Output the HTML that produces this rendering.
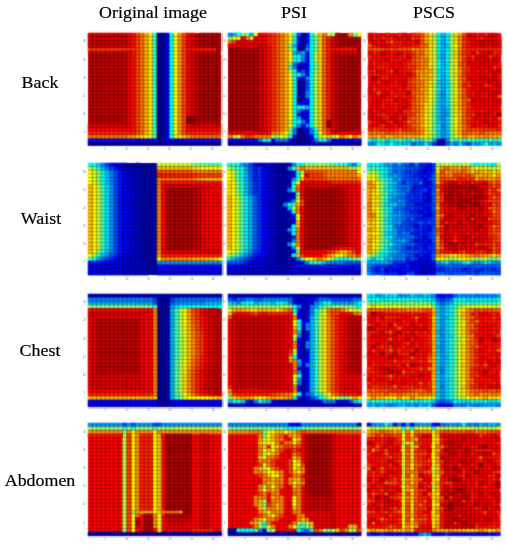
<!DOCTYPE html>
<html><head><meta charset="utf-8"><title>Figure</title>
<style>
html,body{margin:0;padding:0;background:#fff}
body{width:507px;height:550px;position:relative;overflow:hidden;font-family:"Liberation Serif",serif;color:#111}
.hm{position:absolute;display:block}
.k{stroke-width:.6px;vector-effect:non-scaling-stroke}
.gl{fill:none;stroke:#000;stroke-opacity:0.5;stroke-width:0.6px;vector-effect:non-scaling-stroke}
.t{position:absolute;white-space:nowrap;font-size:17.3px;line-height:20px;color:#000;-webkit-text-stroke:.2px #000}
.c{transform:translateX(-50%) scaleX(1.035)}
.tk{position:absolute;font-family:"Liberation Sans",sans-serif;font-size:2.8px;line-height:3px;color:#8a8a8a;width:4px;text-align:center}
</style></head><body>
<svg width="0" height="0" style="position:absolute"><defs><filter id="bl" x="0" y="0" width="100%" height="100%" color-interpolation-filters="sRGB"><feConvolveMatrix order="3" kernelMatrix="1 4 1 4 16 4 1 4 1" edgeMode="duplicate"/></filter></defs></svg>
<div class="t c" style="left:152.9px;top:2.7px">Original image</div>
<div class="t c" style="left:294.2px;top:2.7px">PSI</div>
<div class="t c" style="left:434.3px;top:2.7px">PSCS</div>
<div class="t c" style="left:40.3px;top:72.7px">Back</div>
<div class="t c" style="left:40.6px;top:209.3px">Waist</div>
<div class="t c" style="left:40px;top:340.6px">Chest</div>
<div class="t c" style="left:40.1px;top:470.5px">Abdomen</div>

<svg class="hm" style="left:86px;top:31px" width="136.9" height="116.5">
<g filter="url(#bl)"><rect width="100%" height="100%" fill="#fff"/>
<g transform="translate(2 2) scale(4.2871 3.6290)">
<rect width="31" height="31" fill="#bf0000"/>
<path class="k" fill="#00008f" stroke="#00008f" d="M16 30h2v1h-2z"/>
<path class="k" fill="#00009f" stroke="#00009f" d="M16 0h2v1h-2zM16 1h2v1h-2zM16 2h2v1h-2zM16 3h2v1h-2zM16 4h2v1h-2zM16 5h2v1h-2zM16 6h2v1h-2zM16 7h2v1h-2zM16 8h2v1h-2zM16 9h2v1h-2zM16 10h2v1h-2zM16 11h2v1h-2zM16 12h2v1h-2zM16 13h2v1h-2zM16 14h2v1h-2zM16 15h2v1h-2zM16 16h2v1h-2zM16 17h2v1h-2zM16 18h2v1h-2zM16 19h2v1h-2zM16 20h2v1h-2zM16 21h2v1h-2zM16 22h2v1h-2zM16 23h2v1h-2zM16 24h2v1h-2zM16 25h2v1h-2zM16 26h2v1h-2zM16 27h2v1h-2zM16 28h2v1h-2zM0 30h16v1h-16zM18 30h13v1h-13z"/>
<path class="k" fill="#0000af" stroke="#0000af" d="M16 29h2v1h-2z"/>
<path class="k" fill="#0000df" stroke="#0000df" d="M18 0h1v1h-1zM18 1h1v1h-1zM18 2h1v1h-1zM18 3h1v1h-1zM18 4h1v1h-1zM18 5h1v1h-1zM18 6h1v1h-1zM18 7h1v1h-1zM18 8h1v1h-1zM18 9h1v1h-1zM18 10h1v1h-1zM18 11h1v1h-1zM18 12h1v1h-1zM18 13h1v1h-1zM18 14h1v1h-1zM18 15h1v1h-1zM18 16h1v1h-1zM18 17h1v1h-1zM18 18h1v1h-1zM18 19h1v1h-1zM18 20h1v1h-1zM18 21h1v1h-1zM18 22h1v1h-1zM18 23h1v1h-1zM18 24h1v1h-1zM18 25h1v1h-1zM18 26h1v1h-1zM18 27h1v1h-1z"/>
<path class="k" fill="#0000ef" stroke="#0000ef" d="M18 28h1v1h-1z"/>
<path class="k" fill="#0000ff" stroke="#0000ff" d="M0 29h16v1h-16zM18 29h13v1h-13z"/>
<path class="k" fill="#00ffff" stroke="#00ffff" d="M19 0h1v1h-1zM19 1h1v1h-1zM19 2h1v1h-1zM19 3h1v1h-1zM19 4h1v1h-1zM19 5h1v1h-1zM19 6h1v1h-1zM19 7h1v1h-1zM19 8h1v1h-1zM19 9h1v1h-1zM19 10h1v1h-1zM19 11h1v1h-1zM19 12h1v1h-1zM19 13h1v1h-1zM19 14h1v1h-1zM19 15h1v1h-1zM19 16h1v1h-1zM19 17h1v1h-1zM19 18h1v1h-1zM19 19h1v1h-1zM19 20h1v1h-1zM19 21h1v1h-1zM19 22h1v1h-1zM19 23h1v1h-1zM19 24h1v1h-1zM19 25h1v1h-1zM19 26h1v1h-1zM19 27h1v1h-1z"/>
<path class="k" fill="#20ffdf" stroke="#20ffdf" d="M19 28h1v1h-1z"/>
<path class="k" fill="#30ffcf" stroke="#30ffcf" d="M15 0h1v1h-1zM15 1h1v1h-1zM15 2h1v1h-1zM15 3h1v1h-1zM15 4h1v1h-1zM15 5h1v1h-1zM15 6h1v1h-1zM15 7h1v1h-1zM15 8h1v1h-1zM15 9h1v1h-1zM15 10h1v1h-1zM15 11h1v1h-1zM15 12h1v1h-1zM15 13h1v1h-1zM15 14h1v1h-1zM15 15h1v1h-1zM15 16h1v1h-1zM15 17h1v1h-1zM15 18h1v1h-1zM15 19h1v1h-1zM15 20h1v1h-1zM15 21h1v1h-1zM15 22h1v1h-1zM15 23h1v1h-1zM15 24h1v1h-1zM15 25h1v1h-1zM15 26h1v1h-1zM15 27h1v1h-1z"/>
<path class="k" fill="#50ffaf" stroke="#50ffaf" d="M15 28h1v1h-1z"/>
<path class="k" fill="#dfff20" stroke="#dfff20" d="M14 28h1v1h-1zM20 28h1v1h-1z"/>
<path class="k" fill="#ffff00" stroke="#ffff00" d="M20 0h1v1h-1zM20 1h1v1h-1zM20 2h1v1h-1zM20 3h1v1h-1zM20 4h1v1h-1zM20 5h1v1h-1zM20 6h1v1h-1zM20 7h1v1h-1zM20 8h1v1h-1zM20 9h1v1h-1zM20 10h1v1h-1zM20 11h1v1h-1zM20 12h1v1h-1zM20 13h1v1h-1zM20 14h1v1h-1zM20 15h1v1h-1zM20 16h1v1h-1zM20 17h1v1h-1zM20 18h1v1h-1zM20 19h1v1h-1zM20 20h1v1h-1zM20 21h1v1h-1zM20 22h1v1h-1zM20 23h1v1h-1zM20 24h1v1h-1zM20 25h1v1h-1zM20 26h1v1h-1zM20 27h1v1h-1zM13 28h1v1h-1z"/>
<path class="k" fill="#ffef00" stroke="#ffef00" d="M14 0h1v1h-1zM14 1h1v1h-1zM14 2h1v1h-1zM14 3h1v1h-1zM14 4h1v1h-1zM14 5h1v1h-1zM14 6h1v1h-1zM14 7h1v1h-1zM14 8h1v1h-1zM14 9h1v1h-1zM14 10h1v1h-1zM14 11h1v1h-1zM14 12h1v1h-1zM14 13h1v1h-1zM14 14h1v1h-1zM14 15h1v1h-1zM14 16h1v1h-1zM14 17h1v1h-1zM14 18h1v1h-1zM14 19h1v1h-1zM14 20h1v1h-1zM14 21h1v1h-1zM14 22h1v1h-1zM14 23h1v1h-1zM14 24h1v1h-1zM14 25h1v1h-1zM14 26h1v1h-1zM14 27h1v1h-1zM21 28h1v1h-1z"/>
<path class="k" fill="#ffdf00" stroke="#ffdf00" d="M12 28h1v1h-1z"/>
<path class="k" fill="#ffbf00" stroke="#ffbf00" d="M11 28h1v1h-1zM22 28h1v1h-1z"/>
<path class="k" fill="#ffaf00" stroke="#ffaf00" d="M13 0h1v1h-1zM13 1h1v1h-1zM13 2h1v1h-1zM13 3h1v1h-1zM13 4h1v1h-1zM13 5h1v1h-1zM13 6h1v1h-1zM13 7h1v1h-1zM13 8h1v1h-1zM13 9h1v1h-1zM13 10h1v1h-1zM13 11h1v1h-1zM13 12h1v1h-1zM13 13h1v1h-1zM13 14h1v1h-1zM13 15h1v1h-1zM13 16h1v1h-1zM13 17h1v1h-1zM13 18h1v1h-1zM13 19h1v1h-1zM13 20h1v1h-1zM13 21h1v1h-1zM13 22h1v1h-1zM13 23h1v1h-1zM13 24h1v1h-1zM13 25h1v1h-1zM13 26h1v1h-1zM13 27h1v1h-1z"/>
<path class="k" fill="#ff9f00" stroke="#ff9f00" d="M10 28h1v1h-1zM23 28h1v1h-1z"/>
<path class="k" fill="#ff8f00" stroke="#ff8f00" d="M21 0h1v1h-1zM21 1h1v1h-1zM21 2h1v1h-1zM21 3h1v1h-1zM21 4h1v1h-1zM21 5h1v1h-1zM21 6h1v1h-1zM21 7h1v1h-1zM21 8h1v1h-1zM21 9h1v1h-1zM21 10h1v1h-1zM21 11h1v1h-1zM21 12h1v1h-1zM21 13h1v1h-1zM21 14h1v1h-1zM21 15h1v1h-1zM21 16h1v1h-1zM21 17h1v1h-1zM21 18h1v1h-1zM21 19h1v1h-1zM21 20h1v1h-1zM21 21h1v1h-1zM21 22h1v1h-1zM21 23h1v1h-1zM21 24h1v1h-1zM21 25h1v1h-1zM21 26h1v1h-1zM21 27h1v1h-1zM9 28h1v1h-1z"/>
<path class="k" fill="#ff7000" stroke="#ff7000" d="M12 0h1v1h-1zM12 1h1v1h-1zM12 2h1v1h-1zM12 3h1v1h-1zM12 4h1v1h-1zM12 5h1v1h-1zM12 6h1v1h-1zM12 7h1v1h-1zM12 8h1v1h-1zM12 9h1v1h-1zM12 10h1v1h-1zM12 11h1v1h-1zM12 12h1v1h-1zM12 13h1v1h-1zM12 14h1v1h-1zM12 15h1v1h-1zM12 16h1v1h-1zM12 17h1v1h-1zM12 18h1v1h-1zM12 19h1v1h-1zM12 20h1v1h-1zM12 21h1v1h-1zM12 22h1v1h-1zM12 23h1v1h-1zM12 24h1v1h-1zM12 25h1v1h-1zM12 26h1v1h-1zM12 27h1v1h-1zM0 28h9v1h-9zM24 28h7v1h-7z"/>
<path class="k" fill="#ff4000" stroke="#ff4000" d="M11 0h1v1h-1zM22 0h1v1h-1zM11 1h1v1h-1zM22 1h1v1h-1zM11 2h1v1h-1zM22 2h1v1h-1zM11 3h1v1h-1zM22 3h1v1h-1zM11 4h1v1h-1zM22 4h1v1h-1zM11 5h1v1h-1zM22 5h1v1h-1zM11 6h1v1h-1zM22 6h1v1h-1zM11 7h1v1h-1zM22 7h1v1h-1zM11 8h1v1h-1zM22 8h1v1h-1zM11 9h1v1h-1zM22 9h1v1h-1zM11 10h1v1h-1zM22 10h1v1h-1zM11 11h1v1h-1zM22 11h1v1h-1zM11 12h1v1h-1zM22 12h1v1h-1zM11 13h1v1h-1zM22 13h1v1h-1zM11 14h1v1h-1zM22 14h1v1h-1zM11 15h1v1h-1zM22 15h1v1h-1zM11 16h1v1h-1zM22 16h1v1h-1zM11 17h1v1h-1zM22 17h1v1h-1zM11 18h1v1h-1zM22 18h1v1h-1zM11 19h1v1h-1zM22 19h1v1h-1zM11 20h1v1h-1zM22 20h1v1h-1zM11 21h1v1h-1zM22 21h1v1h-1zM11 22h1v1h-1zM22 22h1v1h-1zM11 23h1v1h-1zM22 23h1v1h-1zM11 24h1v1h-1zM22 24h1v1h-1zM11 25h1v1h-1zM22 25h1v1h-1zM11 26h1v1h-1zM22 26h1v1h-1zM11 27h1v1h-1zM22 27h1v1h-1z"/>
<path class="k" fill="#ff3000" stroke="#ff3000" d="M0 4h11v1h-11z"/>
<path class="k" fill="#ff2000" stroke="#ff2000" d="M0 27h11v1h-11zM23 27h8v1h-8z"/>
<path class="k" fill="#ff1000" stroke="#ff1000" d="M10 0h1v1h-1zM10 1h1v1h-1zM10 2h1v1h-1zM10 3h1v1h-1zM23 4h7v1h-7zM10 5h1v1h-1zM10 6h1v1h-1zM10 7h1v1h-1zM10 8h1v1h-1zM10 9h1v1h-1zM10 10h1v1h-1zM10 11h1v1h-1zM10 12h1v1h-1zM10 13h1v1h-1zM10 14h1v1h-1zM10 15h1v1h-1zM10 16h1v1h-1zM10 17h1v1h-1zM10 18h1v1h-1zM10 19h1v1h-1zM10 20h1v1h-1zM10 21h1v1h-1zM10 22h1v1h-1zM10 23h1v1h-1zM10 24h1v1h-1zM10 25h1v1h-1zM10 26h1v1h-1z"/>
<path class="k" fill="#ff0000" stroke="#ff0000" d="M23 0h1v1h-1zM23 1h1v1h-1zM23 2h1v1h-1zM23 3h1v1h-1zM23 5h1v1h-1zM23 6h1v1h-1zM23 7h1v1h-1zM23 8h1v1h-1zM23 9h1v1h-1zM23 10h1v1h-1zM23 11h1v1h-1zM23 12h1v1h-1zM23 13h1v1h-1zM23 14h1v1h-1zM23 15h1v1h-1zM23 16h1v1h-1zM23 17h1v1h-1zM23 18h1v1h-1zM23 19h1v1h-1zM23 20h1v1h-1zM23 21h1v1h-1zM23 22h1v1h-1zM23 25h1v1h-1zM0 26h10v1h-10zM23 26h8v1h-8z"/>
<path class="k" fill="#ef0000" stroke="#ef0000" d="M9 0h1v1h-1zM9 1h1v1h-1zM9 2h1v1h-1zM9 3h1v1h-1zM9 5h1v1h-1zM9 6h1v1h-1zM9 7h1v1h-1zM9 8h1v1h-1zM9 9h1v1h-1zM9 10h1v1h-1zM9 11h1v1h-1zM9 12h1v1h-1zM9 13h1v1h-1zM9 14h1v1h-1zM9 15h1v1h-1zM9 16h1v1h-1zM9 17h1v1h-1zM9 18h1v1h-1zM9 19h1v1h-1zM9 20h1v1h-1zM9 21h1v1h-1zM9 22h1v1h-1zM9 23h1v1h-1zM9 24h1v1h-1zM9 25h1v1h-1z"/>
<path class="k" fill="#df0000" stroke="#df0000" d="M24 0h1v1h-1zM24 1h1v1h-1zM24 2h1v1h-1zM24 3h1v1h-1zM24 5h1v1h-1zM24 6h1v1h-1zM24 7h1v1h-1zM24 8h1v1h-1zM24 9h1v1h-1zM24 10h1v1h-1zM24 11h1v1h-1zM24 12h1v1h-1zM24 13h1v1h-1zM24 14h1v1h-1zM24 15h1v1h-1zM24 16h1v1h-1zM24 17h1v1h-1zM24 18h1v1h-1zM24 19h1v1h-1zM24 20h1v1h-1zM24 21h1v1h-1zM24 22h1v1h-1zM0 25h9v1h-9zM24 25h7v1h-7z"/>
<path class="k" fill="#cf0000" stroke="#cf0000" d="M0 0h9v1h-9zM0 1h9v1h-9zM0 2h9v1h-9zM0 3h9v1h-9zM8 5h1v1h-1zM8 6h1v1h-1zM8 7h1v1h-1zM8 8h1v1h-1zM8 9h1v1h-1zM8 10h1v1h-1zM8 11h1v1h-1zM8 12h1v1h-1zM8 13h1v1h-1zM8 14h1v1h-1zM8 15h1v1h-1zM8 16h1v1h-1zM8 17h1v1h-1zM8 18h1v1h-1zM8 19h1v1h-1zM8 20h1v1h-1zM8 21h1v1h-1zM8 22h1v1h-1zM8 23h1v1h-1zM8 24h1v1h-1z"/>
<path class="k" fill="#af0000" stroke="#af0000" d="M26 0h5v1h-5zM26 1h5v1h-5zM26 2h5v1h-5zM26 3h5v1h-5zM30 4h1v1h-1zM26 6h5v1h-5zM26 7h5v1h-5zM26 8h5v1h-5zM26 9h5v1h-5zM26 10h5v1h-5zM26 11h5v1h-5zM26 12h5v1h-5zM26 13h5v1h-5zM26 14h5v1h-5zM26 15h5v1h-5zM26 16h5v1h-5zM26 17h5v1h-5zM26 18h5v1h-5zM26 19h5v1h-5zM26 20h5v1h-5zM26 21h5v1h-5zM26 22h5v1h-5zM26 23h5v1h-5z"/>
<path class="k" fill="#8f0000" stroke="#8f0000" d="M23 23h2v1h-2zM23 24h2v1h-2z"/>
<path class="gl" d="M1 0V31M0 1H31M2 0V31M0 2H31M3 0V31M0 3H31M4 0V31M0 4H31M5 0V31M0 5H31M6 0V31M0 6H31M7 0V31M0 7H31M8 0V31M0 8H31M9 0V31M0 9H31M10 0V31M0 10H31M11 0V31M0 11H31M12 0V31M0 12H31M13 0V31M0 13H31M14 0V31M0 14H31M15 0V31M0 15H31M16 0V31M0 16H31M17 0V31M0 17H31M18 0V31M0 18H31M19 0V31M0 19H31M20 0V31M0 20H31M21 0V31M0 21H31M22 0V31M0 22H31M23 0V31M0 23H31M24 0V31M0 24H31M25 0V31M0 25H31M26 0V31M0 26H31M27 0V31M0 27H31M28 0V31M0 28H31M29 0V31M0 29H31M30 0V31M0 30H31"/>
</g></g></svg>
<span class="tk" style="left:103.15px;top:147.8px">5</span>
<span class="tk" style="left:82.6px;top:131.08px">5</span>
<span class="tk" style="left:124.58px;top:147.8px">10</span>
<span class="tk" style="left:82.6px;top:112.94px">10</span>
<span class="tk" style="left:146.02px;top:147.8px">15</span>
<span class="tk" style="left:82.6px;top:94.79px">15</span>
<span class="tk" style="left:167.45px;top:147.8px">20</span>
<span class="tk" style="left:82.6px;top:76.65px">20</span>
<span class="tk" style="left:188.89px;top:147.8px">25</span>
<span class="tk" style="left:82.6px;top:58.5px">25</span>
<span class="tk" style="left:210.33px;top:147.8px">30</span>
<span class="tk" style="left:82.6px;top:40.36px">30</span>
<svg class="hm" style="left:226px;top:31px" width="137.2" height="116.5">
<g filter="url(#bl)"><rect width="100%" height="100%" fill="#fff"/>
<g transform="translate(2 2) scale(4.2968 3.6290)">
<rect width="31" height="31" fill="#af0000"/>
<path class="k" fill="#00009f" stroke="#00009f" d="M17 0h1v1h-1zM17 1h1v1h-1zM17 2h1v1h-1zM17 3h1v1h-1zM16 4h2v1h-2zM16 9h2v1h-2zM16 13h2v1h-2zM16 14h2v1h-2zM16 15h2v1h-2zM16 16h1v1h-1zM16 17h1v1h-1zM16 18h2v1h-2zM16 22h1v1h-1zM16 26h2v1h-2zM16 27h2v1h-2zM16 28h3v1h-3zM15 29h4v1h-4z"/>
<path class="k" fill="#0000af" stroke="#0000af" d="M0 30h31v1h-31z"/>
<path class="k" fill="#0000cf" stroke="#0000cf" d="M16 3h1v1h-1zM17 16h1v1h-1zM17 17h1v1h-1z"/>
<path class="k" fill="#0000ff" stroke="#0000ff" d="M18 0h1v1h-1zM16 1h1v1h-1zM18 1h1v1h-1zM16 2h1v1h-1zM18 2h1v1h-1zM18 5h1v1h-1zM18 6h1v1h-1zM18 7h1v1h-1zM16 8h3v1h-3zM18 9h1v1h-1zM16 10h1v1h-1zM18 10h1v1h-1zM18 11h1v1h-1zM16 12h2v1h-2zM18 18h1v1h-1zM16 19h3v1h-3zM17 21h2v1h-2zM17 22h2v1h-2zM17 23h2v1h-2zM18 24h1v1h-1zM17 25h1v1h-1zM18 26h1v1h-1zM18 27h1v1h-1zM15 28h1v1h-1zM19 28h1v1h-1zM0 29h7v1h-7zM10 29h1v1h-1zM14 29h1v1h-1zM19 29h1v1h-1zM24 29h7v1h-7z"/>
<path class="k" fill="#0040ff" stroke="#0040ff" d="M18 3h1v1h-1zM17 10h1v1h-1zM18 13h1v1h-1zM18 14h1v1h-1zM18 15h1v1h-1z"/>
<path class="k" fill="#0050ff" stroke="#0050ff" d="M16 0h1v1h-1z"/>
<path class="k" fill="#0080ff" stroke="#0080ff" d="M0 0h1v1h-1zM18 4h1v1h-1zM16 5h1v1h-1zM17 6h1v1h-1zM17 7h1v1h-1zM15 8h1v1h-1zM15 9h1v1h-1zM17 11h1v1h-1zM18 12h1v1h-1zM18 16h1v1h-1zM18 17h1v1h-1zM16 21h1v1h-1zM17 24h1v1h-1zM16 25h1v1h-1zM18 25h1v1h-1zM15 26h1v1h-1zM19 26h1v1h-1zM15 27h1v1h-1zM19 27h1v1h-1zM7 29h1v1h-1zM11 29h3v1h-3zM20 29h1v1h-1zM23 29h1v1h-1z"/>
<path class="k" fill="#00afff" stroke="#00afff" d="M1 0h1v1h-1zM5 0h1v1h-1zM15 3h1v1h-1zM15 5h1v1h-1zM17 5h1v1h-1zM18 20h1v1h-1zM16 23h1v1h-1z"/>
<path class="k" fill="#00ffff" stroke="#00ffff" d="M2 0h1v1h-1zM19 0h1v1h-1zM15 1h1v1h-1zM19 1h1v1h-1zM15 2h1v1h-1zM19 2h1v1h-1zM19 3h1v1h-1zM15 4h1v1h-1zM19 4h1v1h-1zM19 5h1v1h-1zM15 6h2v1h-2zM19 6h1v1h-1zM15 7h2v1h-2zM19 7h1v1h-1zM19 8h1v1h-1zM19 9h1v1h-1zM15 10h1v1h-1zM19 10h1v1h-1zM15 11h2v1h-2zM19 11h1v1h-1zM15 12h1v1h-1zM19 12h1v1h-1zM15 13h1v1h-1zM19 13h1v1h-1zM15 14h1v1h-1zM19 14h1v1h-1zM15 15h1v1h-1zM19 15h1v1h-1zM15 16h1v1h-1zM19 16h1v1h-1zM15 17h1v1h-1zM19 17h1v1h-1zM15 18h1v1h-1zM19 18h1v1h-1zM15 19h1v1h-1zM19 19h1v1h-1zM15 20h3v1h-3zM19 20h1v1h-1zM15 21h1v1h-1zM19 21h1v1h-1zM15 22h1v1h-1zM19 22h1v1h-1zM15 23h1v1h-1zM19 23h1v1h-1zM15 24h2v1h-2zM19 24h1v1h-1zM15 25h1v1h-1zM19 25h1v1h-1zM20 27h1v1h-1zM14 28h1v1h-1zM20 28h1v1h-1zM8 29h2v1h-2zM21 29h2v1h-2z"/>
<path class="k" fill="#30ffcf" stroke="#30ffcf" d="M15 0h1v1h-1zM20 26h1v1h-1z"/>
<path class="k" fill="#40ffbf" stroke="#40ffbf" d="M14 9h1v1h-1z"/>
<path class="k" fill="#70ff8f" stroke="#70ff8f" d="M3 0h2v1h-2zM29 0h1v1h-1zM0 1h1v1h-1zM20 1h1v1h-1zM20 2h1v1h-1zM14 3h1v1h-1zM20 3h1v1h-1zM20 4h1v1h-1zM14 8h1v1h-1zM20 8h1v1h-1zM20 9h1v1h-1zM20 10h1v1h-1zM14 26h1v1h-1zM14 27h1v1h-1zM11 28h1v1h-1z"/>
<path class="k" fill="#afff50" stroke="#afff50" d="M20 0h1v1h-1zM23 0h2v1h-2zM14 4h1v1h-1zM20 5h1v1h-1zM20 6h1v1h-1zM20 7h1v1h-1zM14 10h1v1h-1zM20 11h1v1h-1zM20 12h1v1h-1zM20 13h1v1h-1zM20 14h1v1h-1zM20 15h1v1h-1zM20 16h1v1h-1zM20 17h1v1h-1zM20 18h1v1h-1zM20 19h1v1h-1zM20 20h1v1h-1zM20 21h1v1h-1zM20 22h1v1h-1zM20 23h1v1h-1zM14 24h1v1h-1zM20 24h1v1h-1zM20 25h1v1h-1zM1 28h1v1h-1zM10 28h1v1h-1zM13 28h1v1h-1zM21 28h1v1h-1zM24 28h1v1h-1z"/>
<path class="k" fill="#ffff00" stroke="#ffff00" d="M6 0h1v1h-1zM14 0h1v1h-1zM30 0h1v1h-1zM1 1h2v1h-2zM5 1h1v1h-1zM14 1h1v1h-1zM14 2h1v1h-1zM14 5h1v1h-1zM14 6h1v1h-1zM14 7h1v1h-1zM14 11h1v1h-1zM14 12h1v1h-1zM14 13h1v1h-1zM14 14h1v1h-1zM14 15h1v1h-1zM14 16h1v1h-1zM14 17h1v1h-1zM14 18h1v1h-1zM14 19h1v1h-1zM14 20h1v1h-1zM14 21h1v1h-1zM14 22h1v1h-1zM14 23h1v1h-1zM14 25h1v1h-1zM13 27h1v1h-1zM21 27h1v1h-1zM2 28h1v1h-1zM12 28h1v1h-1zM22 28h1v1h-1zM25 28h1v1h-1zM28 28h1v1h-1z"/>
<path class="k" fill="#ffcf00" stroke="#ffcf00" d="M21 1h1v1h-1zM21 2h1v1h-1zM21 3h1v1h-1zM21 4h1v1h-1zM21 5h1v1h-1zM21 6h1v1h-1zM21 7h1v1h-1zM21 8h1v1h-1zM21 9h1v1h-1zM21 10h1v1h-1zM21 11h1v1h-1zM21 12h1v1h-1zM21 13h1v1h-1zM21 14h1v1h-1zM21 15h1v1h-1zM21 16h1v1h-1zM21 17h1v1h-1zM21 18h1v1h-1zM21 19h1v1h-1zM21 20h1v1h-1zM21 21h1v1h-1zM21 22h1v1h-1zM21 23h1v1h-1zM21 24h1v1h-1zM21 25h1v1h-1zM21 26h1v1h-1z"/>
<path class="k" fill="#ffbf00" stroke="#ffbf00" d="M21 0h1v1h-1zM12 27h1v1h-1zM23 28h1v1h-1zM27 28h1v1h-1zM30 28h1v1h-1z"/>
<path class="k" fill="#ffaf00" stroke="#ffaf00" d="M13 0h1v1h-1zM13 1h1v1h-1zM13 2h1v1h-1zM13 3h1v1h-1zM13 4h1v1h-1zM13 5h1v1h-1zM13 6h1v1h-1zM13 7h1v1h-1zM13 8h1v1h-1zM13 9h1v1h-1zM13 10h1v1h-1zM13 11h1v1h-1zM13 12h1v1h-1zM13 13h1v1h-1zM13 14h1v1h-1zM13 15h1v1h-1zM13 16h1v1h-1zM13 17h1v1h-1zM13 18h1v1h-1zM13 19h1v1h-1zM13 20h1v1h-1zM13 21h1v1h-1zM13 22h1v1h-1zM13 23h1v1h-1zM13 24h1v1h-1zM13 25h1v1h-1zM13 26h1v1h-1z"/>
<path class="k" fill="#ff8000" stroke="#ff8000" d="M12 0h1v1h-1zM22 0h1v1h-1zM28 0h1v1h-1zM4 1h1v1h-1zM12 1h1v1h-1zM0 2h1v1h-1zM12 2h1v1h-1zM12 3h1v1h-1zM12 4h1v1h-1zM12 5h1v1h-1zM12 6h1v1h-1zM12 7h1v1h-1zM12 8h1v1h-1zM12 9h1v1h-1zM12 10h1v1h-1zM12 11h1v1h-1zM12 12h1v1h-1zM12 13h1v1h-1zM12 14h1v1h-1zM12 15h1v1h-1zM12 16h1v1h-1zM12 17h1v1h-1zM12 18h1v1h-1zM12 19h1v1h-1zM12 20h1v1h-1zM12 21h1v1h-1zM12 22h1v1h-1zM12 23h1v1h-1zM12 24h1v1h-1zM12 25h1v1h-1zM12 26h1v1h-1zM10 27h2v1h-2zM22 27h1v1h-1zM0 28h1v1h-1zM3 28h1v1h-1zM6 28h4v1h-4zM26 28h1v1h-1zM29 28h1v1h-1z"/>
<path class="k" fill="#ff6000" stroke="#ff6000" d="M22 1h1v1h-1zM22 2h1v1h-1zM22 3h1v1h-1zM22 4h1v1h-1zM22 5h1v1h-1zM22 6h1v1h-1zM22 7h1v1h-1zM22 8h1v1h-1zM22 9h1v1h-1zM22 10h1v1h-1zM22 11h1v1h-1zM22 12h1v1h-1zM22 13h1v1h-1zM22 14h1v1h-1zM22 15h1v1h-1zM22 16h1v1h-1zM22 17h1v1h-1zM22 18h1v1h-1zM22 19h1v1h-1zM22 20h1v1h-1zM22 21h1v1h-1zM22 22h1v1h-1zM22 23h1v1h-1zM22 24h1v1h-1zM22 25h1v1h-1zM22 26h1v1h-1z"/>
<path class="k" fill="#ff5000" stroke="#ff5000" d="M11 0h1v1h-1zM11 1h1v1h-1zM11 2h1v1h-1zM11 3h1v1h-1zM11 4h1v1h-1zM11 5h1v1h-1zM11 6h1v1h-1zM11 7h1v1h-1zM11 8h1v1h-1zM11 9h1v1h-1zM11 10h1v1h-1zM11 11h1v1h-1zM11 12h1v1h-1zM11 13h1v1h-1zM11 14h1v1h-1zM11 15h1v1h-1zM11 16h1v1h-1zM11 17h1v1h-1zM11 18h1v1h-1zM11 19h1v1h-1zM11 20h1v1h-1zM11 21h1v1h-1zM11 22h1v1h-1zM11 23h1v1h-1zM11 24h1v1h-1zM11 25h1v1h-1zM11 26h1v1h-1z"/>
<path class="k" fill="#ff4000" stroke="#ff4000" d="M1 2h1v1h-1zM23 27h1v1h-1zM4 28h2v1h-2z"/>
<path class="k" fill="#ff3000" stroke="#ff3000" d="M10 0h1v1h-1zM10 1h1v1h-1zM10 2h1v1h-1zM10 3h1v1h-1zM10 4h1v1h-1zM10 5h1v1h-1zM10 6h1v1h-1zM10 7h1v1h-1zM10 8h1v1h-1zM10 9h1v1h-1zM10 10h1v1h-1zM10 11h1v1h-1zM10 12h1v1h-1zM10 13h1v1h-1zM10 14h1v1h-1zM10 15h1v1h-1zM10 16h1v1h-1zM10 17h1v1h-1zM10 18h1v1h-1zM10 19h1v1h-1zM10 20h1v1h-1zM10 21h1v1h-1zM10 22h1v1h-1zM10 23h1v1h-1zM10 24h1v1h-1zM10 25h1v1h-1zM10 26h1v1h-1z"/>
<path class="k" fill="#ff2000" stroke="#ff2000" d="M9 0h1v1h-1zM9 1h1v1h-1zM23 1h1v1h-1zM9 2h1v1h-1zM23 2h1v1h-1zM23 3h1v1h-1zM23 4h1v1h-1zM23 5h1v1h-1zM23 6h1v1h-1zM23 7h1v1h-1zM23 8h1v1h-1zM23 9h1v1h-1zM23 10h1v1h-1zM23 11h1v1h-1zM23 12h1v1h-1zM23 13h1v1h-1zM23 14h1v1h-1zM23 15h1v1h-1zM23 16h1v1h-1zM23 17h1v1h-1zM23 18h1v1h-1zM23 19h1v1h-1zM23 20h1v1h-1zM23 21h1v1h-1zM23 22h1v1h-1zM23 23h1v1h-1zM23 26h1v1h-1z"/>
<path class="k" fill="#ff1000" stroke="#ff1000" d="M9 3h1v1h-1zM9 4h1v1h-1zM24 4h6v1h-6zM9 5h1v1h-1zM9 6h1v1h-1zM9 7h1v1h-1zM9 8h1v1h-1zM9 9h1v1h-1zM9 10h1v1h-1zM9 11h1v1h-1zM9 12h1v1h-1zM9 13h1v1h-1zM9 14h1v1h-1zM9 15h1v1h-1zM9 16h1v1h-1zM9 17h1v1h-1zM9 18h1v1h-1zM9 19h1v1h-1zM9 20h1v1h-1zM9 21h1v1h-1zM9 22h1v1h-1zM9 23h1v1h-1zM9 24h1v1h-1zM9 25h1v1h-1zM9 26h1v1h-1zM9 27h1v1h-1z"/>
<path class="k" fill="#ff0000" stroke="#ff0000" d="M7 0h2v1h-2zM3 1h1v1h-1zM7 1h2v1h-2zM7 2h2v1h-2zM0 27h9v1h-9zM24 27h7v1h-7z"/>
<path class="k" fill="#ef0000" stroke="#ef0000" d="M6 1h1v1h-1zM2 2h5v1h-5zM0 3h7v1h-7zM8 3h1v1h-1zM8 4h1v1h-1zM8 5h1v1h-1zM8 6h1v1h-1zM8 7h1v1h-1zM8 8h1v1h-1zM8 9h1v1h-1zM8 10h1v1h-1zM8 11h1v1h-1zM8 12h1v1h-1zM8 13h1v1h-1zM8 14h1v1h-1zM8 15h1v1h-1zM8 16h1v1h-1zM8 17h1v1h-1zM8 18h1v1h-1zM8 19h1v1h-1zM8 20h1v1h-1zM8 21h1v1h-1zM8 22h1v1h-1zM8 23h1v1h-1zM8 24h1v1h-1zM8 25h1v1h-1zM8 26h1v1h-1z"/>
<path class="k" fill="#df0000" stroke="#df0000" d="M24 1h1v1h-1zM24 2h1v1h-1zM24 3h1v1h-1zM24 5h6v1h-6zM24 6h1v1h-1zM24 7h1v1h-1zM24 8h1v1h-1zM24 9h1v1h-1zM24 10h1v1h-1zM24 11h1v1h-1zM24 12h1v1h-1zM24 13h1v1h-1zM24 14h1v1h-1zM24 15h1v1h-1zM24 16h1v1h-1zM24 17h1v1h-1zM24 18h1v1h-1zM24 19h1v1h-1zM24 20h1v1h-1zM24 21h1v1h-1zM24 22h1v1h-1zM24 23h1v1h-1zM24 24h1v1h-1zM24 25h1v1h-1zM24 26h1v1h-1z"/>
<path class="k" fill="#cf0000" stroke="#cf0000" d="M7 3h1v1h-1zM7 4h1v1h-1zM7 5h1v1h-1zM7 6h1v1h-1zM7 7h1v1h-1zM7 8h1v1h-1zM7 9h1v1h-1zM7 10h1v1h-1zM7 11h1v1h-1zM7 12h1v1h-1zM7 13h1v1h-1zM7 14h1v1h-1zM7 15h1v1h-1zM7 16h1v1h-1zM7 17h1v1h-1zM7 18h1v1h-1zM7 19h1v1h-1zM7 20h1v1h-1zM7 21h1v1h-1zM7 22h1v1h-1zM7 23h1v1h-1zM7 24h1v1h-1zM7 25h1v1h-1zM7 26h1v1h-1z"/>
<path class="k" fill="#bf0000" stroke="#bf0000" d="M25 0h1v1h-1zM25 1h1v1h-1zM25 2h1v1h-1zM25 3h1v1h-1zM25 6h1v1h-1zM25 7h1v1h-1zM25 8h1v1h-1zM25 9h1v1h-1zM25 10h1v1h-1zM25 11h1v1h-1zM25 12h1v1h-1zM25 13h1v1h-1zM25 14h1v1h-1zM25 15h1v1h-1zM25 16h1v1h-1zM25 17h1v1h-1zM25 18h1v1h-1zM25 19h1v1h-1zM25 20h1v1h-1zM25 21h1v1h-1zM25 22h1v1h-1zM25 23h1v1h-1zM25 24h1v1h-1zM25 25h1v1h-1zM25 26h1v1h-1z"/>
<path class="k" fill="#9f0000" stroke="#9f0000" d="M23 24h1v1h-1zM23 25h1v1h-1z"/>
<path class="gl" d="M1 0V31M0 1H31M2 0V31M0 2H31M3 0V31M0 3H31M4 0V31M0 4H31M5 0V31M0 5H31M6 0V31M0 6H31M7 0V31M0 7H31M8 0V31M0 8H31M9 0V31M0 9H31M10 0V31M0 10H31M11 0V31M0 11H31M12 0V31M0 12H31M13 0V31M0 13H31M14 0V31M0 14H31M15 0V31M0 15H31M16 0V31M0 16H31M17 0V31M0 17H31M18 0V31M0 18H31M19 0V31M0 19H31M20 0V31M0 20H31M21 0V31M0 21H31M22 0V31M0 22H31M23 0V31M0 23H31M24 0V31M0 24H31M25 0V31M0 25H31M26 0V31M0 26H31M27 0V31M0 27H31M28 0V31M0 28H31M29 0V31M0 29H31M30 0V31M0 30H31"/>
</g></g></svg>
<span class="tk" style="left:243.19px;top:147.8px">5</span>
<span class="tk" style="left:222.6px;top:131.08px">5</span>
<span class="tk" style="left:264.67px;top:147.8px">10</span>
<span class="tk" style="left:222.6px;top:112.94px">10</span>
<span class="tk" style="left:286.15px;top:147.8px">15</span>
<span class="tk" style="left:222.6px;top:94.79px">15</span>
<span class="tk" style="left:307.64px;top:147.8px">20</span>
<span class="tk" style="left:222.6px;top:76.65px">20</span>
<span class="tk" style="left:329.12px;top:147.8px">25</span>
<span class="tk" style="left:222.6px;top:58.5px">25</span>
<span class="tk" style="left:350.61px;top:147.8px">30</span>
<span class="tk" style="left:222.6px;top:40.36px">30</span>
<svg class="hm" style="left:365.6px;top:31px" width="137.3" height="116.5">
<g filter="url(#bl)"><rect width="100%" height="100%" fill="#fff"/>
<g transform="translate(2 2) scale(4.3000 3.6290)">
<rect width="31" height="31" fill="#ff0000"/>
<path class="k" fill="#00009f" stroke="#00009f" d="M16 30h2v1h-2z"/>
<path class="k" fill="#0000bf" stroke="#0000bf" d="M17 29h1v1h-1z"/>
<path class="k" fill="#0000df" stroke="#0000df" d="M16 29h1v1h-1z"/>
<path class="k" fill="#0020ff" stroke="#0020ff" d="M15 30h1v1h-1z"/>
<path class="k" fill="#0040ff" stroke="#0040ff" d="M23 30h1v1h-1z"/>
<path class="k" fill="#0050ff" stroke="#0050ff" d="M10 30h1v1h-1zM18 30h1v1h-1z"/>
<path class="k" fill="#0070ff" stroke="#0070ff" d="M17 25h1v1h-1zM20 30h1v1h-1zM22 30h1v1h-1z"/>
<path class="k" fill="#0080ff" stroke="#0080ff" d="M17 23h1v1h-1zM17 26h1v1h-1zM18 29h1v1h-1zM0 30h1v1h-1zM12 30h1v1h-1z"/>
<path class="k" fill="#008fff" stroke="#008fff" d="M17 16h1v1h-1zM17 17h1v1h-1zM17 20h1v1h-1zM17 21h1v1h-1zM17 22h1v1h-1zM1 30h1v1h-1zM11 30h1v1h-1zM14 30h1v1h-1zM25 30h1v1h-1zM30 30h1v1h-1z"/>
<path class="k" fill="#009fff" stroke="#009fff" d="M17 2h1v1h-1zM17 6h1v1h-1zM17 14h1v1h-1zM17 15h1v1h-1zM17 18h1v1h-1zM18 22h1v1h-1zM17 24h1v1h-1zM17 27h1v1h-1zM17 28h1v1h-1zM28 30h1v1h-1z"/>
<path class="k" fill="#00afff" stroke="#00afff" d="M17 0h1v1h-1zM17 1h1v1h-1zM17 3h1v1h-1zM17 5h1v1h-1zM17 7h1v1h-1zM17 8h1v1h-1zM17 11h1v1h-1zM17 12h1v1h-1zM17 13h1v1h-1zM17 19h1v1h-1zM15 29h1v1h-1zM4 30h1v1h-1zM19 30h1v1h-1zM24 30h1v1h-1z"/>
<path class="k" fill="#00bfff" stroke="#00bfff" d="M17 4h1v1h-1zM17 9h1v1h-1zM17 10h1v1h-1zM18 21h1v1h-1zM16 23h1v1h-1zM18 25h1v1h-1zM18 26h1v1h-1zM18 27h1v1h-1zM18 28h1v1h-1zM6 30h1v1h-1zM8 30h1v1h-1zM26 30h1v1h-1zM29 30h1v1h-1z"/>
<path class="k" fill="#00cfff" stroke="#00cfff" d="M18 3h1v1h-1zM16 13h1v1h-1zM16 16h1v1h-1zM16 17h1v1h-1zM16 18h1v1h-1zM16 19h1v1h-1zM16 20h1v1h-1zM18 20h1v1h-1zM16 21h1v1h-1zM16 22h1v1h-1zM18 23h1v1h-1zM16 24h1v1h-1zM18 24h1v1h-1zM16 27h1v1h-1zM1 29h1v1h-1zM4 29h1v1h-1zM7 30h1v1h-1zM9 30h1v1h-1zM21 30h1v1h-1z"/>
<path class="k" fill="#00dfff" stroke="#00dfff" d="M16 6h1v1h-1zM16 10h1v1h-1zM18 13h1v1h-1zM16 14h1v1h-1zM18 14h1v1h-1zM18 17h1v1h-1zM18 18h1v1h-1zM18 19h1v1h-1zM16 25h1v1h-1zM16 26h1v1h-1zM16 28h1v1h-1zM9 29h1v1h-1zM3 30h1v1h-1z"/>
<path class="k" fill="#00efff" stroke="#00efff" d="M16 0h1v1h-1zM18 0h1v1h-1zM18 1h1v1h-1zM16 2h1v1h-1zM18 2h1v1h-1zM16 3h1v1h-1zM16 4h1v1h-1zM18 4h1v1h-1zM16 5h1v1h-1zM18 6h1v1h-1zM16 7h1v1h-1zM18 8h1v1h-1zM18 9h1v1h-1zM16 11h1v1h-1zM18 11h1v1h-1zM16 12h1v1h-1zM18 12h1v1h-1zM16 15h1v1h-1zM18 15h1v1h-1zM18 16h1v1h-1zM11 29h2v1h-2zM13 30h1v1h-1z"/>
<path class="k" fill="#00ffff" stroke="#00ffff" d="M16 1h1v1h-1zM18 5h1v1h-1zM18 7h1v1h-1zM16 8h1v1h-1zM16 9h1v1h-1zM18 10h1v1h-1zM0 29h1v1h-1zM8 29h1v1h-1zM20 29h1v1h-1zM2 30h1v1h-1z"/>
<path class="k" fill="#10ffef" stroke="#10ffef" d="M5 29h2v1h-2zM22 29h1v1h-1zM26 29h2v1h-2zM29 29h1v1h-1zM5 30h1v1h-1z"/>
<path class="k" fill="#20ffdf" stroke="#20ffdf" d="M25 29h1v1h-1zM30 29h1v1h-1zM27 30h1v1h-1z"/>
<path class="k" fill="#30ffcf" stroke="#30ffcf" d="M2 29h1v1h-1z"/>
<path class="k" fill="#40ffbf" stroke="#40ffbf" d="M15 22h1v1h-1zM15 26h1v1h-1zM21 29h1v1h-1zM23 29h2v1h-2zM28 29h1v1h-1z"/>
<path class="k" fill="#50ffaf" stroke="#50ffaf" d="M15 20h1v1h-1zM15 23h1v1h-1zM15 25h1v1h-1zM15 28h1v1h-1zM3 29h1v1h-1zM10 29h1v1h-1z"/>
<path class="k" fill="#60ff9f" stroke="#60ff9f" d="M15 21h1v1h-1zM15 24h1v1h-1zM15 27h1v1h-1zM7 29h1v1h-1zM14 29h1v1h-1z"/>
<path class="k" fill="#70ff8f" stroke="#70ff8f" d="M19 0h1v1h-1zM15 19h1v1h-1zM19 27h1v1h-1zM19 28h1v1h-1zM13 29h1v1h-1zM19 29h1v1h-1z"/>
<path class="k" fill="#80ff80" stroke="#80ff80" d="M15 14h1v1h-1zM15 16h1v1h-1zM15 18h1v1h-1zM19 19h1v1h-1zM19 21h1v1h-1zM19 22h1v1h-1zM19 23h1v1h-1zM19 24h1v1h-1zM19 25h1v1h-1zM19 26h1v1h-1z"/>
<path class="k" fill="#8fff70" stroke="#8fff70" d="M15 1h1v1h-1zM19 4h1v1h-1zM19 5h1v1h-1zM19 14h1v1h-1zM19 15h1v1h-1zM19 16h1v1h-1zM15 17h1v1h-1zM19 17h1v1h-1zM19 20h1v1h-1z"/>
<path class="k" fill="#9fff60" stroke="#9fff60" d="M15 0h1v1h-1zM19 2h1v1h-1zM19 6h1v1h-1zM19 8h1v1h-1zM15 11h1v1h-1zM19 12h1v1h-1zM19 13h1v1h-1zM15 15h1v1h-1zM19 18h1v1h-1z"/>
<path class="k" fill="#afff50" stroke="#afff50" d="M19 1h1v1h-1zM19 3h1v1h-1zM15 4h1v1h-1zM15 5h1v1h-1zM19 7h1v1h-1zM15 8h1v1h-1zM15 9h1v1h-1zM19 9h1v1h-1zM15 10h1v1h-1zM15 12h1v1h-1zM15 13h1v1h-1zM14 28h1v1h-1z"/>
<path class="k" fill="#bfff40" stroke="#bfff40" d="M15 2h1v1h-1zM15 3h1v1h-1zM15 6h1v1h-1zM15 7h1v1h-1zM19 10h1v1h-1zM19 11h1v1h-1z"/>
<path class="k" fill="#cfff30" stroke="#cfff30" d="M14 21h1v1h-1zM14 22h1v1h-1zM14 24h1v1h-1zM14 25h1v1h-1zM14 26h1v1h-1zM14 27h1v1h-1z"/>
<path class="k" fill="#dfff20" stroke="#dfff20" d="M20 14h1v1h-1zM14 19h1v1h-1zM14 23h1v1h-1zM20 28h1v1h-1z"/>
<path class="k" fill="#efff10" stroke="#efff10" d="M14 18h1v1h-1zM14 20h1v1h-1z"/>
<path class="k" fill="#ffff00" stroke="#ffff00" d="M20 3h1v1h-1zM14 15h1v1h-1zM14 16h1v1h-1zM20 16h1v1h-1zM14 17h1v1h-1zM20 23h1v1h-1zM20 24h1v1h-1zM20 25h1v1h-1zM13 28h1v1h-1z"/>
<path class="k" fill="#ffef00" stroke="#ffef00" d="M14 1h1v1h-1zM14 4h1v1h-1zM20 4h1v1h-1zM14 6h1v1h-1zM20 7h1v1h-1zM14 8h1v1h-1zM20 8h1v1h-1zM20 9h1v1h-1zM20 10h1v1h-1zM20 12h1v1h-1zM14 13h1v1h-1zM20 13h1v1h-1zM20 15h1v1h-1zM20 17h1v1h-1zM20 18h1v1h-1zM20 20h1v1h-1zM20 21h1v1h-1zM13 22h1v1h-1zM20 22h1v1h-1zM13 23h1v1h-1zM13 24h1v1h-1zM13 25h1v1h-1zM20 26h1v1h-1zM13 27h1v1h-1zM20 27h1v1h-1z"/>
<path class="k" fill="#ffdf00" stroke="#ffdf00" d="M14 0h1v1h-1zM20 1h1v1h-1zM14 2h1v1h-1zM20 2h1v1h-1zM14 3h1v1h-1zM14 5h1v1h-1zM20 5h1v1h-1zM20 6h1v1h-1zM14 7h1v1h-1zM14 9h1v1h-1zM14 11h1v1h-1zM20 11h1v1h-1zM14 14h1v1h-1zM13 19h1v1h-1zM20 19h1v1h-1zM13 20h1v1h-1zM13 21h1v1h-1zM13 26h1v1h-1zM2 28h1v1h-1zM12 28h1v1h-1zM21 28h1v1h-1z"/>
<path class="k" fill="#ffcf00" stroke="#ffcf00" d="M20 0h1v1h-1zM4 28h1v1h-1zM24 28h1v1h-1z"/>
<path class="k" fill="#ffbf00" stroke="#ffbf00" d="M14 12h1v1h-1zM13 16h1v1h-1zM13 17h1v1h-1zM13 18h1v1h-1zM21 22h1v1h-1zM5 28h1v1h-1zM9 28h1v1h-1zM23 28h1v1h-1z"/>
<path class="k" fill="#ffaf00" stroke="#ffaf00" d="M13 1h1v1h-1zM13 4h1v1h-1zM13 5h1v1h-1zM13 10h2v1h-2zM13 12h1v1h-1zM13 13h1v1h-1zM13 14h1v1h-1zM13 15h1v1h-1zM21 21h1v1h-1zM12 23h1v1h-1zM21 23h1v1h-1zM21 24h1v1h-1zM12 25h1v1h-1zM21 25h1v1h-1zM21 26h1v1h-1zM21 27h1v1h-1zM8 28h1v1h-1zM10 28h2v1h-2zM28 28h3v1h-3z"/>
<path class="k" fill="#ff9f00" stroke="#ff9f00" d="M13 0h1v1h-1zM21 0h1v1h-1zM13 2h1v1h-1zM13 6h1v1h-1zM21 10h1v1h-1zM12 11h2v1h-2zM12 12h1v1h-1zM12 15h1v1h-1zM21 16h1v1h-1zM21 18h1v1h-1zM12 19h1v1h-1zM21 19h1v1h-1zM21 20h1v1h-1zM12 21h1v1h-1zM12 22h1v1h-1zM12 24h1v1h-1zM0 28h2v1h-2zM6 28h2v1h-2zM25 28h2v1h-2z"/>
<path class="k" fill="#ff8f00" stroke="#ff8f00" d="M21 2h1v1h-1zM21 3h1v1h-1zM10 4h1v1h-1zM13 8h1v1h-1zM13 9h1v1h-1zM11 10h2v1h-2zM21 13h1v1h-1zM21 15h1v1h-1zM12 17h1v1h-1zM21 17h1v1h-1zM12 18h1v1h-1zM12 20h1v1h-1zM12 26h1v1h-1zM12 27h1v1h-1zM3 28h1v1h-1zM22 28h1v1h-1zM27 28h1v1h-1z"/>
<path class="k" fill="#ff8000" stroke="#ff8000" d="M21 1h1v1h-1zM11 4h2v1h-2zM21 4h1v1h-1zM12 6h1v1h-1zM21 6h1v1h-1zM12 7h2v1h-2zM21 7h1v1h-1zM12 8h1v1h-1zM12 9h1v1h-1zM21 9h1v1h-1zM21 11h1v1h-1zM21 12h1v1h-1zM12 13h1v1h-1zM12 14h1v1h-1zM21 14h1v1h-1zM12 16h1v1h-1zM11 17h1v1h-1zM11 22h1v1h-1zM11 24h1v1h-1zM1 27h1v1h-1zM7 27h1v1h-1zM28 27h2v1h-2z"/>
<path class="k" fill="#ff7000" stroke="#ff7000" d="M13 3h1v1h-1zM11 5h1v1h-1zM21 5h1v1h-1zM11 7h1v1h-1zM11 11h1v1h-1zM11 12h1v1h-1zM11 13h1v1h-1zM11 14h1v1h-1zM11 16h1v1h-1zM11 18h1v1h-1zM11 19h1v1h-1zM11 20h1v1h-1zM22 20h1v1h-1zM10 23h2v1h-2zM9 24h1v1h-1zM11 25h1v1h-1zM22 25h1v1h-1zM11 26h1v1h-1zM22 26h1v1h-1zM0 27h1v1h-1zM2 27h2v1h-2zM9 27h1v1h-1zM11 27h1v1h-1zM24 27h2v1h-2zM27 27h1v1h-1zM30 27h1v1h-1z"/>
<path class="k" fill="#ff6000" stroke="#ff6000" d="M12 1h1v1h-1zM5 2h1v1h-1zM12 3h1v1h-1zM1 4h1v1h-1zM12 5h1v1h-1zM11 6h1v1h-1zM11 8h1v1h-1zM21 8h1v1h-1zM11 9h1v1h-1zM10 13h1v1h-1zM11 15h1v1h-1zM10 16h1v1h-1zM30 17h1v1h-1zM22 18h1v1h-1zM10 21h2v1h-2zM22 21h1v1h-1zM22 22h1v1h-1zM22 23h1v1h-1zM22 24h1v1h-1zM10 25h1v1h-1zM6 27h1v1h-1zM8 27h1v1h-1zM10 27h1v1h-1zM22 27h2v1h-2z"/>
<path class="k" fill="#ff5000" stroke="#ff5000" d="M12 0h1v1h-1zM12 2h1v1h-1zM0 3h1v1h-1zM2 4h2v1h-2zM5 4h1v1h-1zM7 4h3v1h-3zM10 7h1v1h-1zM22 12h1v1h-1zM22 15h1v1h-1zM2 16h1v1h-1zM22 16h1v1h-1zM22 17h1v1h-1zM23 18h1v1h-1zM10 19h1v1h-1zM22 19h1v1h-1zM10 20h1v1h-1zM30 23h1v1h-1zM10 24h1v1h-1zM5 27h1v1h-1zM26 27h1v1h-1z"/>
<path class="k" fill="#ff4000" stroke="#ff4000" d="M22 0h1v1h-1zM10 1h1v1h-1zM22 2h1v1h-1zM0 4h1v1h-1zM22 4h1v1h-1zM25 5h1v1h-1zM22 6h1v1h-1zM10 8h1v1h-1zM22 8h1v1h-1zM22 9h1v1h-1zM29 9h1v1h-1zM5 10h1v1h-1zM10 10h1v1h-1zM22 10h1v1h-1zM10 12h1v1h-1zM22 13h1v1h-1zM10 14h1v1h-1zM23 14h1v1h-1zM10 15h1v1h-1zM10 17h1v1h-1zM10 18h1v1h-1zM10 22h1v1h-1zM9 23h1v1h-1zM1 26h1v1h-1zM7 26h1v1h-1zM10 26h1v1h-1zM23 26h3v1h-3zM4 27h1v1h-1z"/>
<path class="k" fill="#ff3000" stroke="#ff3000" d="M11 0h1v1h-1zM22 1h1v1h-1zM22 3h1v1h-1zM4 4h1v1h-1zM6 4h1v1h-1zM10 5h1v1h-1zM22 5h1v1h-1zM29 5h1v1h-1zM10 6h1v1h-1zM24 6h1v1h-1zM28 6h1v1h-1zM22 7h1v1h-1zM9 8h1v1h-1zM9 9h2v1h-2zM22 11h1v1h-1zM9 13h1v1h-1zM9 14h1v1h-1zM27 14h1v1h-1zM1 15h1v1h-1zM9 15h1v1h-1zM23 20h1v1h-1zM8 21h2v1h-2zM3 22h1v1h-1zM9 22h1v1h-1zM24 22h1v1h-1zM23 23h1v1h-1zM0 24h1v1h-1zM3 25h1v1h-1zM9 25h1v1h-1zM23 25h1v1h-1zM30 25h1v1h-1zM2 26h1v1h-1zM9 26h1v1h-1zM26 26h4v1h-4z"/>
<path class="k" fill="#ff2000" stroke="#ff2000" d="M7 0h1v1h-1zM10 0h1v1h-1zM1 1h1v1h-1zM3 1h1v1h-1zM5 1h1v1h-1zM11 1h1v1h-1zM26 1h1v1h-1zM4 2h1v1h-1zM7 2h1v1h-1zM10 3h2v1h-2zM23 4h8v1h-8zM1 5h1v1h-1zM8 5h1v1h-1zM23 5h1v1h-1zM0 6h1v1h-1zM8 6h1v1h-1zM1 8h1v1h-1zM2 9h2v1h-2zM23 9h1v1h-1zM1 10h1v1h-1zM23 10h1v1h-1zM1 11h1v1h-1zM10 11h1v1h-1zM3 12h2v1h-2zM9 12h1v1h-1zM2 13h1v1h-1zM23 13h1v1h-1zM22 14h1v1h-1zM5 16h1v1h-1zM6 17h1v1h-1zM8 17h1v1h-1zM5 18h1v1h-1zM23 19h1v1h-1zM3 20h1v1h-1zM23 21h1v1h-1zM23 22h1v1h-1zM4 23h1v1h-1zM7 23h1v1h-1zM5 24h1v1h-1zM23 24h1v1h-1zM0 26h1v1h-1zM3 26h2v1h-2zM6 26h1v1h-1zM8 26h1v1h-1zM30 26h1v1h-1z"/>
<path class="k" fill="#ff1000" stroke="#ff1000" d="M1 0h1v1h-1zM4 0h1v1h-1zM25 0h1v1h-1zM27 0h1v1h-1zM4 1h1v1h-1zM8 1h1v1h-1zM25 1h1v1h-1zM30 1h1v1h-1zM2 2h1v1h-1zM6 2h1v1h-1zM9 2h2v1h-2zM23 2h1v1h-1zM1 3h1v1h-1zM5 3h3v1h-3zM5 5h1v1h-1zM9 5h1v1h-1zM30 5h1v1h-1zM2 6h1v1h-1zM5 6h1v1h-1zM7 6h1v1h-1zM1 7h1v1h-1zM5 7h3v1h-3zM9 7h1v1h-1zM24 7h1v1h-1zM3 8h2v1h-2zM8 8h1v1h-1zM30 8h1v1h-1zM1 9h1v1h-1zM4 9h1v1h-1zM8 9h1v1h-1zM30 9h1v1h-1zM0 10h1v1h-1zM4 10h1v1h-1zM7 10h3v1h-3zM25 10h1v1h-1zM27 10h1v1h-1zM0 11h1v1h-1zM2 11h3v1h-3zM8 11h1v1h-1zM23 11h1v1h-1zM28 11h1v1h-1zM30 11h1v1h-1zM30 12h1v1h-1zM6 13h1v1h-1zM1 14h1v1h-1zM5 14h2v1h-2zM28 14h1v1h-1zM2 15h1v1h-1zM4 15h1v1h-1zM7 15h1v1h-1zM23 15h1v1h-1zM29 15h1v1h-1zM7 16h2v1h-2zM23 16h2v1h-2zM0 17h1v1h-1zM5 17h1v1h-1zM9 17h1v1h-1zM27 17h1v1h-1zM0 18h1v1h-1zM3 18h2v1h-2zM9 18h1v1h-1zM3 19h1v1h-1zM5 19h2v1h-2zM6 20h1v1h-1zM9 20h1v1h-1zM1 21h1v1h-1zM6 21h1v1h-1zM24 21h1v1h-1zM26 21h1v1h-1zM30 21h1v1h-1zM2 22h1v1h-1zM7 22h2v1h-2zM29 22h1v1h-1zM3 23h1v1h-1zM28 23h1v1h-1zM1 24h1v1h-1zM4 24h1v1h-1zM8 24h1v1h-1zM24 24h2v1h-2zM30 24h1v1h-1zM6 25h1v1h-1zM8 25h1v1h-1zM27 25h1v1h-1zM5 26h1v1h-1z"/>
<path class="k" fill="#ef0000" stroke="#ef0000" d="M0 0h1v1h-1zM8 0h1v1h-1zM24 0h1v1h-1zM26 0h1v1h-1zM29 0h1v1h-1zM0 1h1v1h-1zM6 1h2v1h-2zM9 1h1v1h-1zM24 1h1v1h-1zM27 1h1v1h-1zM29 1h1v1h-1zM1 2h1v1h-1zM8 2h1v1h-1zM24 2h1v1h-1zM30 2h1v1h-1zM4 3h1v1h-1zM24 3h1v1h-1zM27 3h1v1h-1zM30 3h1v1h-1zM0 5h1v1h-1zM4 5h1v1h-1zM26 5h2v1h-2zM3 6h1v1h-1zM6 6h1v1h-1zM9 6h1v1h-1zM25 6h1v1h-1zM27 6h1v1h-1zM4 7h1v1h-1zM26 7h1v1h-1zM7 8h1v1h-1zM23 8h2v1h-2zM29 8h1v1h-1zM0 9h1v1h-1zM24 9h1v1h-1zM26 9h2v1h-2zM2 10h1v1h-1zM24 10h1v1h-1zM26 10h1v1h-1zM28 10h2v1h-2zM7 11h1v1h-1zM9 11h1v1h-1zM25 11h2v1h-2zM5 12h1v1h-1zM8 12h1v1h-1zM23 12h3v1h-3zM28 12h1v1h-1zM3 13h1v1h-1zM7 13h2v1h-2zM24 13h1v1h-1zM26 13h1v1h-1zM29 13h2v1h-2zM24 14h3v1h-3zM0 15h1v1h-1zM24 15h1v1h-1zM0 16h1v1h-1zM4 16h1v1h-1zM28 16h1v1h-1zM25 17h1v1h-1zM28 17h2v1h-2zM2 18h1v1h-1zM8 18h1v1h-1zM25 18h1v1h-1zM27 18h1v1h-1zM2 19h1v1h-1zM24 19h1v1h-1zM26 19h1v1h-1zM29 19h2v1h-2zM2 20h1v1h-1zM25 20h2v1h-2zM28 20h1v1h-1zM0 21h1v1h-1zM3 21h1v1h-1zM28 21h1v1h-1zM0 22h1v1h-1zM6 22h1v1h-1zM26 22h1v1h-1zM2 23h1v1h-1zM6 23h1v1h-1zM25 23h1v1h-1zM27 23h1v1h-1zM29 23h1v1h-1zM26 24h1v1h-1zM4 25h1v1h-1zM7 25h1v1h-1zM24 25h1v1h-1zM28 25h2v1h-2z"/>
<path class="k" fill="#df0000" stroke="#df0000" d="M23 0h1v1h-1zM28 0h1v1h-1zM28 1h1v1h-1zM3 2h1v1h-1zM11 2h1v1h-1zM25 2h1v1h-1zM27 2h3v1h-3zM3 3h1v1h-1zM29 3h1v1h-1zM7 5h1v1h-1zM24 5h1v1h-1zM28 5h1v1h-1zM26 6h1v1h-1zM25 7h1v1h-1zM27 7h1v1h-1zM29 7h1v1h-1zM26 8h2v1h-2zM25 9h1v1h-1zM28 9h1v1h-1zM29 11h1v1h-1zM27 12h1v1h-1zM29 12h1v1h-1zM4 13h1v1h-1zM28 13h1v1h-1zM8 14h1v1h-1zM30 14h1v1h-1zM26 15h2v1h-2zM30 15h1v1h-1zM9 16h1v1h-1zM25 16h1v1h-1zM29 16h2v1h-2zM6 18h1v1h-1zM26 18h1v1h-1zM29 18h2v1h-2zM8 20h1v1h-1zM7 21h1v1h-1zM25 22h1v1h-1zM27 22h1v1h-1zM0 23h1v1h-1zM8 23h1v1h-1zM3 24h1v1h-1zM6 24h1v1h-1z"/>
<path class="k" fill="#cf0000" stroke="#cf0000" d="M26 2h1v1h-1zM26 3h1v1h-1zM6 10h1v1h-1zM30 10h1v1h-1zM26 12h1v1h-1zM3 17h1v1h-1zM24 18h1v1h-1zM5 23h1v1h-1zM27 24h1v1h-1z"/>
<path class="k" fill="#bf0000" stroke="#bf0000" d="M3 5h1v1h-1z"/>
<path class="k" fill="#af0000" stroke="#af0000" d="M1 12h1v1h-1zM30 22h1v1h-1z"/>
<path class="gl" d="M1 0V31M0 1H31M2 0V31M0 2H31M3 0V31M0 3H31M4 0V31M0 4H31M5 0V31M0 5H31M6 0V31M0 6H31M7 0V31M0 7H31M8 0V31M0 8H31M9 0V31M0 9H31M10 0V31M0 10H31M11 0V31M0 11H31M12 0V31M0 12H31M13 0V31M0 13H31M14 0V31M0 14H31M15 0V31M0 15H31M16 0V31M0 16H31M17 0V31M0 17H31M18 0V31M0 18H31M19 0V31M0 19H31M20 0V31M0 20H31M21 0V31M0 21H31M22 0V31M0 22H31M23 0V31M0 23H31M24 0V31M0 24H31M25 0V31M0 25H31M26 0V31M0 26H31M27 0V31M0 27H31M28 0V31M0 28H31M29 0V31M0 29H31M30 0V31M0 30H31"/>
</g></g></svg>
<span class="tk" style="left:382.8px;top:147.8px">5</span>
<span class="tk" style="left:362.2px;top:131.08px">5</span>
<span class="tk" style="left:404.3px;top:147.8px">10</span>
<span class="tk" style="left:362.2px;top:112.94px">10</span>
<span class="tk" style="left:425.8px;top:147.8px">15</span>
<span class="tk" style="left:362.2px;top:94.79px">15</span>
<span class="tk" style="left:447.3px;top:147.8px">20</span>
<span class="tk" style="left:362.2px;top:76.65px">20</span>
<span class="tk" style="left:468.8px;top:147.8px">25</span>
<span class="tk" style="left:362.2px;top:58.5px">25</span>
<span class="tk" style="left:490.3px;top:147.8px">30</span>
<span class="tk" style="left:362.2px;top:40.36px">30</span>
<svg class="hm" style="left:86px;top:161.4px" width="137.9" height="116.1">
<g filter="url(#bl)"><rect width="100%" height="100%" fill="#fff"/>
<g transform="translate(2 2) scale(4.3194 3.6161)">
<rect width="31" height="31" fill="#0000af"/>
<path class="k" fill="#0000bf" stroke="#0000bf" d="M8 0h1v1h-1zM11 0h1v1h-1zM9 1h1v1h-1zM11 1h1v1h-1zM10 2h2v1h-2zM10 3h2v1h-2zM10 4h2v1h-2zM10 5h2v1h-2zM11 6h1v1h-1zM11 7h1v1h-1zM11 8h1v1h-1zM11 9h1v1h-1zM11 10h1v1h-1zM11 11h1v1h-1zM11 12h1v1h-1zM11 13h1v1h-1zM11 14h1v1h-1zM11 15h1v1h-1zM11 16h1v1h-1zM11 17h1v1h-1zM11 18h1v1h-1zM11 19h1v1h-1zM11 20h1v1h-1zM11 21h1v1h-1zM11 22h1v1h-1zM11 23h1v1h-1zM11 24h1v1h-1zM11 25h1v1h-1zM9 26h1v1h-1zM11 26h1v1h-1zM12 27h3v1h-3zM11 28h3v1h-3zM10 29h4v1h-4zM9 30h5v1h-5z"/>
<path class="k" fill="#0000cf" stroke="#0000cf" d="M7 0h1v1h-1zM8 1h1v1h-1zM10 6h1v1h-1zM10 7h1v1h-1zM10 8h1v1h-1zM10 9h1v1h-1zM10 10h1v1h-1zM10 11h1v1h-1zM10 12h1v1h-1zM10 13h1v1h-1zM10 14h1v1h-1zM10 15h1v1h-1zM10 16h1v1h-1zM10 17h1v1h-1zM10 18h1v1h-1zM10 19h1v1h-1zM10 20h1v1h-1zM10 21h1v1h-1zM10 22h1v1h-1zM10 23h1v1h-1zM10 24h1v1h-1zM9 25h2v1h-2zM10 26h1v1h-1zM10 27h2v1h-2zM8 28h3v1h-3zM7 29h3v1h-3zM5 30h4v1h-4z"/>
<path class="k" fill="#0000df" stroke="#0000df" d="M6 0h1v1h-1zM7 1h1v1h-1zM9 2h1v1h-1zM9 3h1v1h-1zM9 4h1v1h-1zM9 5h1v1h-1zM9 6h1v1h-1zM9 7h1v1h-1zM9 8h1v1h-1zM9 9h1v1h-1zM9 10h1v1h-1zM9 11h1v1h-1zM9 12h1v1h-1zM9 13h1v1h-1zM9 14h1v1h-1zM9 15h1v1h-1zM9 16h1v1h-1zM9 17h1v1h-1zM9 18h1v1h-1zM9 19h1v1h-1zM9 20h1v1h-1zM9 21h1v1h-1zM9 22h1v1h-1zM9 23h1v1h-1zM9 24h1v1h-1zM8 25h1v1h-1zM7 26h2v1h-2zM8 27h2v1h-2zM4 28h4v1h-4zM3 29h4v1h-4zM0 30h5v1h-5zM16 30h15v1h-15z"/>
<path class="k" fill="#0000ef" stroke="#0000ef" d="M8 2h1v1h-1zM8 3h1v1h-1zM8 4h1v1h-1zM8 5h1v1h-1zM8 24h1v1h-1zM5 27h3v1h-3zM1 28h3v1h-3zM0 29h3v1h-3zM16 29h15v1h-15z"/>
<path class="k" fill="#0000ff" stroke="#0000ff" d="M5 0h1v1h-1zM6 1h1v1h-1zM8 6h1v1h-1zM8 7h1v1h-1zM8 8h1v1h-1zM8 9h1v1h-1zM8 10h1v1h-1zM8 11h1v1h-1zM8 12h1v1h-1zM8 13h1v1h-1zM8 14h1v1h-1zM8 15h1v1h-1zM8 16h1v1h-1zM8 17h1v1h-1zM8 18h1v1h-1zM8 19h1v1h-1zM8 20h1v1h-1zM8 21h1v1h-1zM8 22h1v1h-1zM8 23h1v1h-1zM7 25h1v1h-1zM6 26h1v1h-1zM3 27h2v1h-2zM0 28h1v1h-1zM16 28h15v1h-15z"/>
<path class="k" fill="#0010ff" stroke="#0010ff" d="M7 2h1v1h-1zM7 3h1v1h-1zM7 4h1v1h-1zM7 5h1v1h-1zM7 6h1v1h-1zM7 7h1v1h-1zM7 8h1v1h-1zM7 9h1v1h-1zM7 10h1v1h-1zM7 11h1v1h-1zM7 12h1v1h-1zM7 13h1v1h-1zM7 14h1v1h-1zM7 15h1v1h-1zM7 16h1v1h-1zM7 17h1v1h-1zM7 18h1v1h-1zM7 19h1v1h-1zM7 20h1v1h-1zM7 21h1v1h-1zM7 22h1v1h-1zM7 23h1v1h-1zM7 24h1v1h-1zM1 27h2v1h-2z"/>
<path class="k" fill="#0020ff" stroke="#0020ff" d="M6 25h1v1h-1zM5 26h1v1h-1zM0 27h1v1h-1z"/>
<path class="k" fill="#0040ff" stroke="#0040ff" d="M4 0h1v1h-1zM5 1h1v1h-1zM6 2h1v1h-1zM6 3h1v1h-1zM6 4h1v1h-1zM6 5h1v1h-1zM6 6h1v1h-1zM6 7h1v1h-1zM6 8h1v1h-1zM6 9h1v1h-1zM6 10h1v1h-1zM6 11h1v1h-1zM6 12h1v1h-1zM6 13h1v1h-1zM6 14h1v1h-1zM6 15h1v1h-1zM6 16h1v1h-1zM6 17h1v1h-1zM6 18h1v1h-1zM6 19h1v1h-1zM6 20h1v1h-1zM6 21h1v1h-1zM6 22h1v1h-1zM6 23h1v1h-1zM6 24h1v1h-1zM4 26h1v1h-1z"/>
<path class="k" fill="#0050ff" stroke="#0050ff" d="M5 25h1v1h-1z"/>
<path class="k" fill="#0060ff" stroke="#0060ff" d="M3 26h1v1h-1z"/>
<path class="k" fill="#0070ff" stroke="#0070ff" d="M4 1h1v1h-1z"/>
<path class="k" fill="#0080ff" stroke="#0080ff" d="M3 0h1v1h-1zM5 2h1v1h-1zM5 3h1v1h-1zM5 4h1v1h-1zM5 5h1v1h-1zM5 24h1v1h-1z"/>
<path class="k" fill="#008fff" stroke="#008fff" d="M5 6h1v1h-1zM5 7h1v1h-1zM5 8h1v1h-1zM5 9h1v1h-1zM5 10h1v1h-1zM5 11h1v1h-1zM5 12h1v1h-1zM5 13h1v1h-1zM5 14h1v1h-1zM5 15h1v1h-1zM5 16h1v1h-1zM5 17h1v1h-1zM5 18h1v1h-1zM5 19h1v1h-1zM5 20h1v1h-1zM5 21h1v1h-1zM5 22h1v1h-1zM5 23h1v1h-1zM4 25h1v1h-1zM16 27h15v1h-15z"/>
<path class="k" fill="#009fff" stroke="#009fff" d="M2 26h1v1h-1z"/>
<path class="k" fill="#00afff" stroke="#00afff" d="M3 1h1v1h-1z"/>
<path class="k" fill="#00bfff" stroke="#00bfff" d="M4 2h1v1h-1zM4 3h1v1h-1zM4 4h1v1h-1zM4 5h1v1h-1zM4 24h1v1h-1zM3 25h1v1h-1z"/>
<path class="k" fill="#00cfff" stroke="#00cfff" d="M2 0h1v1h-1z"/>
<path class="k" fill="#00dfff" stroke="#00dfff" d="M4 6h1v1h-1zM4 7h1v1h-1zM4 8h1v1h-1zM4 9h1v1h-1zM4 10h1v1h-1zM4 11h1v1h-1zM4 12h1v1h-1zM4 13h1v1h-1zM4 14h1v1h-1zM4 15h1v1h-1zM4 16h1v1h-1zM4 17h1v1h-1zM4 18h1v1h-1zM4 19h1v1h-1zM4 20h1v1h-1zM4 21h1v1h-1zM4 22h1v1h-1zM4 23h1v1h-1z"/>
<path class="k" fill="#00ffff" stroke="#00ffff" d="M0 0h2v1h-2zM2 1h1v1h-1zM3 2h1v1h-1zM3 3h1v1h-1zM3 4h1v1h-1zM3 5h1v1h-1zM3 24h1v1h-1zM1 26h1v1h-1z"/>
<path class="k" fill="#20ffdf" stroke="#20ffdf" d="M2 25h1v1h-1z"/>
<path class="k" fill="#30ffcf" stroke="#30ffcf" d="M3 6h1v1h-1zM3 7h1v1h-1zM3 8h1v1h-1zM3 9h1v1h-1zM3 10h1v1h-1zM3 11h1v1h-1zM3 12h1v1h-1zM3 13h1v1h-1zM3 14h1v1h-1zM3 15h1v1h-1zM3 16h1v1h-1zM3 17h1v1h-1zM3 18h1v1h-1zM3 19h1v1h-1zM3 20h1v1h-1zM3 21h1v1h-1zM3 22h1v1h-1zM3 23h1v1h-1z"/>
<path class="k" fill="#40ffbf" stroke="#40ffbf" d="M0 26h1v1h-1z"/>
<path class="k" fill="#50ffaf" stroke="#50ffaf" d="M28 0h3v1h-3z"/>
<path class="k" fill="#60ff9f" stroke="#60ff9f" d="M27 0h1v1h-1z"/>
<path class="k" fill="#70ff8f" stroke="#70ff8f" d="M26 0h1v1h-1zM1 1h1v1h-1z"/>
<path class="k" fill="#80ff80" stroke="#80ff80" d="M25 0h1v1h-1zM2 2h1v1h-1zM2 3h1v1h-1zM2 4h1v1h-1zM2 5h1v1h-1zM2 24h1v1h-1z"/>
<path class="k" fill="#8fff70" stroke="#8fff70" d="M24 0h1v1h-1z"/>
<path class="k" fill="#afff50" stroke="#afff50" d="M0 1h1v1h-1zM1 25h1v1h-1z"/>
<path class="k" fill="#bfff40" stroke="#bfff40" d="M2 6h1v1h-1zM2 7h1v1h-1zM2 8h1v1h-1zM2 9h1v1h-1zM2 10h1v1h-1zM2 11h1v1h-1zM2 12h1v1h-1zM2 13h1v1h-1zM2 14h1v1h-1zM2 15h1v1h-1zM2 16h1v1h-1zM2 17h1v1h-1zM2 18h1v1h-1zM2 19h1v1h-1zM2 20h1v1h-1zM2 21h1v1h-1zM2 22h1v1h-1zM2 23h1v1h-1z"/>
<path class="k" fill="#cfff30" stroke="#cfff30" d="M16 0h8v1h-8zM1 2h1v1h-1zM1 3h1v1h-1zM1 4h1v1h-1zM1 5h1v1h-1z"/>
<path class="k" fill="#ffff00" stroke="#ffff00" d="M26 1h5v1h-5zM0 2h1v1h-1zM0 3h1v1h-1zM0 4h1v1h-1zM0 5h1v1h-1zM1 6h1v1h-1zM1 7h1v1h-1zM1 8h1v1h-1zM1 9h1v1h-1zM1 10h1v1h-1zM1 11h1v1h-1zM1 12h1v1h-1zM1 13h1v1h-1zM1 14h1v1h-1zM1 15h1v1h-1zM1 16h1v1h-1zM1 17h1v1h-1zM1 18h1v1h-1zM1 19h1v1h-1zM1 20h1v1h-1zM1 21h1v1h-1zM1 22h1v1h-1zM1 23h1v1h-1zM1 24h1v1h-1zM0 25h1v1h-1zM16 26h1v1h-1zM30 26h1v1h-1z"/>
<path class="k" fill="#ffef00" stroke="#ffef00" d="M25 1h1v1h-1z"/>
<path class="k" fill="#ffdf00" stroke="#ffdf00" d="M24 1h1v1h-1zM29 26h1v1h-1z"/>
<path class="k" fill="#ffbf00" stroke="#ffbf00" d="M16 1h8v1h-8zM27 4h4v1h-4zM0 6h1v1h-1zM0 7h1v1h-1zM0 8h1v1h-1zM0 9h1v1h-1zM0 10h1v1h-1zM0 11h1v1h-1zM0 12h1v1h-1zM0 13h1v1h-1zM0 14h1v1h-1zM0 15h1v1h-1zM0 16h1v1h-1zM0 17h1v1h-1zM0 18h1v1h-1zM0 19h1v1h-1zM0 20h1v1h-1zM0 21h1v1h-1zM0 22h1v1h-1zM0 23h1v1h-1zM0 24h1v1h-1zM27 26h2v1h-2z"/>
<path class="k" fill="#ffaf00" stroke="#ffaf00" d="M26 4h1v1h-1zM24 26h3v1h-3z"/>
<path class="k" fill="#ff9f00" stroke="#ff9f00" d="M25 4h1v1h-1zM16 25h1v1h-1zM23 26h1v1h-1z"/>
<path class="k" fill="#ff8f00" stroke="#ff8f00" d="M16 4h1v1h-1zM16 24h1v1h-1zM17 26h6v1h-6z"/>
<path class="k" fill="#ff8000" stroke="#ff8000" d="M25 2h6v1h-6zM24 4h1v1h-1zM16 6h1v1h-1zM16 7h1v1h-1zM16 8h1v1h-1zM16 9h1v1h-1zM16 10h1v1h-1zM16 11h1v1h-1zM16 12h1v1h-1zM16 13h1v1h-1zM16 14h1v1h-1zM16 15h1v1h-1zM16 16h1v1h-1zM16 17h1v1h-1zM16 18h1v1h-1zM16 19h1v1h-1zM16 20h1v1h-1zM16 21h1v1h-1zM16 22h1v1h-1zM16 23h1v1h-1z"/>
<path class="k" fill="#ff7000" stroke="#ff7000" d="M24 2h1v1h-1zM17 4h7v1h-7zM16 5h1v1h-1z"/>
<path class="k" fill="#ff5000" stroke="#ff5000" d="M16 2h8v1h-8z"/>
<path class="k" fill="#ff4000" stroke="#ff4000" d="M25 3h6v1h-6z"/>
<path class="k" fill="#ff3000" stroke="#ff3000" d="M24 3h1v1h-1z"/>
<path class="k" fill="#ff2000" stroke="#ff2000" d="M16 3h8v1h-8zM17 25h14v1h-14z"/>
<path class="k" fill="#ff1000" stroke="#ff1000" d="M17 5h14v1h-14z"/>
<path class="k" fill="#ff0000" stroke="#ff0000" d="M17 6h1v1h-1zM27 6h4v1h-4zM17 7h1v1h-1zM27 7h4v1h-4zM17 8h1v1h-1zM27 8h4v1h-4zM17 9h1v1h-1zM27 9h4v1h-4zM17 10h1v1h-1zM27 10h4v1h-4zM17 11h1v1h-1zM27 11h4v1h-4zM17 12h1v1h-1zM27 12h4v1h-4zM17 13h1v1h-1zM27 13h4v1h-4zM17 14h1v1h-1zM27 14h4v1h-4zM17 15h1v1h-1zM27 15h4v1h-4zM17 16h1v1h-1zM27 16h4v1h-4zM17 17h1v1h-1zM27 17h4v1h-4zM17 18h1v1h-1zM27 18h4v1h-4zM17 19h1v1h-1zM27 19h4v1h-4zM17 20h1v1h-1zM27 20h4v1h-4zM17 21h1v1h-1zM27 21h4v1h-4zM17 22h1v1h-1zM27 22h4v1h-4zM17 23h1v1h-1zM27 23h4v1h-4z"/>
<path class="k" fill="#ef0000" stroke="#ef0000" d="M26 6h1v1h-1zM26 7h1v1h-1zM26 8h1v1h-1zM26 9h1v1h-1zM26 10h1v1h-1zM26 11h1v1h-1zM26 12h1v1h-1zM26 13h1v1h-1zM26 14h1v1h-1zM26 15h1v1h-1zM26 16h1v1h-1zM26 17h1v1h-1zM26 18h1v1h-1zM26 19h1v1h-1zM26 20h1v1h-1zM26 21h1v1h-1zM26 22h1v1h-1zM26 23h1v1h-1zM17 24h14v1h-14z"/>
<path class="k" fill="#df0000" stroke="#df0000" d="M18 6h8v1h-8z"/>
<path class="k" fill="#cf0000" stroke="#cf0000" d="M25 7h1v1h-1zM25 8h1v1h-1zM25 9h1v1h-1zM25 10h1v1h-1zM25 11h1v1h-1zM25 12h1v1h-1zM25 13h1v1h-1zM25 14h1v1h-1zM25 15h1v1h-1zM25 16h1v1h-1zM25 17h1v1h-1zM25 18h1v1h-1zM25 19h1v1h-1zM25 20h1v1h-1zM25 21h1v1h-1zM25 22h1v1h-1zM25 23h1v1h-1z"/>
<path class="k" fill="#bf0000" stroke="#bf0000" d="M18 7h1v1h-1zM24 7h1v1h-1zM18 8h1v1h-1zM24 8h1v1h-1zM18 9h1v1h-1zM24 9h1v1h-1zM18 10h1v1h-1zM24 10h1v1h-1zM18 11h1v1h-1zM24 11h1v1h-1zM18 12h1v1h-1zM24 12h1v1h-1zM18 13h1v1h-1zM24 13h1v1h-1zM18 14h1v1h-1zM24 14h1v1h-1zM18 15h1v1h-1zM24 15h1v1h-1zM18 16h1v1h-1zM24 16h1v1h-1zM18 17h1v1h-1zM24 17h1v1h-1zM18 18h1v1h-1zM24 18h1v1h-1zM18 19h1v1h-1zM24 19h1v1h-1zM18 20h1v1h-1zM24 20h1v1h-1zM18 21h1v1h-1zM24 21h1v1h-1zM18 22h1v1h-1zM24 22h1v1h-1zM18 23h1v1h-1zM24 23h1v1h-1z"/>
<path class="k" fill="#af0000" stroke="#af0000" d="M19 7h5v1h-5zM19 8h5v1h-5zM19 9h5v1h-5zM19 10h5v1h-5zM19 11h5v1h-5zM19 12h5v1h-5zM19 13h5v1h-5zM19 14h5v1h-5zM19 15h5v1h-5zM19 16h5v1h-5zM19 17h5v1h-5zM19 18h5v1h-5zM19 19h5v1h-5zM19 20h5v1h-5zM19 21h5v1h-5zM19 22h5v1h-5zM19 23h5v1h-5z"/>
<path class="gl" d="M1 0V31M0 1H31M2 0V31M0 2H31M3 0V31M0 3H31M4 0V31M0 4H31M5 0V31M0 5H31M6 0V31M0 6H31M7 0V31M0 7H31M8 0V31M0 8H31M9 0V31M0 9H31M10 0V31M0 10H31M11 0V31M0 11H31M12 0V31M0 12H31M13 0V31M0 13H31M14 0V31M0 14H31M15 0V31M0 15H31M16 0V31M0 16H31M17 0V31M0 17H31M18 0V31M0 18H31M19 0V31M0 19H31M20 0V31M0 20H31M21 0V31M0 21H31M22 0V31M0 22H31M23 0V31M0 23H31M24 0V31M0 24H31M25 0V31M0 25H31M26 0V31M0 26H31M27 0V31M0 27H31M28 0V31M0 28H31M29 0V31M0 29H31M30 0V31M0 30H31"/>
</g></g></svg>
<span class="tk" style="left:103.28px;top:277.8px">5</span>
<span class="tk" style="left:82.6px;top:261.14px">5</span>
<span class="tk" style="left:124.87px;top:277.8px">10</span>
<span class="tk" style="left:82.6px;top:243.05px">10</span>
<span class="tk" style="left:146.47px;top:277.8px">15</span>
<span class="tk" style="left:82.6px;top:224.97px">15</span>
<span class="tk" style="left:168.07px;top:277.8px">20</span>
<span class="tk" style="left:82.6px;top:206.89px">20</span>
<span class="tk" style="left:189.66px;top:277.8px">25</span>
<span class="tk" style="left:82.6px;top:188.81px">25</span>
<span class="tk" style="left:211.26px;top:277.8px">30</span>
<span class="tk" style="left:82.6px;top:170.73px">30</span>
<svg class="hm" style="left:225.3px;top:161.4px" width="137.8" height="116.1">
<g filter="url(#bl)"><rect width="100%" height="100%" fill="#fff"/>
<g transform="translate(2 2) scale(4.3161 3.6161)">
<rect width="31" height="31" fill="#af0000"/>
<path class="k" fill="#0000af" stroke="#0000af" d="M12 0h3v1h-3zM12 1h2v1h-2zM12 2h3v1h-3zM12 3h3v1h-3zM12 4h3v1h-3zM12 5h3v1h-3zM12 6h2v1h-2zM12 7h2v1h-2zM12 8h3v1h-3zM12 9h3v1h-3zM12 10h2v1h-2zM12 11h1v1h-1zM12 12h2v1h-2zM12 13h2v1h-2zM12 14h3v1h-3zM12 15h3v1h-3zM12 16h3v1h-3zM12 17h3v1h-3zM12 18h2v1h-2zM12 19h3v1h-3zM12 20h3v1h-3zM12 21h3v1h-3zM12 22h2v1h-2zM12 23h3v1h-3zM12 24h3v1h-3zM12 25h3v1h-3zM12 26h3v1h-3zM12 27h3v1h-3z"/>
<path class="k" fill="#0000bf" stroke="#0000bf" d="M8 0h1v1h-1zM11 0h1v1h-1zM11 1h1v1h-1zM11 2h1v1h-1zM11 3h1v1h-1zM11 4h1v1h-1zM11 5h1v1h-1zM11 6h1v1h-1zM11 7h1v1h-1zM11 8h1v1h-1zM11 9h1v1h-1zM11 10h1v1h-1zM11 11h1v1h-1zM11 12h1v1h-1zM11 13h1v1h-1zM11 14h1v1h-1zM11 15h1v1h-1zM11 16h1v1h-1zM11 17h1v1h-1zM11 18h1v1h-1zM11 19h1v1h-1zM11 20h1v1h-1zM11 21h1v1h-1zM11 22h1v1h-1zM11 23h1v1h-1zM11 24h1v1h-1zM11 25h1v1h-1zM11 26h1v1h-1zM10 27h2v1h-2zM15 27h1v1h-1zM12 28h3v1h-3zM12 29h3v1h-3zM0 30h15v1h-15z"/>
<path class="k" fill="#0000cf" stroke="#0000cf" d="M7 0h1v1h-1zM10 0h1v1h-1zM10 1h1v1h-1zM10 2h1v1h-1zM10 3h1v1h-1zM15 3h1v1h-1zM10 4h1v1h-1zM10 5h1v1h-1zM10 6h1v1h-1zM10 7h1v1h-1zM10 8h1v1h-1zM10 9h1v1h-1zM15 9h1v1h-1zM10 10h1v1h-1zM10 11h1v1h-1zM10 12h1v1h-1zM10 13h1v1h-1zM10 14h1v1h-1zM10 15h1v1h-1zM15 15h1v1h-1zM10 16h1v1h-1zM10 17h1v1h-1zM10 18h1v1h-1zM10 19h1v1h-1zM10 20h1v1h-1zM10 21h1v1h-1zM10 22h1v1h-1zM10 23h1v1h-1zM10 24h1v1h-1zM10 25h1v1h-1zM9 26h2v1h-2zM15 26h1v1h-1zM9 27h1v1h-1zM16 27h1v1h-1zM9 28h3v1h-3zM7 29h5v1h-5zM15 30h16v1h-16z"/>
<path class="k" fill="#0000df" stroke="#0000df" d="M9 24h1v1h-1zM9 25h1v1h-1zM8 26h1v1h-1zM7 27h2v1h-2zM6 28h3v1h-3zM3 29h4v1h-4zM15 29h16v1h-16z"/>
<path class="k" fill="#0000ef" stroke="#0000ef" d="M9 0h1v1h-1zM9 1h1v1h-1zM9 2h1v1h-1zM9 3h1v1h-1zM9 4h1v1h-1zM9 5h1v1h-1zM9 6h1v1h-1zM9 7h1v1h-1zM9 8h1v1h-1zM9 9h1v1h-1zM9 10h1v1h-1zM9 11h1v1h-1zM9 12h1v1h-1zM9 13h1v1h-1zM9 14h1v1h-1zM9 15h1v1h-1zM9 16h1v1h-1zM9 17h1v1h-1zM9 18h1v1h-1zM9 19h1v1h-1zM9 20h1v1h-1zM9 21h1v1h-1zM9 22h1v1h-1zM9 23h1v1h-1zM8 25h1v1h-1zM7 26h1v1h-1zM6 27h1v1h-1zM3 28h3v1h-3zM15 28h1v1h-1zM0 29h3v1h-3z"/>
<path class="k" fill="#0000ff" stroke="#0000ff" d="M6 0h1v1h-1zM8 1h1v1h-1zM8 2h1v1h-1zM15 2h1v1h-1zM8 3h1v1h-1zM8 4h1v1h-1zM8 5h1v1h-1zM8 6h1v1h-1zM14 6h1v1h-1zM8 7h1v1h-1zM8 8h1v1h-1zM15 8h1v1h-1zM8 9h1v1h-1zM8 10h1v1h-1zM14 10h1v1h-1zM8 11h1v1h-1zM8 12h1v1h-1zM8 13h1v1h-1zM14 13h1v1h-1zM8 14h1v1h-1zM15 14h1v1h-1zM8 15h1v1h-1zM8 16h1v1h-1zM15 16h1v1h-1zM8 17h1v1h-1zM8 18h1v1h-1zM8 19h1v1h-1zM8 20h1v1h-1zM15 20h1v1h-1zM8 21h1v1h-1zM8 22h1v1h-1zM8 23h1v1h-1zM8 24h1v1h-1zM15 24h1v1h-1zM7 25h1v1h-1zM6 26h1v1h-1zM5 27h1v1h-1zM17 27h1v1h-1zM0 28h3v1h-3z"/>
<path class="k" fill="#0010ff" stroke="#0010ff" d="M6 1h1v1h-1zM16 28h15v1h-15z"/>
<path class="k" fill="#0020ff" stroke="#0020ff" d="M6 2h1v1h-1zM6 3h1v1h-1zM6 4h1v1h-1zM7 24h1v1h-1zM6 25h1v1h-1zM5 26h1v1h-1zM4 27h1v1h-1z"/>
<path class="k" fill="#0030ff" stroke="#0030ff" d="M7 1h1v1h-1zM7 2h1v1h-1zM7 3h1v1h-1zM7 4h1v1h-1zM6 5h2v1h-2zM6 6h2v1h-2zM6 7h2v1h-2zM6 8h2v1h-2zM7 9h1v1h-1zM7 10h1v1h-1zM7 11h1v1h-1zM7 12h1v1h-1zM7 13h1v1h-1zM7 14h1v1h-1zM7 15h1v1h-1zM7 16h1v1h-1zM7 17h1v1h-1zM7 18h1v1h-1zM7 19h1v1h-1zM7 20h1v1h-1zM7 21h1v1h-1zM7 22h1v1h-1zM7 23h1v1h-1z"/>
<path class="k" fill="#0040ff" stroke="#0040ff" d="M5 0h1v1h-1zM6 24h1v1h-1zM4 26h1v1h-1zM3 27h1v1h-1z"/>
<path class="k" fill="#0050ff" stroke="#0050ff" d="M5 1h1v1h-1zM5 25h1v1h-1zM0 27h3v1h-3zM27 27h4v1h-4z"/>
<path class="k" fill="#0060ff" stroke="#0060ff" d="M5 2h1v1h-1zM5 3h1v1h-1zM5 4h1v1h-1zM6 9h1v1h-1zM6 10h1v1h-1zM6 11h1v1h-1zM6 12h1v1h-1zM6 13h1v1h-1zM6 14h1v1h-1zM6 15h1v1h-1zM6 16h1v1h-1zM6 17h1v1h-1zM6 18h1v1h-1zM6 19h1v1h-1zM6 20h1v1h-1zM6 21h1v1h-1zM6 22h1v1h-1zM6 23h1v1h-1z"/>
<path class="k" fill="#0070ff" stroke="#0070ff" d="M5 5h1v1h-1zM5 6h1v1h-1zM5 7h1v1h-1zM5 8h1v1h-1zM3 26h1v1h-1z"/>
<path class="k" fill="#0080ff" stroke="#0080ff" d="M4 0h1v1h-1zM15 0h1v1h-1zM29 0h1v1h-1zM14 1h1v1h-1zM15 4h1v1h-1zM14 7h1v1h-1zM15 10h1v1h-1zM13 11h1v1h-1zM14 18h1v1h-1zM15 21h1v1h-1zM14 22h1v1h-1zM15 23h1v1h-1zM16 26h1v1h-1zM18 27h1v1h-1zM23 27h4v1h-4z"/>
<path class="k" fill="#008fff" stroke="#008fff" d="M5 24h1v1h-1zM4 25h1v1h-1zM2 26h1v1h-1z"/>
<path class="k" fill="#009fff" stroke="#009fff" d="M3 0h1v1h-1zM4 1h1v1h-1z"/>
<path class="k" fill="#00afff" stroke="#00afff" d="M28 0h1v1h-1zM4 2h1v1h-1zM4 3h1v1h-1zM4 4h1v1h-1zM5 9h1v1h-1zM5 10h1v1h-1zM5 11h1v1h-1zM5 12h1v1h-1zM14 12h1v1h-1zM5 13h1v1h-1zM5 14h1v1h-1zM5 15h1v1h-1zM5 16h1v1h-1zM5 17h1v1h-1zM5 18h1v1h-1zM5 19h1v1h-1zM5 20h1v1h-1zM5 21h1v1h-1zM5 22h1v1h-1zM5 23h1v1h-1z"/>
<path class="k" fill="#00bfff" stroke="#00bfff" d="M4 5h1v1h-1zM4 6h1v1h-1zM4 7h1v1h-1zM4 8h1v1h-1zM1 26h1v1h-1zM22 27h1v1h-1z"/>
<path class="k" fill="#00cfff" stroke="#00cfff" d="M4 24h1v1h-1zM3 25h1v1h-1z"/>
<path class="k" fill="#00efff" stroke="#00efff" d="M4 9h1v1h-1zM4 10h1v1h-1zM4 11h1v1h-1zM4 12h1v1h-1zM4 13h1v1h-1zM4 14h1v1h-1zM4 15h1v1h-1zM4 16h1v1h-1zM4 17h1v1h-1zM4 18h1v1h-1zM4 19h1v1h-1zM4 20h1v1h-1zM4 21h1v1h-1zM4 22h1v1h-1zM4 23h1v1h-1zM0 26h1v1h-1z"/>
<path class="k" fill="#00ffff" stroke="#00ffff" d="M0 0h1v1h-1zM2 0h1v1h-1zM16 0h2v1h-2zM30 0h1v1h-1zM3 1h1v1h-1zM3 2h1v1h-1zM16 2h1v1h-1zM3 3h1v1h-1zM16 3h1v1h-1zM3 4h1v1h-1zM15 5h1v1h-1zM14 11h1v1h-1zM15 13h1v1h-1zM15 17h1v1h-1zM15 18h1v1h-1zM15 19h1v1h-1zM15 25h1v1h-1zM26 26h2v1h-2zM19 27h1v1h-1zM21 27h1v1h-1z"/>
<path class="k" fill="#20ffdf" stroke="#20ffdf" d="M1 0h1v1h-1zM27 0h1v1h-1zM3 5h1v1h-1zM3 6h1v1h-1zM3 7h1v1h-1zM3 8h1v1h-1zM2 25h1v1h-1z"/>
<path class="k" fill="#30ffcf" stroke="#30ffcf" d="M25 0h2v1h-2zM15 1h1v1h-1zM16 4h1v1h-1zM15 6h1v1h-1zM15 7h1v1h-1zM15 11h1v1h-1zM15 22h1v1h-1zM3 24h1v1h-1zM16 24h1v1h-1zM17 26h1v1h-1zM25 26h1v1h-1zM28 26h1v1h-1zM20 27h1v1h-1z"/>
<path class="k" fill="#40ffbf" stroke="#40ffbf" d="M2 1h1v1h-1z"/>
<path class="k" fill="#50ffaf" stroke="#50ffaf" d="M24 0h1v1h-1zM2 2h1v1h-1zM2 3h1v1h-1zM2 4h1v1h-1zM3 9h1v1h-1zM3 10h1v1h-1zM3 11h1v1h-1zM3 12h1v1h-1zM3 13h1v1h-1zM3 14h1v1h-1zM3 15h1v1h-1zM3 16h1v1h-1zM3 17h1v1h-1zM3 18h1v1h-1zM3 19h1v1h-1zM3 20h1v1h-1zM3 21h1v1h-1zM3 22h1v1h-1zM3 23h1v1h-1z"/>
<path class="k" fill="#70ff8f" stroke="#70ff8f" d="M18 0h3v1h-3zM22 0h2v1h-2zM1 1h1v1h-1zM29 1h1v1h-1zM16 8h1v1h-1zM24 26h1v1h-1zM29 26h2v1h-2z"/>
<path class="k" fill="#80ff80" stroke="#80ff80" d="M2 5h1v1h-1zM2 6h1v1h-1zM2 7h1v1h-1zM2 8h1v1h-1zM1 25h1v1h-1z"/>
<path class="k" fill="#afff50" stroke="#afff50" d="M21 0h1v1h-1zM0 1h1v1h-1zM28 1h1v1h-1zM17 2h1v1h-1zM16 9h1v1h-1zM15 12h1v1h-1zM2 24h1v1h-1zM0 25h1v1h-1z"/>
<path class="k" fill="#bfff40" stroke="#bfff40" d="M2 9h1v1h-1zM2 10h1v1h-1zM2 11h1v1h-1zM2 12h1v1h-1zM2 13h1v1h-1zM2 14h1v1h-1zM2 15h1v1h-1zM2 16h1v1h-1zM2 17h1v1h-1zM2 18h1v1h-1zM2 19h1v1h-1zM2 20h1v1h-1zM2 21h1v1h-1zM2 22h1v1h-1zM2 23h1v1h-1z"/>
<path class="k" fill="#cfff30" stroke="#cfff30" d="M1 2h1v1h-1zM1 3h1v1h-1zM1 4h1v1h-1z"/>
<path class="k" fill="#efff10" stroke="#efff10" d="M1 24h1v1h-1z"/>
<path class="k" fill="#ffff00" stroke="#ffff00" d="M30 1h1v1h-1zM0 2h1v1h-1zM30 2h1v1h-1zM0 3h1v1h-1zM17 3h1v1h-1zM0 4h1v1h-1zM1 5h1v1h-1zM16 5h1v1h-1zM1 6h1v1h-1zM1 7h1v1h-1zM1 8h1v1h-1zM1 9h1v1h-1zM1 10h1v1h-1zM16 10h1v1h-1zM1 11h1v1h-1zM1 12h1v1h-1zM1 13h1v1h-1zM1 14h1v1h-1zM16 14h1v1h-1zM1 15h1v1h-1zM16 15h1v1h-1zM1 16h1v1h-1zM1 17h1v1h-1zM1 18h1v1h-1zM1 19h1v1h-1zM1 20h1v1h-1zM1 21h1v1h-1zM1 22h1v1h-1zM1 23h1v1h-1zM16 23h1v1h-1zM0 24h1v1h-1zM25 25h2v1h-2zM18 26h2v1h-2zM23 26h1v1h-1z"/>
<path class="k" fill="#ffdf00" stroke="#ffdf00" d="M0 5h1v1h-1zM0 6h1v1h-1zM0 7h1v1h-1zM0 8h1v1h-1z"/>
<path class="k" fill="#ffbf00" stroke="#ffbf00" d="M16 1h1v1h-1zM18 1h10v1h-10zM30 3h1v1h-1zM17 4h1v1h-1zM0 9h1v1h-1zM0 10h1v1h-1zM0 11h1v1h-1zM16 11h1v1h-1zM0 12h1v1h-1zM0 13h1v1h-1zM0 14h1v1h-1zM0 15h1v1h-1zM0 16h1v1h-1zM16 16h1v1h-1zM0 17h1v1h-1zM16 17h1v1h-1zM0 18h1v1h-1zM0 19h1v1h-1zM0 20h1v1h-1zM0 21h1v1h-1zM0 22h1v1h-1zM0 23h1v1h-1zM26 24h2v1h-2zM16 25h1v1h-1zM24 25h1v1h-1zM27 25h1v1h-1zM20 26h1v1h-1zM22 26h1v1h-1z"/>
<path class="k" fill="#ff8000" stroke="#ff8000" d="M17 1h1v1h-1zM23 2h7v1h-7zM23 3h7v1h-7zM30 4h1v1h-1zM16 6h1v1h-1zM16 12h1v1h-1zM16 13h1v1h-1zM16 18h1v1h-1zM16 19h1v1h-1zM16 20h1v1h-1zM16 21h1v1h-1zM16 22h1v1h-1zM25 24h1v1h-1zM28 24h1v1h-1zM23 25h1v1h-1zM28 25h2v1h-2zM21 26h1v1h-1z"/>
<path class="k" fill="#ff7000" stroke="#ff7000" d="M23 4h7v1h-7z"/>
<path class="k" fill="#ff6000" stroke="#ff6000" d="M22 2h1v1h-1zM22 3h1v1h-1zM16 7h1v1h-1z"/>
<path class="k" fill="#ff5000" stroke="#ff5000" d="M19 2h3v1h-3zM22 4h1v1h-1z"/>
<path class="k" fill="#ff4000" stroke="#ff4000" d="M18 2h1v1h-1zM19 3h3v1h-3zM18 4h4v1h-4zM17 10h1v1h-1zM17 11h1v1h-1zM24 24h1v1h-1zM29 24h1v1h-1zM17 25h1v1h-1zM22 25h1v1h-1zM30 25h1v1h-1z"/>
<path class="k" fill="#ff2000" stroke="#ff2000" d="M24 5h7v1h-7zM23 24h1v1h-1z"/>
<path class="k" fill="#ff1000" stroke="#ff1000" d="M26 23h4v1h-4z"/>
<path class="k" fill="#ff0000" stroke="#ff0000" d="M18 3h1v1h-1zM17 5h7v1h-7zM17 6h1v1h-1zM29 6h2v1h-2zM17 7h1v1h-1zM29 7h2v1h-2zM17 8h1v1h-1zM29 8h2v1h-2zM17 9h1v1h-1zM29 9h2v1h-2zM29 10h2v1h-2zM29 11h2v1h-2zM17 12h1v1h-1zM29 12h2v1h-2zM17 13h1v1h-1zM29 13h2v1h-2zM17 14h1v1h-1zM29 14h2v1h-2zM17 15h1v1h-1zM29 15h2v1h-2zM17 16h1v1h-1zM29 16h2v1h-2zM17 17h1v1h-1zM29 17h2v1h-2zM17 18h1v1h-1zM29 18h2v1h-2zM17 19h1v1h-1zM29 19h2v1h-2zM17 20h1v1h-1zM29 20h2v1h-2zM17 21h1v1h-1zM29 21h2v1h-2zM17 22h1v1h-1zM29 22h2v1h-2zM17 23h1v1h-1zM25 23h1v1h-1zM30 23h1v1h-1zM17 24h6v1h-6zM30 24h1v1h-1zM18 25h4v1h-4z"/>
<path class="k" fill="#ef0000" stroke="#ef0000" d="M28 6h1v1h-1zM28 7h1v1h-1zM28 8h1v1h-1zM28 9h1v1h-1zM28 10h1v1h-1zM28 11h1v1h-1zM28 12h1v1h-1zM28 13h1v1h-1zM28 14h1v1h-1zM28 15h1v1h-1zM28 16h1v1h-1zM28 17h1v1h-1zM28 18h1v1h-1zM28 19h1v1h-1zM28 20h1v1h-1zM28 21h1v1h-1zM28 22h1v1h-1z"/>
<path class="k" fill="#df0000" stroke="#df0000" d="M18 6h10v1h-10zM24 23h1v1h-1z"/>
<path class="k" fill="#cf0000" stroke="#cf0000" d="M27 7h1v1h-1zM27 8h1v1h-1zM27 9h1v1h-1zM27 10h1v1h-1zM27 11h1v1h-1zM27 12h1v1h-1zM27 13h1v1h-1zM27 14h1v1h-1zM27 15h1v1h-1zM27 16h1v1h-1zM27 17h1v1h-1zM27 18h1v1h-1zM27 19h1v1h-1zM27 20h1v1h-1zM27 21h1v1h-1zM27 22h1v1h-1z"/>
<path class="k" fill="#bf0000" stroke="#bf0000" d="M18 7h1v1h-1zM26 7h1v1h-1zM18 8h1v1h-1zM26 8h1v1h-1zM18 9h1v1h-1zM26 9h1v1h-1zM18 10h1v1h-1zM26 10h1v1h-1zM18 11h1v1h-1zM26 11h1v1h-1zM18 12h1v1h-1zM26 12h1v1h-1zM18 13h1v1h-1zM26 13h1v1h-1zM18 14h1v1h-1zM26 14h1v1h-1zM18 15h1v1h-1zM26 15h1v1h-1zM18 16h1v1h-1zM26 16h1v1h-1zM18 17h1v1h-1zM26 17h1v1h-1zM18 18h1v1h-1zM26 18h1v1h-1zM18 19h1v1h-1zM26 19h1v1h-1zM18 20h1v1h-1zM26 20h1v1h-1zM18 21h1v1h-1zM26 21h1v1h-1zM18 22h1v1h-1zM26 22h1v1h-1zM18 23h1v1h-1z"/>
<path class="gl" d="M1 0V31M0 1H31M2 0V31M0 2H31M3 0V31M0 3H31M4 0V31M0 4H31M5 0V31M0 5H31M6 0V31M0 6H31M7 0V31M0 7H31M8 0V31M0 8H31M9 0V31M0 9H31M10 0V31M0 10H31M11 0V31M0 11H31M12 0V31M0 12H31M13 0V31M0 13H31M14 0V31M0 14H31M15 0V31M0 15H31M16 0V31M0 16H31M17 0V31M0 17H31M18 0V31M0 18H31M19 0V31M0 19H31M20 0V31M0 20H31M21 0V31M0 21H31M22 0V31M0 22H31M23 0V31M0 23H31M24 0V31M0 24H31M25 0V31M0 25H31M26 0V31M0 26H31M27 0V31M0 27H31M28 0V31M0 28H31M29 0V31M0 29H31M30 0V31M0 30H31"/>
</g></g></svg>
<span class="tk" style="left:242.56px;top:277.8px">5</span>
<span class="tk" style="left:221.9px;top:261.14px">5</span>
<span class="tk" style="left:264.15px;top:277.8px">10</span>
<span class="tk" style="left:221.9px;top:243.05px">10</span>
<span class="tk" style="left:285.73px;top:277.8px">15</span>
<span class="tk" style="left:221.9px;top:224.97px">15</span>
<span class="tk" style="left:307.31px;top:277.8px">20</span>
<span class="tk" style="left:221.9px;top:206.89px">20</span>
<span class="tk" style="left:328.89px;top:277.8px">25</span>
<span class="tk" style="left:221.9px;top:188.81px">25</span>
<span class="tk" style="left:350.47px;top:277.8px">30</span>
<span class="tk" style="left:221.9px;top:170.73px">30</span>
<svg class="hm" style="left:365.4px;top:161.4px" width="137.5" height="116.1">
<g filter="url(#bl)"><rect width="100%" height="100%" fill="#fff"/>
<g transform="translate(2 2) scale(4.3065 3.6161)">
<rect width="31" height="31" fill="#0030ff"/>
<path class="k" fill="#0000af" stroke="#0000af" d="M13 30h1v1h-1z"/>
<path class="k" fill="#0000bf" stroke="#0000bf" d="M14 9h1v1h-1zM14 10h1v1h-1zM12 28h1v1h-1zM13 29h1v1h-1z"/>
<path class="k" fill="#0000cf" stroke="#0000cf" d="M13 1h1v1h-1zM14 28h1v1h-1zM12 29h1v1h-1zM14 29h1v1h-1zM12 30h1v1h-1z"/>
<path class="k" fill="#0000df" stroke="#0000df" d="M13 2h1v1h-1zM13 5h1v1h-1zM13 10h1v1h-1zM12 13h1v1h-1zM14 14h1v1h-1zM13 20h1v1h-1zM11 27h1v1h-1zM13 27h2v1h-2zM13 28h1v1h-1zM10 29h1v1h-1zM15 29h1v1h-1zM7 30h1v1h-1zM11 30h1v1h-1z"/>
<path class="k" fill="#0000ef" stroke="#0000ef" d="M13 4h1v1h-1zM14 5h1v1h-1zM14 7h1v1h-1zM13 8h1v1h-1zM13 12h2v1h-2zM11 21h1v1h-1zM14 21h1v1h-1zM13 25h2v1h-2zM12 26h1v1h-1zM14 26h1v1h-1zM15 27h1v1h-1zM10 28h1v1h-1zM8 30h1v1h-1zM14 30h2v1h-2z"/>
<path class="k" fill="#0000ff" stroke="#0000ff" d="M14 0h1v1h-1zM14 1h1v1h-1zM14 3h1v1h-1zM13 6h1v1h-1zM14 8h1v1h-1zM11 11h1v1h-1zM14 13h1v1h-1zM13 14h1v1h-1zM11 17h1v1h-1zM14 17h1v1h-1zM14 18h1v1h-1zM13 22h1v1h-1zM9 23h1v1h-1zM13 23h1v1h-1zM11 25h1v1h-1zM13 26h1v1h-1zM10 27h1v1h-1zM12 27h1v1h-1zM5 28h1v1h-1zM8 28h1v1h-1zM11 28h1v1h-1zM15 28h1v1h-1zM4 29h1v1h-1zM6 29h2v1h-2zM11 29h1v1h-1z"/>
<path class="k" fill="#0010ff" stroke="#0010ff" d="M12 0h1v1h-1zM12 2h1v1h-1zM14 2h1v1h-1zM12 3h2v1h-2zM11 6h2v1h-2zM14 6h1v1h-1zM13 9h1v1h-1zM12 11h3v1h-3zM13 13h1v1h-1zM12 15h2v1h-2zM13 17h1v1h-1zM13 18h1v1h-1zM11 19h1v1h-1zM13 19h1v1h-1zM12 21h2v1h-2zM14 22h1v1h-1zM11 23h1v1h-1zM14 24h1v1h-1zM9 27h1v1h-1zM7 28h1v1h-1zM2 29h1v1h-1zM5 29h1v1h-1zM8 29h2v1h-2zM22 29h1v1h-1zM4 30h1v1h-1z"/>
<path class="k" fill="#0020ff" stroke="#0020ff" d="M10 0h1v1h-1zM13 0h1v1h-1zM12 1h1v1h-1zM11 3h1v1h-1zM12 4h1v1h-1zM8 5h1v1h-1zM10 7h2v1h-2zM11 8h1v1h-1zM11 9h1v1h-1zM10 10h3v1h-3zM11 12h2v1h-2zM10 13h2v1h-2zM11 15h1v1h-1zM14 15h1v1h-1zM13 16h1v1h-1zM11 18h1v1h-1zM10 19h1v1h-1zM14 19h1v1h-1zM12 20h1v1h-1zM12 22h1v1h-1zM13 24h1v1h-1zM12 25h1v1h-1zM9 26h1v1h-1zM6 27h1v1h-1zM6 28h1v1h-1zM9 28h1v1h-1zM16 29h2v1h-2zM25 29h2v1h-2zM29 29h1v1h-1zM5 30h2v1h-2zM25 30h1v1h-1z"/>
<path class="k" fill="#0040ff" stroke="#0040ff" d="M11 1h1v1h-1zM10 2h1v1h-1zM10 4h2v1h-2zM10 5h1v1h-1zM15 6h1v1h-1zM13 7h1v1h-1zM9 8h1v1h-1zM10 9h1v1h-1zM9 10h1v1h-1zM9 11h2v1h-2zM15 11h1v1h-1zM10 12h1v1h-1zM9 13h1v1h-1zM15 13h1v1h-1zM10 14h1v1h-1zM15 15h1v1h-1zM8 16h2v1h-2zM14 16h2v1h-2zM9 17h1v1h-1zM15 17h1v1h-1zM15 23h1v1h-1zM11 24h1v1h-1zM15 24h1v1h-1zM10 25h1v1h-1zM3 28h1v1h-1zM3 29h1v1h-1zM18 29h1v1h-1zM20 29h2v1h-2zM24 29h1v1h-1zM27 29h2v1h-2zM30 29h1v1h-1zM3 30h1v1h-1zM10 30h1v1h-1zM19 30h1v1h-1zM30 30h1v1h-1z"/>
<path class="k" fill="#0050ff" stroke="#0050ff" d="M9 0h1v1h-1zM9 1h2v1h-2zM8 2h1v1h-1zM8 3h2v1h-2zM8 4h2v1h-2zM15 5h1v1h-1zM15 7h1v1h-1zM15 9h1v1h-1zM15 10h1v1h-1zM8 12h1v1h-1zM15 12h1v1h-1zM12 16h1v1h-1zM8 17h1v1h-1zM10 18h1v1h-1zM15 18h1v1h-1zM7 19h1v1h-1zM15 20h1v1h-1zM15 21h1v1h-1zM9 22h1v1h-1zM9 24h2v1h-2zM9 25h1v1h-1zM10 26h1v1h-1zM1 28h1v1h-1zM16 28h1v1h-1zM20 28h3v1h-3zM24 28h1v1h-1zM27 28h3v1h-3zM19 29h1v1h-1zM1 30h1v1h-1zM18 30h1v1h-1zM20 30h3v1h-3zM24 30h1v1h-1zM26 30h1v1h-1zM28 30h2v1h-2z"/>
<path class="k" fill="#0060ff" stroke="#0060ff" d="M8 0h1v1h-1zM6 2h1v1h-1zM15 3h1v1h-1zM15 4h1v1h-1zM9 5h1v1h-1zM12 5h1v1h-1zM8 7h1v1h-1zM15 8h1v1h-1zM8 9h1v1h-1zM8 13h1v1h-1zM9 14h1v1h-1zM10 15h1v1h-1zM7 17h1v1h-1zM7 18h2v1h-2zM15 19h1v1h-1zM10 22h1v1h-1zM8 23h1v1h-1zM8 24h1v1h-1zM15 25h1v1h-1zM15 26h1v1h-1zM18 28h1v1h-1zM25 28h2v1h-2zM16 30h2v1h-2zM27 30h1v1h-1z"/>
<path class="k" fill="#0070ff" stroke="#0070ff" d="M6 0h1v1h-1zM11 0h1v1h-1zM6 1h1v1h-1zM8 1h1v1h-1zM7 5h1v1h-1zM8 6h2v1h-2zM9 7h1v1h-1zM7 9h1v1h-1zM7 12h1v1h-1zM6 13h1v1h-1zM8 14h1v1h-1zM8 15h1v1h-1zM9 19h1v1h-1zM7 20h4v1h-4zM9 21h1v1h-1zM8 22h1v1h-1zM7 25h1v1h-1zM19 28h1v1h-1zM30 28h1v1h-1zM0 29h1v1h-1z"/>
<path class="k" fill="#0080ff" stroke="#0080ff" d="M7 1h1v1h-1zM7 2h1v1h-1zM7 3h1v1h-1zM6 4h1v1h-1zM7 6h1v1h-1zM7 7h1v1h-1zM8 8h1v1h-1zM6 10h1v1h-1zM8 10h1v1h-1zM7 11h2v1h-2zM6 12h1v1h-1zM6 17h1v1h-1zM8 19h1v1h-1zM6 23h2v1h-2zM8 25h1v1h-1zM6 26h3v1h-3zM5 27h1v1h-1zM0 28h1v1h-1z"/>
<path class="k" fill="#008fff" stroke="#008fff" d="M7 8h1v1h-1zM7 13h1v1h-1zM6 15h2v1h-2zM6 21h1v1h-1zM7 22h1v1h-1zM7 24h1v1h-1zM6 25h1v1h-1zM19 27h1v1h-1zM25 27h1v1h-1zM29 27h2v1h-2zM0 30h1v1h-1z"/>
<path class="k" fill="#009fff" stroke="#009fff" d="M4 0h2v1h-2zM7 0h1v1h-1zM5 2h1v1h-1zM5 3h1v1h-1zM7 4h1v1h-1zM6 6h1v1h-1zM6 9h1v1h-1zM5 10h1v1h-1zM7 10h1v1h-1zM7 14h1v1h-1zM6 16h2v1h-2zM6 18h1v1h-1zM6 20h1v1h-1zM7 21h1v1h-1zM5 25h1v1h-1zM0 27h1v1h-1zM2 27h1v1h-1zM16 27h1v1h-1zM20 27h1v1h-1zM24 27h1v1h-1zM26 27h1v1h-1z"/>
<path class="k" fill="#00afff" stroke="#00afff" d="M5 1h1v1h-1zM6 3h1v1h-1zM6 7h1v1h-1zM6 14h1v1h-1zM5 19h2v1h-2zM8 21h1v1h-1zM6 22h1v1h-1zM1 27h1v1h-1zM3 27h2v1h-2zM21 27h1v1h-1z"/>
<path class="k" fill="#00bfff" stroke="#00bfff" d="M6 5h1v1h-1zM5 8h2v1h-2zM5 9h1v1h-1zM5 16h1v1h-1zM5 21h1v1h-1zM5 23h1v1h-1zM6 24h1v1h-1zM1 26h1v1h-1zM4 26h2v1h-2zM17 27h1v1h-1zM28 27h1v1h-1z"/>
<path class="k" fill="#00cfff" stroke="#00cfff" d="M3 0h1v1h-1zM5 6h1v1h-1zM5 11h2v1h-2zM5 13h1v1h-1zM5 14h1v1h-1zM5 15h1v1h-1zM5 24h1v1h-1z"/>
<path class="k" fill="#00dfff" stroke="#00dfff" d="M4 1h1v1h-1zM4 3h1v1h-1zM5 4h1v1h-1zM5 5h1v1h-1zM5 7h1v1h-1zM4 11h1v1h-1zM5 12h1v1h-1zM5 18h1v1h-1zM4 19h1v1h-1zM4 25h1v1h-1zM22 27h1v1h-1zM27 27h1v1h-1z"/>
<path class="k" fill="#00efff" stroke="#00efff" d="M0 0h1v1h-1zM29 0h1v1h-1zM4 2h1v1h-1zM4 15h1v1h-1zM5 17h1v1h-1zM5 20h1v1h-1zM18 27h1v1h-1z"/>
<path class="k" fill="#00ffff" stroke="#00ffff" d="M1 0h2v1h-2zM25 0h1v1h-1zM3 1h1v1h-1zM4 4h1v1h-1zM4 6h1v1h-1zM4 10h1v1h-1zM4 12h1v1h-1zM4 18h1v1h-1zM4 20h1v1h-1zM4 23h1v1h-1zM3 25h1v1h-1zM0 26h1v1h-1zM2 26h1v1h-1z"/>
<path class="k" fill="#10ffef" stroke="#10ffef" d="M28 0h1v1h-1zM4 7h1v1h-1zM4 9h1v1h-1zM4 16h1v1h-1zM4 22h2v1h-2zM4 24h1v1h-1zM23 27h1v1h-1z"/>
<path class="k" fill="#20ffdf" stroke="#20ffdf" d="M3 2h1v1h-1zM3 3h1v1h-1zM4 13h1v1h-1zM4 14h1v1h-1zM4 17h1v1h-1zM3 26h1v1h-1z"/>
<path class="k" fill="#30ffcf" stroke="#30ffcf" d="M26 0h2v1h-2zM0 1h1v1h-1zM4 8h1v1h-1zM3 24h1v1h-1z"/>
<path class="k" fill="#40ffbf" stroke="#40ffbf" d="M24 0h1v1h-1zM2 1h1v1h-1zM4 5h1v1h-1zM4 21h1v1h-1z"/>
<path class="k" fill="#50ffaf" stroke="#50ffaf" d="M1 1h1v1h-1zM28 26h1v1h-1z"/>
<path class="k" fill="#60ff9f" stroke="#60ff9f" d="M3 4h1v1h-1zM2 25h1v1h-1zM29 26h1v1h-1z"/>
<path class="k" fill="#70ff8f" stroke="#70ff8f" d="M2 2h1v1h-1zM3 7h1v1h-1zM3 8h1v1h-1zM3 10h1v1h-1zM3 11h1v1h-1zM3 12h1v1h-1zM3 13h1v1h-1zM3 21h1v1h-1zM30 26h1v1h-1z"/>
<path class="k" fill="#80ff80" stroke="#80ff80" d="M2 4h1v1h-1zM3 5h1v1h-1zM3 15h1v1h-1zM3 17h1v1h-1zM3 18h1v1h-1zM3 19h1v1h-1zM3 20h1v1h-1zM3 22h1v1h-1zM3 23h1v1h-1z"/>
<path class="k" fill="#8fff70" stroke="#8fff70" d="M20 0h2v1h-2zM0 2h1v1h-1zM3 6h1v1h-1zM3 16h1v1h-1zM2 24h1v1h-1zM1 25h1v1h-1zM19 26h1v1h-1zM25 26h2v1h-2z"/>
<path class="k" fill="#9fff60" stroke="#9fff60" d="M16 0h1v1h-1zM30 0h1v1h-1zM3 14h1v1h-1zM20 26h1v1h-1z"/>
<path class="k" fill="#afff50" stroke="#afff50" d="M17 0h1v1h-1zM22 0h2v1h-2zM1 2h1v1h-1zM2 3h1v1h-1zM3 9h1v1h-1zM24 26h1v1h-1z"/>
<path class="k" fill="#bfff40" stroke="#bfff40" d="M18 0h2v1h-2zM28 1h1v1h-1zM0 25h1v1h-1zM18 26h1v1h-1z"/>
<path class="k" fill="#cfff30" stroke="#cfff30" d="M29 1h2v1h-2zM0 3h1v1h-1zM2 22h1v1h-1z"/>
<path class="k" fill="#dfff20" stroke="#dfff20" d="M29 2h1v1h-1zM2 6h1v1h-1zM2 7h1v1h-1zM1 12h1v1h-1zM2 15h1v1h-1zM2 23h1v1h-1zM21 26h1v1h-1zM27 26h1v1h-1z"/>
<path class="k" fill="#efff10" stroke="#efff10" d="M16 1h1v1h-1zM1 10h2v1h-2zM2 14h1v1h-1zM1 23h1v1h-1zM17 26h1v1h-1z"/>
<path class="k" fill="#ffff00" stroke="#ffff00" d="M25 1h1v1h-1zM1 3h1v1h-1zM1 4h1v1h-1zM2 5h1v1h-1zM2 8h1v1h-1zM2 12h1v1h-1zM2 13h1v1h-1zM2 16h1v1h-1zM2 17h1v1h-1zM1 19h2v1h-2zM2 21h1v1h-1zM1 22h1v1h-1zM16 26h1v1h-1zM22 26h1v1h-1z"/>
<path class="k" fill="#ffef00" stroke="#ffef00" d="M27 1h1v1h-1zM16 2h1v1h-1zM29 3h1v1h-1zM0 4h1v1h-1zM2 18h1v1h-1zM2 20h1v1h-1zM20 25h1v1h-1zM29 25h1v1h-1z"/>
<path class="k" fill="#ffdf00" stroke="#ffdf00" d="M24 1h1v1h-1zM26 1h1v1h-1zM24 2h1v1h-1zM1 8h1v1h-1zM1 9h2v1h-2zM1 11h2v1h-2zM1 16h1v1h-1zM1 21h1v1h-1zM1 24h1v1h-1zM19 25h1v1h-1zM23 26h1v1h-1z"/>
<path class="k" fill="#ffcf00" stroke="#ffcf00" d="M27 2h1v1h-1zM1 5h1v1h-1zM16 5h1v1h-1zM1 7h1v1h-1zM1 13h1v1h-1zM0 17h2v1h-2zM1 18h1v1h-1zM0 19h1v1h-1zM1 20h1v1h-1z"/>
<path class="k" fill="#ffbf00" stroke="#ffbf00" d="M30 2h1v1h-1zM16 3h1v1h-1zM16 4h1v1h-1zM16 12h1v1h-1zM1 15h1v1h-1zM0 16h1v1h-1zM0 20h1v1h-1zM0 22h1v1h-1zM17 25h1v1h-1zM21 25h2v1h-2z"/>
<path class="k" fill="#ffaf00" stroke="#ffaf00" d="M21 1h1v1h-1zM26 2h1v1h-1zM28 2h1v1h-1zM25 3h2v1h-2zM28 3h1v1h-1zM25 4h1v1h-1zM0 7h1v1h-1zM0 15h1v1h-1zM0 24h1v1h-1zM18 25h1v1h-1zM28 25h1v1h-1z"/>
<path class="k" fill="#ff9f00" stroke="#ff9f00" d="M19 1h2v1h-2zM23 1h1v1h-1zM18 2h1v1h-1zM23 2h1v1h-1zM25 2h1v1h-1zM27 3h1v1h-1zM30 3h1v1h-1zM28 4h2v1h-2zM0 6h2v1h-2zM16 7h1v1h-1zM0 8h1v1h-1zM0 9h1v1h-1zM16 14h1v1h-1zM0 18h1v1h-1zM16 20h1v1h-1zM0 21h1v1h-1zM16 21h1v1h-1zM0 23h1v1h-1zM16 23h1v1h-1zM16 25h1v1h-1zM23 25h1v1h-1zM27 25h1v1h-1zM30 25h1v1h-1z"/>
<path class="k" fill="#ff8f00" stroke="#ff8f00" d="M17 1h1v1h-1zM19 2h1v1h-1zM19 3h1v1h-1zM27 4h1v1h-1zM0 5h1v1h-1zM16 9h1v1h-1zM0 10h1v1h-1zM16 11h1v1h-1zM0 12h1v1h-1zM0 13h1v1h-1zM1 14h1v1h-1zM16 15h1v1h-1zM16 17h1v1h-1zM16 22h1v1h-1zM24 25h1v1h-1zM26 25h1v1h-1z"/>
<path class="k" fill="#ff8000" stroke="#ff8000" d="M22 1h1v1h-1zM20 2h2v1h-2zM30 4h1v1h-1zM16 10h1v1h-1zM0 11h1v1h-1zM29 13h1v1h-1zM0 14h1v1h-1zM16 16h1v1h-1z"/>
<path class="k" fill="#ff7000" stroke="#ff7000" d="M18 1h1v1h-1zM18 3h1v1h-1zM24 3h1v1h-1zM26 4h1v1h-1zM29 5h1v1h-1zM30 7h1v1h-1zM16 8h1v1h-1zM29 9h1v1h-1zM16 13h1v1h-1zM17 14h1v1h-1zM29 17h1v1h-1zM16 19h1v1h-1zM25 25h1v1h-1z"/>
<path class="k" fill="#ff6000" stroke="#ff6000" d="M22 2h1v1h-1zM17 3h1v1h-1zM22 3h1v1h-1zM20 4h1v1h-1zM29 12h1v1h-1zM17 23h1v1h-1zM29 23h1v1h-1zM16 24h1v1h-1z"/>
<path class="k" fill="#ff5000" stroke="#ff5000" d="M17 2h1v1h-1zM18 4h2v1h-2zM16 6h1v1h-1zM29 6h1v1h-1zM29 11h1v1h-1zM28 12h1v1h-1zM28 15h1v1h-1zM16 18h1v1h-1zM29 18h1v1h-1zM29 19h2v1h-2zM29 22h1v1h-1zM29 24h1v1h-1z"/>
<path class="k" fill="#ff4000" stroke="#ff4000" d="M20 3h2v1h-2zM23 3h1v1h-1zM17 4h1v1h-1zM23 4h1v1h-1zM28 5h1v1h-1zM30 5h1v1h-1zM28 7h1v1h-1zM28 8h1v1h-1zM28 10h3v1h-3zM30 12h1v1h-1zM30 13h1v1h-1zM29 14h2v1h-2zM29 15h2v1h-2zM30 17h1v1h-1zM30 20h1v1h-1zM29 21h2v1h-2zM25 22h1v1h-1zM22 24h1v1h-1z"/>
<path class="k" fill="#ff3000" stroke="#ff3000" d="M24 4h1v1h-1zM17 5h1v1h-1zM29 8h1v1h-1zM17 9h1v1h-1zM30 9h1v1h-1zM17 10h1v1h-1zM30 11h1v1h-1zM24 15h1v1h-1zM30 16h1v1h-1zM17 17h1v1h-1zM30 18h1v1h-1zM28 19h1v1h-1zM29 20h1v1h-1zM20 21h1v1h-1zM17 22h1v1h-1zM30 23h1v1h-1zM26 24h1v1h-1z"/>
<path class="k" fill="#ff2000" stroke="#ff2000" d="M21 4h2v1h-2zM24 5h1v1h-1zM28 6h1v1h-1zM30 6h1v1h-1zM29 7h1v1h-1zM17 8h1v1h-1zM30 8h1v1h-1zM28 9h1v1h-1zM18 16h1v1h-1zM29 16h1v1h-1zM28 17h1v1h-1zM28 18h1v1h-1zM17 19h1v1h-1zM20 20h1v1h-1zM28 20h1v1h-1zM17 21h1v1h-1zM27 22h2v1h-2zM30 22h1v1h-1zM17 24h1v1h-1zM21 24h1v1h-1zM25 24h1v1h-1zM30 24h1v1h-1z"/>
<path class="k" fill="#ff1000" stroke="#ff1000" d="M21 5h1v1h-1zM27 10h1v1h-1zM17 12h1v1h-1zM17 13h1v1h-1zM28 13h1v1h-1zM28 14h1v1h-1zM17 15h1v1h-1zM20 16h1v1h-1zM28 16h1v1h-1zM17 18h1v1h-1zM20 19h1v1h-1zM23 19h1v1h-1zM24 20h1v1h-1zM28 21h1v1h-1zM26 22h1v1h-1zM28 23h1v1h-1zM18 24h2v1h-2zM27 24h1v1h-1z"/>
<path class="k" fill="#ff0000" stroke="#ff0000" d="M18 5h1v1h-1zM22 5h1v1h-1zM25 5h2v1h-2zM17 6h1v1h-1zM17 7h1v1h-1zM27 7h1v1h-1zM24 8h1v1h-1zM27 8h1v1h-1zM17 11h1v1h-1zM28 11h1v1h-1zM20 12h1v1h-1zM27 13h1v1h-1zM27 14h1v1h-1zM22 15h1v1h-1zM22 16h2v1h-2zM27 17h1v1h-1zM22 18h1v1h-1zM26 18h1v1h-1zM19 19h1v1h-1zM25 19h1v1h-1zM17 20h1v1h-1zM19 21h1v1h-1zM23 21h1v1h-1zM21 22h1v1h-1zM18 23h1v1h-1zM23 23h1v1h-1zM23 24h2v1h-2z"/>
<path class="k" fill="#ef0000" stroke="#ef0000" d="M23 5h1v1h-1zM27 6h1v1h-1zM22 8h1v1h-1zM26 10h1v1h-1zM18 11h1v1h-1zM27 11h1v1h-1zM18 12h1v1h-1zM25 12h1v1h-1zM27 12h1v1h-1zM18 13h3v1h-3zM22 13h1v1h-1zM24 13h1v1h-1zM18 14h1v1h-1zM20 14h1v1h-1zM22 14h1v1h-1zM25 14h1v1h-1zM20 15h1v1h-1zM17 16h1v1h-1zM19 16h1v1h-1zM25 16h3v1h-3zM19 17h1v1h-1zM21 17h1v1h-1zM23 17h2v1h-2zM19 18h2v1h-2zM24 18h1v1h-1zM21 19h2v1h-2zM24 19h1v1h-1zM18 20h1v1h-1zM25 20h1v1h-1zM27 20h1v1h-1zM21 21h1v1h-1zM27 21h1v1h-1zM18 22h1v1h-1zM23 22h2v1h-2zM21 23h1v1h-1zM24 23h2v1h-2zM20 24h1v1h-1zM28 24h1v1h-1z"/>
<path class="k" fill="#df0000" stroke="#df0000" d="M19 5h2v1h-2zM27 5h1v1h-1zM18 6h1v1h-1zM26 6h1v1h-1zM18 8h1v1h-1zM20 9h1v1h-1zM24 10h1v1h-1zM26 11h1v1h-1zM19 12h1v1h-1zM23 12h1v1h-1zM21 13h1v1h-1zM23 13h1v1h-1zM25 13h1v1h-1zM21 14h1v1h-1zM23 14h1v1h-1zM26 14h1v1h-1zM18 15h2v1h-2zM21 15h1v1h-1zM25 15h2v1h-2zM24 16h1v1h-1zM20 17h1v1h-1zM22 17h1v1h-1zM25 17h1v1h-1zM18 18h1v1h-1zM21 18h1v1h-1zM23 18h1v1h-1zM27 18h1v1h-1zM26 19h2v1h-2zM19 20h1v1h-1zM21 20h1v1h-1zM26 20h1v1h-1zM24 21h3v1h-3zM22 22h1v1h-1zM19 23h1v1h-1zM22 23h1v1h-1z"/>
<path class="k" fill="#cf0000" stroke="#cf0000" d="M23 6h1v1h-1zM25 6h1v1h-1zM19 7h4v1h-4zM24 7h1v1h-1zM26 7h1v1h-1zM20 8h1v1h-1zM25 8h1v1h-1zM22 9h2v1h-2zM27 9h1v1h-1zM18 10h1v1h-1zM20 10h1v1h-1zM25 10h1v1h-1zM20 11h1v1h-1zM22 11h2v1h-2zM24 12h1v1h-1zM26 13h1v1h-1zM19 14h1v1h-1zM27 15h1v1h-1zM25 18h1v1h-1zM18 19h1v1h-1zM22 20h2v1h-2zM18 21h1v1h-1zM22 21h1v1h-1zM20 22h1v1h-1zM20 23h1v1h-1zM26 23h2v1h-2z"/>
<path class="k" fill="#bf0000" stroke="#bf0000" d="M19 6h2v1h-2zM22 6h1v1h-1zM18 7h1v1h-1zM23 7h1v1h-1zM23 8h1v1h-1zM26 8h1v1h-1zM18 9h1v1h-1zM24 9h1v1h-1zM19 10h1v1h-1zM19 11h1v1h-1zM24 11h1v1h-1zM21 12h2v1h-2zM26 12h1v1h-1zM24 14h1v1h-1zM23 15h1v1h-1zM21 16h1v1h-1zM18 17h1v1h-1zM19 22h1v1h-1z"/>
<path class="k" fill="#af0000" stroke="#af0000" d="M21 6h1v1h-1zM24 6h1v1h-1zM25 7h1v1h-1zM21 8h1v1h-1zM19 9h1v1h-1zM21 9h1v1h-1zM25 9h2v1h-2zM21 10h2v1h-2zM25 11h1v1h-1zM26 17h1v1h-1z"/>
<path class="k" fill="#9f0000" stroke="#9f0000" d="M19 8h1v1h-1zM23 10h1v1h-1zM21 11h1v1h-1z"/>
<path class="gl" d="M1 0V31M0 1H31M2 0V31M0 2H31M3 0V31M0 3H31M4 0V31M0 4H31M5 0V31M0 5H31M6 0V31M0 6H31M7 0V31M0 7H31M8 0V31M0 8H31M9 0V31M0 9H31M10 0V31M0 10H31M11 0V31M0 11H31M12 0V31M0 12H31M13 0V31M0 13H31M14 0V31M0 14H31M15 0V31M0 15H31M16 0V31M0 16H31M17 0V31M0 17H31M18 0V31M0 18H31M19 0V31M0 19H31M20 0V31M0 20H31M21 0V31M0 21H31M22 0V31M0 22H31M23 0V31M0 23H31M24 0V31M0 24H31M25 0V31M0 25H31M26 0V31M0 26H31M27 0V31M0 27H31M28 0V31M0 28H31M29 0V31M0 29H31M30 0V31M0 30H31"/>
</g></g></svg>
<span class="tk" style="left:382.63px;top:277.8px">5</span>
<span class="tk" style="left:362px;top:261.14px">5</span>
<span class="tk" style="left:404.16px;top:277.8px">10</span>
<span class="tk" style="left:362px;top:243.05px">10</span>
<span class="tk" style="left:425.69px;top:277.8px">15</span>
<span class="tk" style="left:362px;top:224.97px">15</span>
<span class="tk" style="left:447.22px;top:277.8px">20</span>
<span class="tk" style="left:362px;top:206.89px">20</span>
<span class="tk" style="left:468.75px;top:277.8px">25</span>
<span class="tk" style="left:362px;top:188.81px">25</span>
<span class="tk" style="left:490.29px;top:277.8px">30</span>
<span class="tk" style="left:362px;top:170.73px">30</span>
<svg class="hm" style="left:86px;top:291.9px" width="137.9" height="116.8">
<g filter="url(#bl)"><rect width="100%" height="100%" fill="#fff"/>
<g transform="translate(2 2) scale(4.3194 3.6387)">
<rect width="31" height="31" fill="#bf0000"/>
<path class="k" fill="#00009f" stroke="#00009f" d="M16 1h2v1h-2zM16 2h2v1h-2zM16 3h2v1h-2zM16 4h2v1h-2zM16 5h2v1h-2zM16 6h2v1h-2zM16 7h2v1h-2zM16 8h2v1h-2zM16 9h2v1h-2zM16 10h2v1h-2zM16 11h2v1h-2zM16 12h2v1h-2zM16 13h2v1h-2zM16 14h2v1h-2zM16 15h2v1h-2zM16 16h2v1h-2zM16 17h2v1h-2zM16 18h2v1h-2zM16 19h2v1h-2zM16 20h2v1h-2zM16 21h2v1h-2zM16 22h2v1h-2zM16 23h2v1h-2zM16 24h2v1h-2zM16 25h2v1h-2zM16 26h2v1h-2zM16 27h2v1h-2zM16 28h2v1h-2zM16 30h3v1h-3z"/>
<path class="k" fill="#0000af" stroke="#0000af" d="M0 0h31v1h-31zM18 1h1v1h-1zM18 2h1v1h-1zM18 3h1v1h-1zM18 4h1v1h-1zM18 5h1v1h-1zM18 6h1v1h-1zM18 7h1v1h-1zM18 8h1v1h-1zM18 9h1v1h-1zM18 10h1v1h-1zM18 11h1v1h-1zM18 12h1v1h-1zM18 13h1v1h-1zM18 14h1v1h-1zM18 15h1v1h-1zM18 16h1v1h-1zM18 17h1v1h-1zM18 18h1v1h-1zM18 19h1v1h-1zM18 20h1v1h-1zM18 21h1v1h-1zM18 22h1v1h-1zM18 23h1v1h-1zM18 24h1v1h-1zM18 25h1v1h-1zM18 26h1v1h-1zM18 27h1v1h-1zM18 28h1v1h-1zM16 29h3v1h-3z"/>
<path class="k" fill="#0000df" stroke="#0000df" d="M0 30h16v1h-16zM19 30h12v1h-12z"/>
<path class="k" fill="#0000ff" stroke="#0000ff" d="M0 29h16v1h-16zM19 29h12v1h-12z"/>
<path class="k" fill="#0040ff" stroke="#0040ff" d="M15 1h1v1h-1zM19 1h1v1h-1z"/>
<path class="k" fill="#0050ff" stroke="#0050ff" d="M15 2h1v1h-1zM19 2h1v1h-1z"/>
<path class="k" fill="#0060ff" stroke="#0060ff" d="M20 1h1v1h-1z"/>
<path class="k" fill="#0070ff" stroke="#0070ff" d="M21 1h10v1h-10z"/>
<path class="k" fill="#0080ff" stroke="#0080ff" d="M0 1h15v1h-15zM20 2h1v1h-1z"/>
<path class="k" fill="#008fff" stroke="#008fff" d="M21 2h6v1h-6z"/>
<path class="k" fill="#009fff" stroke="#009fff" d="M0 2h15v1h-15zM19 3h1v1h-1z"/>
<path class="k" fill="#00afff" stroke="#00afff" d="M27 2h4v1h-4zM19 4h1v1h-1zM19 5h1v1h-1zM19 6h1v1h-1zM19 7h1v1h-1zM19 8h1v1h-1zM19 9h1v1h-1zM19 10h1v1h-1zM19 11h1v1h-1zM19 12h1v1h-1zM19 13h1v1h-1zM19 14h1v1h-1zM19 15h1v1h-1zM19 16h1v1h-1zM19 17h1v1h-1zM19 18h1v1h-1zM19 19h1v1h-1zM19 20h1v1h-1zM19 21h1v1h-1zM19 22h1v1h-1zM19 23h1v1h-1zM19 24h1v1h-1zM19 25h1v1h-1zM19 26h1v1h-1zM19 27h1v1h-1zM19 28h1v1h-1z"/>
<path class="k" fill="#00cfff" stroke="#00cfff" d="M20 3h1v1h-1z"/>
<path class="k" fill="#00ffff" stroke="#00ffff" d="M21 3h10v1h-10z"/>
<path class="k" fill="#20ffdf" stroke="#20ffdf" d="M15 3h1v1h-1zM20 28h1v1h-1z"/>
<path class="k" fill="#30ffcf" stroke="#30ffcf" d="M20 4h1v1h-1zM20 5h1v1h-1zM20 6h1v1h-1zM20 7h1v1h-1zM20 8h1v1h-1zM20 9h1v1h-1zM20 10h1v1h-1zM20 11h1v1h-1zM20 12h1v1h-1zM20 13h1v1h-1zM20 14h1v1h-1zM20 15h1v1h-1zM20 16h1v1h-1zM20 17h1v1h-1zM20 27h1v1h-1z"/>
<path class="k" fill="#40ffbf" stroke="#40ffbf" d="M20 18h1v1h-1zM20 19h1v1h-1zM20 20h1v1h-1zM20 21h1v1h-1z"/>
<path class="k" fill="#50ffaf" stroke="#50ffaf" d="M20 22h1v1h-1zM20 23h1v1h-1zM20 24h1v1h-1zM20 25h1v1h-1zM20 26h1v1h-1z"/>
<path class="k" fill="#60ff9f" stroke="#60ff9f" d="M14 3h1v1h-1z"/>
<path class="k" fill="#80ff80" stroke="#80ff80" d="M0 3h14v1h-14zM21 28h1v1h-1z"/>
<path class="k" fill="#8fff70" stroke="#8fff70" d="M21 27h1v1h-1z"/>
<path class="k" fill="#9fff60" stroke="#9fff60" d="M21 9h1v1h-1zM21 10h1v1h-1zM21 11h1v1h-1zM21 12h1v1h-1zM21 13h1v1h-1zM21 14h1v1h-1zM21 15h1v1h-1zM21 16h1v1h-1zM21 17h1v1h-1zM21 18h1v1h-1z"/>
<path class="k" fill="#afff50" stroke="#afff50" d="M21 4h1v1h-1zM21 5h1v1h-1zM21 6h1v1h-1zM21 7h1v1h-1zM21 8h1v1h-1zM21 19h1v1h-1zM21 20h1v1h-1zM21 21h1v1h-1zM21 22h1v1h-1zM21 23h1v1h-1zM21 24h1v1h-1zM21 25h1v1h-1zM21 26h1v1h-1z"/>
<path class="k" fill="#cfff30" stroke="#cfff30" d="M22 28h1v1h-1z"/>
<path class="k" fill="#dfff20" stroke="#dfff20" d="M22 12h1v1h-1zM22 13h1v1h-1zM22 14h1v1h-1zM22 15h1v1h-1zM22 16h1v1h-1z"/>
<path class="k" fill="#efff10" stroke="#efff10" d="M22 8h1v1h-1zM22 9h1v1h-1zM22 10h1v1h-1zM22 11h1v1h-1zM22 17h1v1h-1zM22 18h1v1h-1z"/>
<path class="k" fill="#ffff00" stroke="#ffff00" d="M22 4h1v1h-1zM22 5h1v1h-1zM22 6h1v1h-1zM22 7h1v1h-1zM22 19h1v1h-1zM22 27h1v1h-1zM23 28h5v1h-5z"/>
<path class="k" fill="#ffef00" stroke="#ffef00" d="M22 20h1v1h-1zM22 21h1v1h-1zM28 28h1v1h-1z"/>
<path class="k" fill="#ffdf00" stroke="#ffdf00" d="M22 22h1v1h-1zM22 23h1v1h-1zM22 24h1v1h-1zM22 25h1v1h-1zM22 26h1v1h-1zM29 28h1v1h-1z"/>
<path class="k" fill="#ffbf00" stroke="#ffbf00" d="M23 10h1v1h-1zM23 11h1v1h-1zM23 12h1v1h-1zM23 13h1v1h-1zM23 14h1v1h-1zM23 15h1v1h-1zM23 16h1v1h-1zM23 17h1v1h-1zM15 28h1v1h-1zM30 28h1v1h-1z"/>
<path class="k" fill="#ffaf00" stroke="#ffaf00" d="M23 7h1v1h-1zM23 8h1v1h-1zM23 9h1v1h-1zM23 18h1v1h-1zM23 19h1v1h-1zM23 27h1v1h-1zM0 28h15v1h-15z"/>
<path class="k" fill="#ff9f00" stroke="#ff9f00" d="M23 4h1v1h-1zM23 5h1v1h-1zM23 6h1v1h-1zM23 20h1v1h-1z"/>
<path class="k" fill="#ff8f00" stroke="#ff8f00" d="M24 12h1v1h-1zM24 13h1v1h-1zM24 14h1v1h-1zM24 15h1v1h-1zM24 16h1v1h-1zM23 21h1v1h-1zM23 22h1v1h-1zM23 23h1v1h-1zM23 24h1v1h-1zM23 25h1v1h-1zM23 26h1v1h-1z"/>
<path class="k" fill="#ff8000" stroke="#ff8000" d="M15 4h1v1h-1zM15 5h1v1h-1zM15 6h1v1h-1zM15 7h1v1h-1zM15 8h1v1h-1zM15 9h1v1h-1zM15 10h1v1h-1zM24 10h1v1h-1zM15 11h1v1h-1zM24 11h1v1h-1zM15 12h1v1h-1zM15 13h1v1h-1zM15 14h1v1h-1zM15 15h1v1h-1zM15 16h1v1h-1zM15 17h1v1h-1zM24 17h1v1h-1zM15 18h1v1h-1zM15 19h1v1h-1zM15 20h1v1h-1zM15 21h1v1h-1zM15 22h1v1h-1zM15 23h1v1h-1zM15 24h1v1h-1zM15 25h1v1h-1zM15 26h1v1h-1zM15 27h1v1h-1z"/>
<path class="k" fill="#ff7000" stroke="#ff7000" d="M24 8h1v1h-1zM24 9h1v1h-1zM24 18h1v1h-1zM24 19h1v1h-1zM24 27h1v1h-1z"/>
<path class="k" fill="#ff6000" stroke="#ff6000" d="M24 6h1v1h-1zM24 7h1v1h-1zM24 20h1v1h-1z"/>
<path class="k" fill="#ff5000" stroke="#ff5000" d="M24 4h1v1h-1zM24 5h1v1h-1zM25 10h1v1h-1zM25 11h1v1h-1zM25 12h1v1h-1zM25 13h1v1h-1zM25 14h1v1h-1zM25 15h1v1h-1zM25 16h1v1h-1zM25 17h1v1h-1zM24 21h1v1h-1zM24 22h1v1h-1zM24 23h1v1h-1zM24 24h1v1h-1zM24 25h1v1h-1zM24 26h1v1h-1z"/>
<path class="k" fill="#ff4000" stroke="#ff4000" d="M25 7h1v1h-1zM25 8h1v1h-1zM25 9h1v1h-1zM25 18h1v1h-1zM25 19h1v1h-1zM25 27h1v1h-1z"/>
<path class="k" fill="#ff3000" stroke="#ff3000" d="M25 4h1v1h-1zM25 5h1v1h-1zM25 6h1v1h-1zM26 11h1v1h-1zM26 12h1v1h-1zM26 13h1v1h-1zM26 14h1v1h-1zM26 15h1v1h-1zM26 16h1v1h-1zM25 20h1v1h-1z"/>
<path class="k" fill="#ff2000" stroke="#ff2000" d="M26 9h1v1h-1zM26 10h1v1h-1zM26 17h1v1h-1zM26 18h1v1h-1zM25 21h1v1h-1zM25 22h1v1h-1zM25 23h1v1h-1zM25 24h1v1h-1zM25 25h1v1h-1zM25 26h1v1h-1zM0 27h15v1h-15zM26 27h1v1h-1z"/>
<path class="k" fill="#ff1000" stroke="#ff1000" d="M26 6h1v1h-1zM26 7h1v1h-1zM26 8h1v1h-1zM26 19h1v1h-1zM26 20h1v1h-1zM27 27h1v1h-1z"/>
<path class="k" fill="#ff0000" stroke="#ff0000" d="M0 4h15v1h-15zM26 4h1v1h-1zM13 5h2v1h-2zM26 5h1v1h-1zM13 6h2v1h-2zM13 7h2v1h-2zM13 8h2v1h-2zM27 8h1v1h-1zM13 9h2v1h-2zM27 9h1v1h-1zM13 10h2v1h-2zM27 10h1v1h-1zM13 11h2v1h-2zM27 11h1v1h-1zM13 12h2v1h-2zM27 12h1v1h-1zM13 13h2v1h-2zM27 13h1v1h-1zM13 14h2v1h-2zM27 14h1v1h-1zM13 15h2v1h-2zM27 15h1v1h-1zM13 16h2v1h-2zM27 16h1v1h-1zM13 17h2v1h-2zM27 17h1v1h-1zM13 18h2v1h-2zM27 18h1v1h-1zM13 19h2v1h-2zM13 20h2v1h-2zM13 21h2v1h-2zM26 21h1v1h-1zM13 22h2v1h-2zM26 22h1v1h-1zM13 23h2v1h-2zM26 23h1v1h-1zM13 24h2v1h-2zM26 24h1v1h-1zM13 25h2v1h-2zM26 25h1v1h-1zM0 26h15v1h-15zM26 26h1v1h-1zM28 27h1v1h-1z"/>
<path class="k" fill="#ef0000" stroke="#ef0000" d="M27 4h1v1h-1zM0 5h1v1h-1zM12 5h1v1h-1zM27 5h1v1h-1zM0 6h1v1h-1zM12 6h1v1h-1zM27 6h1v1h-1zM0 7h1v1h-1zM12 7h1v1h-1zM27 7h1v1h-1zM0 8h1v1h-1zM12 8h1v1h-1zM0 9h1v1h-1zM12 9h1v1h-1zM0 10h1v1h-1zM12 10h1v1h-1zM0 11h1v1h-1zM12 11h1v1h-1zM0 12h1v1h-1zM12 12h1v1h-1zM0 13h1v1h-1zM12 13h1v1h-1zM0 14h1v1h-1zM12 14h1v1h-1zM0 15h1v1h-1zM12 15h1v1h-1zM0 16h1v1h-1zM12 16h1v1h-1zM0 17h1v1h-1zM12 17h1v1h-1zM0 18h1v1h-1zM12 18h1v1h-1zM0 19h1v1h-1zM12 19h1v1h-1zM27 19h1v1h-1zM0 20h1v1h-1zM12 20h1v1h-1zM27 20h1v1h-1zM0 21h1v1h-1zM12 21h1v1h-1zM27 21h1v1h-1zM0 22h1v1h-1zM12 22h1v1h-1zM0 23h1v1h-1zM12 23h1v1h-1zM0 24h1v1h-1zM12 24h1v1h-1zM0 25h1v1h-1zM12 25h1v1h-1z"/>
<path class="k" fill="#df0000" stroke="#df0000" d="M28 4h1v1h-1zM1 5h11v1h-11zM28 5h1v1h-1zM1 6h11v1h-11zM28 6h1v1h-1zM1 7h1v1h-1zM28 7h1v1h-1zM1 8h1v1h-1zM28 8h1v1h-1zM1 9h1v1h-1zM28 9h1v1h-1zM1 10h1v1h-1zM28 10h1v1h-1zM1 11h1v1h-1zM28 11h1v1h-1zM1 12h1v1h-1zM28 12h1v1h-1zM1 13h1v1h-1zM28 13h1v1h-1zM1 14h1v1h-1zM28 14h1v1h-1zM1 15h1v1h-1zM28 15h1v1h-1zM1 16h1v1h-1zM28 16h1v1h-1zM1 17h1v1h-1zM28 17h1v1h-1zM1 18h1v1h-1zM28 18h1v1h-1zM1 19h1v1h-1zM28 19h1v1h-1zM1 20h1v1h-1zM28 20h1v1h-1zM1 21h1v1h-1zM1 22h11v1h-11zM27 22h1v1h-1zM1 23h11v1h-11zM27 23h1v1h-1zM1 24h11v1h-11zM27 24h1v1h-1zM1 25h11v1h-11zM27 25h1v1h-1zM27 26h1v1h-1zM29 27h1v1h-1z"/>
<path class="k" fill="#cf0000" stroke="#cf0000" d="M29 4h1v1h-1zM29 5h1v1h-1zM29 6h1v1h-1zM29 7h1v1h-1zM29 8h1v1h-1zM29 9h1v1h-1zM29 10h1v1h-1zM29 11h1v1h-1zM29 12h1v1h-1zM29 13h1v1h-1zM29 14h1v1h-1zM29 15h1v1h-1zM29 16h1v1h-1zM29 17h1v1h-1zM29 18h1v1h-1zM29 19h1v1h-1zM28 21h1v1h-1zM28 22h1v1h-1zM28 23h1v1h-1zM28 24h1v1h-1zM28 25h1v1h-1zM28 26h1v1h-1zM30 27h1v1h-1z"/>
<path class="gl" d="M1 0V31M0 1H31M2 0V31M0 2H31M3 0V31M0 3H31M4 0V31M0 4H31M5 0V31M0 5H31M6 0V31M0 6H31M7 0V31M0 7H31M8 0V31M0 8H31M9 0V31M0 9H31M10 0V31M0 10H31M11 0V31M0 11H31M12 0V31M0 12H31M13 0V31M0 13H31M14 0V31M0 14H31M15 0V31M0 15H31M16 0V31M0 16H31M17 0V31M0 17H31M18 0V31M0 18H31M19 0V31M0 19H31M20 0V31M0 20H31M21 0V31M0 21H31M22 0V31M0 22H31M23 0V31M0 23H31M24 0V31M0 24H31M25 0V31M0 25H31M26 0V31M0 26H31M27 0V31M0 27H31M28 0V31M0 28H31M29 0V31M0 29H31M30 0V31M0 30H31"/>
</g></g></svg>
<span class="tk" style="left:103.28px;top:409px">5</span>
<span class="tk" style="left:82.6px;top:392.25px">5</span>
<span class="tk" style="left:124.87px;top:409px">10</span>
<span class="tk" style="left:82.6px;top:374.05px">10</span>
<span class="tk" style="left:146.47px;top:409px">15</span>
<span class="tk" style="left:82.6px;top:355.86px">15</span>
<span class="tk" style="left:168.07px;top:409px">20</span>
<span class="tk" style="left:82.6px;top:337.66px">20</span>
<span class="tk" style="left:189.66px;top:409px">25</span>
<span class="tk" style="left:82.6px;top:319.47px">25</span>
<span class="tk" style="left:211.26px;top:409px">30</span>
<span class="tk" style="left:82.6px;top:301.28px">30</span>
<svg class="hm" style="left:225.6px;top:291.9px" width="137.5" height="116.8">
<g filter="url(#bl)"><rect width="100%" height="100%" fill="#fff"/>
<g transform="translate(2 2) scale(4.3065 3.6387)">
<rect width="31" height="31" fill="#cf0000"/>
<path class="k" fill="#00009f" stroke="#00009f" d="M17 0h1v1h-1zM17 6h1v1h-1zM17 9h1v1h-1zM17 10h1v1h-1zM17 11h1v1h-1zM17 12h1v1h-1zM17 13h1v1h-1zM17 14h1v1h-1zM17 15h1v1h-1zM17 16h1v1h-1zM17 17h1v1h-1zM17 20h1v1h-1zM17 21h1v1h-1zM17 23h1v1h-1zM17 24h1v1h-1zM17 25h1v1h-1zM17 26h1v1h-1z"/>
<path class="k" fill="#0000af" stroke="#0000af" d="M15 0h2v1h-2zM18 0h2v1h-2zM16 1h1v1h-1zM17 28h1v1h-1zM17 29h1v1h-1z"/>
<path class="k" fill="#0000bf" stroke="#0000bf" d="M0 0h15v1h-15zM20 0h11v1h-11zM17 2h1v1h-1zM16 29h1v1h-1zM18 29h1v1h-1zM0 30h31v1h-31z"/>
<path class="k" fill="#0000cf" stroke="#0000cf" d="M16 2h1v1h-1zM18 2h1v1h-1zM17 4h1v1h-1zM17 5h1v1h-1zM15 29h1v1h-1z"/>
<path class="k" fill="#0000df" stroke="#0000df" d="M17 1h3v1h-3zM17 3h2v1h-2zM18 4h1v1h-1zM18 5h1v1h-1zM16 28h1v1h-1zM11 29h4v1h-4zM19 29h2v1h-2z"/>
<path class="k" fill="#0000ff" stroke="#0000ff" d="M15 1h1v1h-1zM15 2h1v1h-1zM19 2h1v1h-1zM16 4h1v1h-1zM16 5h1v1h-1zM16 6h1v1h-1zM18 6h1v1h-1zM17 7h2v1h-2zM17 8h1v1h-1zM18 10h1v1h-1zM18 11h1v1h-1zM16 12h1v1h-1zM18 12h1v1h-1zM16 13h1v1h-1zM16 14h1v1h-1zM16 15h1v1h-1zM18 15h1v1h-1zM16 16h1v1h-1zM18 16h1v1h-1zM16 17h1v1h-1zM18 17h1v1h-1zM17 18h2v1h-2zM17 19h1v1h-1zM16 20h1v1h-1zM18 20h1v1h-1zM18 21h1v1h-1zM17 22h2v1h-2zM18 23h1v1h-1zM18 24h1v1h-1zM16 25h1v1h-1zM18 25h1v1h-1zM16 26h1v1h-1zM18 26h1v1h-1zM17 27h1v1h-1zM18 28h1v1h-1zM5 29h1v1h-1zM10 29h1v1h-1zM21 29h1v1h-1zM25 29h3v1h-3z"/>
<path class="k" fill="#0020ff" stroke="#0020ff" d="M1 1h1v1h-1zM20 1h1v1h-1zM4 29h1v1h-1z"/>
<path class="k" fill="#0040ff" stroke="#0040ff" d="M24 1h5v1h-5zM19 28h1v1h-1zM28 29h1v1h-1z"/>
<path class="k" fill="#0050ff" stroke="#0050ff" d="M0 1h1v1h-1zM3 1h1v1h-1zM7 1h1v1h-1zM18 27h1v1h-1z"/>
<path class="k" fill="#0060ff" stroke="#0060ff" d="M2 1h1v1h-1zM6 1h1v1h-1zM14 1h1v1h-1zM23 1h1v1h-1z"/>
<path class="k" fill="#0070ff" stroke="#0070ff" d="M21 1h2v1h-2zM29 1h2v1h-2z"/>
<path class="k" fill="#0080ff" stroke="#0080ff" d="M4 1h2v1h-2zM8 1h6v1h-6zM2 2h1v1h-1zM14 2h1v1h-1zM20 2h1v1h-1zM16 3h1v1h-1zM19 3h1v1h-1zM19 4h1v1h-1zM19 5h1v1h-1zM18 8h1v1h-1zM18 9h1v1h-1zM16 11h1v1h-1zM18 13h1v1h-1zM18 14h1v1h-1zM16 19h1v1h-1zM18 19h1v1h-1zM16 21h1v1h-1zM16 23h1v1h-1zM16 24h1v1h-1zM19 27h1v1h-1zM20 28h1v1h-1zM6 29h1v1h-1zM22 29h3v1h-3z"/>
<path class="k" fill="#008fff" stroke="#008fff" d="M28 2h1v1h-1z"/>
<path class="k" fill="#009fff" stroke="#009fff" d="M24 2h4v1h-4z"/>
<path class="k" fill="#00afff" stroke="#00afff" d="M1 2h1v1h-1zM6 2h1v1h-1zM10 2h1v1h-1zM21 2h1v1h-1zM20 3h1v1h-1zM19 6h1v1h-1zM19 7h1v1h-1zM19 8h1v1h-1zM19 9h1v1h-1zM16 10h1v1h-1zM19 10h1v1h-1zM19 11h1v1h-1zM19 12h1v1h-1zM19 13h1v1h-1zM19 14h1v1h-1zM19 15h1v1h-1zM19 16h1v1h-1zM19 17h1v1h-1zM16 18h1v1h-1zM19 18h1v1h-1zM19 19h1v1h-1zM19 20h1v1h-1zM19 21h1v1h-1zM19 22h1v1h-1zM19 23h1v1h-1zM19 24h1v1h-1zM19 25h1v1h-1zM19 26h1v1h-1zM0 29h1v1h-1zM9 29h1v1h-1z"/>
<path class="k" fill="#00bfff" stroke="#00bfff" d="M29 2h1v1h-1z"/>
<path class="k" fill="#00cfff" stroke="#00cfff" d="M0 2h1v1h-1zM7 2h1v1h-1zM3 29h1v1h-1zM8 29h1v1h-1zM29 29h1v1h-1z"/>
<path class="k" fill="#00dfff" stroke="#00dfff" d="M3 2h1v1h-1zM8 2h2v1h-2zM13 2h1v1h-1z"/>
<path class="k" fill="#00ffff" stroke="#00ffff" d="M4 2h2v1h-2zM11 2h2v1h-2zM22 2h2v1h-2zM30 2h1v1h-1zM15 3h1v1h-1zM21 3h1v1h-1zM30 3h1v1h-1zM15 4h1v1h-1zM20 4h1v1h-1zM20 5h1v1h-1zM16 7h1v1h-1zM16 8h1v1h-1zM16 9h1v1h-1zM15 17h1v1h-1zM16 22h1v1h-1zM16 27h1v1h-1zM20 27h1v1h-1zM15 28h1v1h-1zM21 28h1v1h-1zM1 29h2v1h-2zM7 29h1v1h-1zM30 29h1v1h-1z"/>
<path class="k" fill="#20ffdf" stroke="#20ffdf" d="M20 6h1v1h-1zM20 7h1v1h-1zM20 8h1v1h-1zM20 9h1v1h-1zM20 10h1v1h-1zM20 11h1v1h-1zM20 12h1v1h-1zM20 13h1v1h-1zM20 14h1v1h-1zM20 15h1v1h-1zM20 16h1v1h-1zM20 17h1v1h-1zM20 18h1v1h-1zM20 19h1v1h-1zM20 20h1v1h-1zM20 21h1v1h-1zM20 22h1v1h-1zM20 23h1v1h-1zM20 24h1v1h-1zM20 25h1v1h-1zM20 26h1v1h-1z"/>
<path class="k" fill="#40ffbf" stroke="#40ffbf" d="M29 3h1v1h-1zM21 27h1v1h-1z"/>
<path class="k" fill="#50ffaf" stroke="#50ffaf" d="M15 12h1v1h-1zM22 28h1v1h-1z"/>
<path class="k" fill="#70ff8f" stroke="#70ff8f" d="M0 3h1v1h-1zM14 3h1v1h-1zM22 3h2v1h-2zM21 4h1v1h-1zM15 5h1v1h-1zM26 28h2v1h-2z"/>
<path class="k" fill="#80ff80" stroke="#80ff80" d="M1 3h1v1h-1zM3 3h4v1h-4zM8 3h4v1h-4zM24 3h5v1h-5zM0 28h1v1h-1z"/>
<path class="k" fill="#8fff70" stroke="#8fff70" d="M2 3h1v1h-1zM7 3h1v1h-1z"/>
<path class="k" fill="#afff50" stroke="#afff50" d="M12 3h2v1h-2zM21 5h1v1h-1zM21 6h1v1h-1zM21 7h1v1h-1zM21 8h1v1h-1zM21 9h1v1h-1zM21 10h1v1h-1zM21 11h1v1h-1zM21 12h1v1h-1zM21 13h1v1h-1zM21 14h1v1h-1zM15 15h1v1h-1zM21 15h1v1h-1zM15 16h1v1h-1zM21 16h1v1h-1zM21 17h1v1h-1zM21 18h1v1h-1zM21 19h1v1h-1zM21 20h1v1h-1zM21 21h1v1h-1zM21 22h1v1h-1zM21 23h1v1h-1zM15 24h1v1h-1zM21 24h1v1h-1zM21 25h1v1h-1zM21 26h1v1h-1zM28 28h1v1h-1z"/>
<path class="k" fill="#bfff40" stroke="#bfff40" d="M29 4h2v1h-2zM22 27h1v1h-1zM23 28h1v1h-1zM25 28h1v1h-1z"/>
<path class="k" fill="#cfff30" stroke="#cfff30" d="M22 4h1v1h-1z"/>
<path class="k" fill="#dfff20" stroke="#dfff20" d="M0 4h1v1h-1z"/>
<path class="k" fill="#ffff00" stroke="#ffff00" d="M28 4h1v1h-1zM22 5h1v1h-1zM15 7h1v1h-1zM15 8h1v1h-1zM15 11h1v1h-1zM15 22h1v1h-1zM15 23h1v1h-1zM15 27h1v1h-1zM23 27h1v1h-1zM7 28h1v1h-1zM24 28h1v1h-1zM30 28h1v1h-1z"/>
<path class="k" fill="#ffef00" stroke="#ffef00" d="M11 4h1v1h-1zM22 6h1v1h-1zM22 7h1v1h-1zM22 8h1v1h-1zM22 9h1v1h-1zM22 10h1v1h-1zM22 11h1v1h-1zM22 12h1v1h-1zM22 13h1v1h-1zM22 14h1v1h-1zM22 15h1v1h-1zM22 16h1v1h-1zM22 17h1v1h-1zM22 18h1v1h-1zM22 19h1v1h-1zM22 20h1v1h-1zM22 21h1v1h-1zM22 22h1v1h-1zM22 23h1v1h-1zM22 24h1v1h-1zM22 25h1v1h-1zM22 26h1v1h-1z"/>
<path class="k" fill="#ffdf00" stroke="#ffdf00" d="M5 4h2v1h-2zM1 28h1v1h-1zM6 28h1v1h-1zM8 28h1v1h-1z"/>
<path class="k" fill="#ffbf00" stroke="#ffbf00" d="M4 4h1v1h-1zM9 4h2v1h-2zM12 4h1v1h-1zM27 4h1v1h-1zM0 5h1v1h-1zM14 17h1v1h-1z"/>
<path class="k" fill="#ffaf00" stroke="#ffaf00" d="M1 4h1v1h-1zM3 4h1v1h-1zM7 4h2v1h-2zM15 9h1v1h-1zM2 28h1v1h-1zM5 28h1v1h-1zM9 28h1v1h-1zM11 28h2v1h-2z"/>
<path class="k" fill="#ff9f00" stroke="#ff9f00" d="M2 4h1v1h-1zM0 27h1v1h-1zM3 28h2v1h-2zM10 28h1v1h-1zM13 28h1v1h-1zM29 28h1v1h-1z"/>
<path class="k" fill="#ff8f00" stroke="#ff8f00" d="M13 4h1v1h-1zM23 6h1v1h-1zM23 7h1v1h-1zM23 8h1v1h-1zM23 9h1v1h-1zM23 10h1v1h-1zM23 11h1v1h-1zM23 12h1v1h-1zM23 13h1v1h-1zM23 14h1v1h-1zM23 15h1v1h-1zM23 16h1v1h-1zM23 17h1v1h-1zM23 18h1v1h-1zM23 19h1v1h-1zM23 20h1v1h-1zM23 21h1v1h-1zM23 22h1v1h-1zM23 23h1v1h-1zM23 24h1v1h-1zM23 25h1v1h-1zM23 26h1v1h-1zM14 28h1v1h-1z"/>
<path class="k" fill="#ff8000" stroke="#ff8000" d="M23 4h1v1h-1zM26 4h1v1h-1zM23 5h1v1h-1zM30 5h1v1h-1zM15 6h1v1h-1zM15 10h1v1h-1zM15 13h1v1h-1zM15 14h1v1h-1zM14 18h2v1h-2zM15 19h1v1h-1zM15 20h1v1h-1zM15 25h1v1h-1zM0 26h1v1h-1zM15 26h1v1h-1zM14 27h1v1h-1zM24 27h1v1h-1z"/>
<path class="k" fill="#ff7000" stroke="#ff7000" d="M29 5h1v1h-1zM13 27h1v1h-1z"/>
<path class="k" fill="#ff6000" stroke="#ff6000" d="M14 4h1v1h-1zM15 21h1v1h-1zM12 27h1v1h-1z"/>
<path class="k" fill="#ff5000" stroke="#ff5000" d="M24 4h2v1h-2zM0 6h1v1h-1zM24 6h1v1h-1zM24 7h1v1h-1zM24 8h1v1h-1zM24 9h1v1h-1zM24 10h1v1h-1zM24 11h1v1h-1zM24 12h1v1h-1zM24 13h1v1h-1zM24 14h1v1h-1zM24 15h1v1h-1zM24 16h1v1h-1zM24 17h1v1h-1zM24 18h1v1h-1zM24 19h1v1h-1zM24 20h1v1h-1zM24 21h1v1h-1zM24 22h1v1h-1zM24 23h1v1h-1zM24 24h1v1h-1zM24 25h1v1h-1zM24 26h1v1h-1zM11 27h1v1h-1zM25 27h1v1h-1z"/>
<path class="k" fill="#ff4000" stroke="#ff4000" d="M6 5h1v1h-1zM24 5h2v1h-2zM14 16h1v1h-1zM1 27h1v1h-1zM10 27h1v1h-1z"/>
<path class="k" fill="#ff3000" stroke="#ff3000" d="M26 27h1v1h-1z"/>
<path class="k" fill="#ff2000" stroke="#ff2000" d="M5 5h1v1h-1zM9 5h5v1h-5zM25 6h1v1h-1zM25 7h1v1h-1zM25 8h1v1h-1zM25 9h1v1h-1zM25 10h1v1h-1zM25 11h1v1h-1zM25 12h1v1h-1zM25 13h1v1h-1zM25 14h1v1h-1zM14 15h1v1h-1zM25 15h1v1h-1zM25 16h1v1h-1zM25 17h1v1h-1zM25 18h1v1h-1zM25 19h1v1h-1zM25 20h1v1h-1zM25 21h1v1h-1zM25 22h1v1h-1zM25 23h1v1h-1zM25 24h1v1h-1zM0 25h1v1h-1zM25 25h1v1h-1zM25 26h1v1h-1zM2 27h8v1h-8zM27 27h3v1h-3z"/>
<path class="k" fill="#ff1000" stroke="#ff1000" d="M1 5h1v1h-1zM7 5h1v1h-1zM14 5h1v1h-1z"/>
<path class="k" fill="#ff0000" stroke="#ff0000" d="M2 5h3v1h-3zM8 5h1v1h-1zM26 5h3v1h-3zM14 6h1v1h-1zM26 6h1v1h-1zM0 7h1v1h-1zM14 7h1v1h-1zM26 7h1v1h-1zM0 8h1v1h-1zM14 8h1v1h-1zM26 8h1v1h-1zM0 9h1v1h-1zM14 9h1v1h-1zM26 9h1v1h-1zM0 10h1v1h-1zM14 10h1v1h-1zM26 10h1v1h-1zM0 11h1v1h-1zM14 11h1v1h-1zM26 11h1v1h-1zM0 12h1v1h-1zM14 12h1v1h-1zM26 12h1v1h-1zM0 13h1v1h-1zM14 13h1v1h-1zM26 13h1v1h-1zM0 14h1v1h-1zM14 14h1v1h-1zM26 14h1v1h-1zM0 15h1v1h-1zM26 15h1v1h-1zM0 16h1v1h-1zM26 16h1v1h-1zM0 17h1v1h-1zM26 17h1v1h-1zM0 18h1v1h-1zM26 18h1v1h-1zM0 19h1v1h-1zM14 19h1v1h-1zM26 19h1v1h-1zM0 20h1v1h-1zM14 20h1v1h-1zM26 20h1v1h-1zM0 21h1v1h-1zM14 21h1v1h-1zM26 21h1v1h-1zM0 22h1v1h-1zM14 22h1v1h-1zM26 22h1v1h-1zM0 23h1v1h-1zM14 23h1v1h-1zM26 23h1v1h-1zM0 24h1v1h-1zM14 24h1v1h-1zM26 24h1v1h-1zM14 25h1v1h-1zM26 25h1v1h-1zM1 26h14v1h-14zM26 26h1v1h-1zM30 27h1v1h-1z"/>
<path class="k" fill="#ef0000" stroke="#ef0000" d="M13 6h1v1h-1zM13 7h1v1h-1zM13 8h1v1h-1zM13 9h1v1h-1zM13 10h1v1h-1zM13 11h1v1h-1zM13 12h1v1h-1zM13 13h1v1h-1zM13 14h1v1h-1zM13 15h1v1h-1zM13 16h1v1h-1zM13 17h1v1h-1zM13 18h1v1h-1zM13 19h1v1h-1zM13 20h1v1h-1zM13 21h1v1h-1zM13 22h1v1h-1zM27 22h4v1h-4zM13 23h1v1h-1zM27 23h4v1h-4zM13 24h1v1h-1zM27 24h4v1h-4zM13 25h1v1h-1zM27 25h4v1h-4zM27 26h4v1h-4z"/>
<path class="k" fill="#df0000" stroke="#df0000" d="M1 6h1v1h-1zM10 6h3v1h-3zM27 6h1v1h-1zM1 7h1v1h-1zM10 7h3v1h-3zM27 7h1v1h-1zM1 8h1v1h-1zM10 8h3v1h-3zM27 8h1v1h-1zM1 9h1v1h-1zM10 9h3v1h-3zM27 9h1v1h-1zM1 10h1v1h-1zM10 10h3v1h-3zM27 10h1v1h-1zM1 11h1v1h-1zM10 11h3v1h-3zM27 11h1v1h-1zM1 12h1v1h-1zM10 12h3v1h-3zM27 12h1v1h-1zM1 13h1v1h-1zM10 13h3v1h-3zM27 13h1v1h-1zM1 14h1v1h-1zM10 14h3v1h-3zM27 14h1v1h-1zM1 15h1v1h-1zM10 15h3v1h-3zM27 15h1v1h-1zM1 16h1v1h-1zM10 16h3v1h-3zM27 16h1v1h-1zM1 17h1v1h-1zM10 17h3v1h-3zM27 17h1v1h-1zM1 18h1v1h-1zM10 18h3v1h-3zM27 18h1v1h-1zM1 19h1v1h-1zM10 19h3v1h-3zM27 19h1v1h-1zM1 20h1v1h-1zM10 20h3v1h-3zM27 20h1v1h-1zM1 21h1v1h-1zM10 21h3v1h-3zM27 21h1v1h-1zM1 22h1v1h-1zM10 22h3v1h-3zM1 23h1v1h-1zM10 23h3v1h-3zM1 24h1v1h-1zM10 24h3v1h-3zM1 25h1v1h-1zM10 25h3v1h-3z"/>
<path class="k" fill="#bf0000" stroke="#bf0000" d="M29 6h2v1h-2zM29 7h2v1h-2zM29 8h2v1h-2zM29 9h2v1h-2zM29 10h2v1h-2zM29 11h2v1h-2zM29 12h2v1h-2zM29 13h2v1h-2zM29 14h2v1h-2zM29 15h2v1h-2zM29 16h2v1h-2zM29 17h2v1h-2zM29 18h2v1h-2zM29 19h2v1h-2zM29 20h2v1h-2zM29 21h2v1h-2z"/>
<path class="gl" d="M1 0V31M0 1H31M2 0V31M0 2H31M3 0V31M0 3H31M4 0V31M0 4H31M5 0V31M0 5H31M6 0V31M0 6H31M7 0V31M0 7H31M8 0V31M0 8H31M9 0V31M0 9H31M10 0V31M0 10H31M11 0V31M0 11H31M12 0V31M0 12H31M13 0V31M0 13H31M14 0V31M0 14H31M15 0V31M0 15H31M16 0V31M0 16H31M17 0V31M0 17H31M18 0V31M0 18H31M19 0V31M0 19H31M20 0V31M0 20H31M21 0V31M0 21H31M22 0V31M0 22H31M23 0V31M0 23H31M24 0V31M0 24H31M25 0V31M0 25H31M26 0V31M0 26H31M27 0V31M0 27H31M28 0V31M0 28H31M29 0V31M0 29H31M30 0V31M0 30H31"/>
</g></g></svg>
<span class="tk" style="left:242.83px;top:409px">5</span>
<span class="tk" style="left:222.2px;top:392.25px">5</span>
<span class="tk" style="left:264.36px;top:409px">10</span>
<span class="tk" style="left:222.2px;top:374.05px">10</span>
<span class="tk" style="left:285.89px;top:409px">15</span>
<span class="tk" style="left:222.2px;top:355.86px">15</span>
<span class="tk" style="left:307.42px;top:409px">20</span>
<span class="tk" style="left:222.2px;top:337.66px">20</span>
<span class="tk" style="left:328.95px;top:409px">25</span>
<span class="tk" style="left:222.2px;top:319.47px">25</span>
<span class="tk" style="left:350.49px;top:409px">30</span>
<span class="tk" style="left:222.2px;top:301.28px">30</span>
<svg class="hm" style="left:365.1px;top:291.9px" width="137.5" height="116.8">
<g filter="url(#bl)"><rect width="100%" height="100%" fill="#fff"/>
<g transform="translate(2 2) scale(4.3065 3.6387)">
<rect width="31" height="31" fill="#ff0000"/>
<path class="k" fill="#0000ef" stroke="#0000ef" d="M16 30h4v1h-4z"/>
<path class="k" fill="#0000ff" stroke="#0000ff" d="M17 0h1v1h-1z"/>
<path class="k" fill="#0010ff" stroke="#0010ff" d="M16 0h1v1h-1zM18 0h2v1h-2z"/>
<path class="k" fill="#0030ff" stroke="#0030ff" d="M17 1h1v1h-1z"/>
<path class="k" fill="#0050ff" stroke="#0050ff" d="M16 1h1v1h-1zM18 1h1v1h-1zM17 29h1v1h-1zM15 30h1v1h-1z"/>
<path class="k" fill="#0060ff" stroke="#0060ff" d="M20 0h1v1h-1zM17 2h1v1h-1z"/>
<path class="k" fill="#0070ff" stroke="#0070ff" d="M25 0h1v1h-1zM19 1h1v1h-1zM17 21h1v1h-1zM17 25h1v1h-1zM16 29h1v1h-1zM18 29h1v1h-1zM2 30h1v1h-1zM5 30h1v1h-1zM11 30h1v1h-1zM22 30h1v1h-1zM25 30h1v1h-1z"/>
<path class="k" fill="#0080ff" stroke="#0080ff" d="M15 0h1v1h-1zM22 0h1v1h-1zM26 0h2v1h-2zM29 0h1v1h-1zM17 11h1v1h-1zM17 20h1v1h-1zM20 30h2v1h-2zM26 30h1v1h-1zM30 30h1v1h-1z"/>
<path class="k" fill="#008fff" stroke="#008fff" d="M7 0h1v1h-1zM21 0h1v1h-1zM23 0h2v1h-2zM28 0h1v1h-1zM16 2h1v1h-1zM18 2h1v1h-1zM17 7h1v1h-1zM17 9h1v1h-1zM17 13h1v1h-1zM17 14h1v1h-1zM17 15h1v1h-1zM17 24h1v1h-1zM19 29h1v1h-1zM4 30h1v1h-1zM6 30h1v1h-1zM9 30h1v1h-1zM24 30h1v1h-1z"/>
<path class="k" fill="#009fff" stroke="#009fff" d="M2 0h1v1h-1zM8 0h2v1h-2zM12 0h1v1h-1zM30 0h1v1h-1zM17 3h1v1h-1zM17 4h1v1h-1zM17 5h1v1h-1zM17 6h1v1h-1zM17 8h1v1h-1zM17 10h1v1h-1zM17 12h1v1h-1zM17 16h1v1h-1zM17 17h1v1h-1zM17 18h1v1h-1zM17 19h1v1h-1zM17 22h1v1h-1zM17 23h1v1h-1zM17 26h1v1h-1zM17 27h1v1h-1zM17 28h1v1h-1zM0 30h1v1h-1zM13 30h1v1h-1zM27 30h3v1h-3z"/>
<path class="k" fill="#00afff" stroke="#00afff" d="M3 0h1v1h-1zM11 0h1v1h-1zM14 0h1v1h-1zM19 2h1v1h-1zM16 10h1v1h-1zM16 14h1v1h-1zM16 20h1v1h-1zM3 30h1v1h-1zM7 30h1v1h-1zM10 30h1v1h-1zM23 30h1v1h-1z"/>
<path class="k" fill="#00bfff" stroke="#00bfff" d="M18 6h1v1h-1zM16 12h1v1h-1zM18 17h1v1h-1zM1 30h1v1h-1zM12 30h1v1h-1z"/>
<path class="k" fill="#00cfff" stroke="#00cfff" d="M5 0h1v1h-1zM10 0h1v1h-1zM13 0h1v1h-1zM15 1h1v1h-1zM16 3h1v1h-1zM18 3h1v1h-1zM16 4h1v1h-1zM18 4h1v1h-1zM16 5h1v1h-1zM16 7h1v1h-1zM18 8h1v1h-1zM16 9h1v1h-1zM18 10h1v1h-1zM16 11h1v1h-1zM18 11h1v1h-1zM18 12h1v1h-1zM18 13h1v1h-1zM18 14h1v1h-1zM16 15h1v1h-1zM18 15h1v1h-1zM16 16h1v1h-1zM18 16h1v1h-1zM16 18h1v1h-1zM18 18h1v1h-1zM16 19h1v1h-1zM18 19h1v1h-1zM18 20h1v1h-1zM16 21h1v1h-1zM16 22h1v1h-1zM16 23h1v1h-1zM18 23h1v1h-1zM16 24h1v1h-1zM18 24h1v1h-1zM16 25h1v1h-1zM18 25h1v1h-1zM16 26h1v1h-1zM18 26h1v1h-1zM16 27h1v1h-1zM18 27h1v1h-1zM16 28h1v1h-1zM18 28h1v1h-1zM15 29h1v1h-1zM8 30h1v1h-1zM14 30h1v1h-1z"/>
<path class="k" fill="#00dfff" stroke="#00dfff" d="M0 0h2v1h-2zM4 0h1v1h-1zM23 1h1v1h-1zM29 1h1v1h-1zM18 5h1v1h-1zM16 6h1v1h-1zM18 7h1v1h-1zM16 8h1v1h-1zM18 9h1v1h-1zM19 11h1v1h-1zM16 13h1v1h-1zM16 17h1v1h-1zM18 21h1v1h-1zM18 22h1v1h-1zM0 29h1v1h-1zM22 29h2v1h-2zM28 29h2v1h-2z"/>
<path class="k" fill="#00efff" stroke="#00efff" d="M6 0h1v1h-1zM3 1h2v1h-2zM13 1h2v1h-2zM20 1h1v1h-1zM24 1h5v1h-5zM19 5h1v1h-1zM19 23h1v1h-1zM6 29h1v1h-1zM8 29h2v1h-2zM11 29h2v1h-2zM21 29h1v1h-1zM25 29h2v1h-2zM30 29h1v1h-1z"/>
<path class="k" fill="#00ffff" stroke="#00ffff" d="M0 1h2v1h-2zM10 1h2v1h-2zM21 1h2v1h-2zM30 1h1v1h-1zM19 3h1v1h-1zM19 4h1v1h-1zM19 7h1v1h-1zM19 8h1v1h-1zM19 9h1v1h-1zM19 10h1v1h-1zM19 15h1v1h-1zM19 18h1v1h-1zM19 21h1v1h-1zM19 25h1v1h-1zM19 26h1v1h-1zM19 27h1v1h-1zM19 28h1v1h-1zM3 29h1v1h-1zM5 29h1v1h-1zM7 29h1v1h-1zM20 29h1v1h-1zM24 29h1v1h-1zM27 29h1v1h-1z"/>
<path class="k" fill="#10ffef" stroke="#10ffef" d="M5 1h2v1h-2zM8 1h1v1h-1zM12 1h1v1h-1zM24 2h1v1h-1zM19 6h1v1h-1zM19 12h1v1h-1zM19 13h1v1h-1zM19 14h1v1h-1zM19 16h1v1h-1zM19 17h1v1h-1zM19 19h1v1h-1zM19 20h1v1h-1zM2 29h1v1h-1zM4 29h1v1h-1zM13 29h2v1h-2z"/>
<path class="k" fill="#20ffdf" stroke="#20ffdf" d="M2 1h1v1h-1zM7 1h1v1h-1zM9 1h1v1h-1zM15 2h1v1h-1zM20 2h1v1h-1zM25 2h1v1h-1zM19 22h1v1h-1zM19 24h1v1h-1zM1 29h1v1h-1zM10 29h1v1h-1z"/>
<path class="k" fill="#30ffcf" stroke="#30ffcf" d="M22 2h2v1h-2zM26 2h2v1h-2z"/>
<path class="k" fill="#40ffbf" stroke="#40ffbf" d="M1 2h1v1h-1zM8 2h1v1h-1zM21 2h1v1h-1zM28 2h2v1h-2zM20 3h1v1h-1z"/>
<path class="k" fill="#50ffaf" stroke="#50ffaf" d="M2 2h1v1h-1zM6 2h1v1h-1zM11 2h1v1h-1zM14 2h1v1h-1zM30 2h1v1h-1zM20 4h1v1h-1zM20 18h1v1h-1zM20 19h1v1h-1zM20 28h1v1h-1z"/>
<path class="k" fill="#60ff9f" stroke="#60ff9f" d="M4 2h2v1h-2zM13 2h1v1h-1zM20 5h1v1h-1zM20 6h1v1h-1zM20 8h1v1h-1zM20 9h1v1h-1zM20 11h1v1h-1zM20 12h1v1h-1zM20 15h1v1h-1zM20 16h1v1h-1zM20 17h1v1h-1zM20 20h1v1h-1zM20 21h1v1h-1zM20 23h1v1h-1zM20 24h1v1h-1zM20 26h1v1h-1z"/>
<path class="k" fill="#70ff8f" stroke="#70ff8f" d="M0 2h1v1h-1zM3 2h1v1h-1zM7 2h1v1h-1zM9 2h1v1h-1zM12 2h1v1h-1zM20 7h1v1h-1zM20 10h1v1h-1zM20 13h1v1h-1zM20 14h1v1h-1zM20 22h1v1h-1zM20 25h1v1h-1z"/>
<path class="k" fill="#80ff80" stroke="#80ff80" d="M10 2h1v1h-1zM15 3h1v1h-1zM20 27h1v1h-1z"/>
<path class="k" fill="#8fff70" stroke="#8fff70" d="M21 3h1v1h-1z"/>
<path class="k" fill="#9fff60" stroke="#9fff60" d="M21 12h1v1h-1z"/>
<path class="k" fill="#afff50" stroke="#afff50" d="M15 28h1v1h-1zM21 28h2v1h-2z"/>
<path class="k" fill="#bfff40" stroke="#bfff40" d="M10 3h1v1h-1zM30 3h1v1h-1zM21 6h1v1h-1zM21 9h1v1h-1zM21 26h1v1h-1z"/>
<path class="k" fill="#cfff30" stroke="#cfff30" d="M4 3h1v1h-1zM12 3h1v1h-1zM22 3h1v1h-1zM25 3h1v1h-1zM29 3h1v1h-1zM21 7h1v1h-1zM21 11h1v1h-1zM21 13h1v1h-1zM21 14h1v1h-1zM21 15h1v1h-1zM21 16h1v1h-1zM21 18h1v1h-1zM21 20h1v1h-1zM21 22h1v1h-1zM21 23h1v1h-1zM21 24h1v1h-1zM21 25h1v1h-1zM21 27h1v1h-1z"/>
<path class="k" fill="#dfff20" stroke="#dfff20" d="M8 3h2v1h-2zM24 3h1v1h-1zM27 3h1v1h-1zM21 5h1v1h-1zM21 8h1v1h-1zM21 10h1v1h-1zM21 17h1v1h-1zM21 19h1v1h-1zM21 21h1v1h-1z"/>
<path class="k" fill="#efff10" stroke="#efff10" d="M0 3h1v1h-1zM5 3h1v1h-1zM11 3h1v1h-1zM14 3h1v1h-1zM23 3h1v1h-1zM28 3h1v1h-1zM21 4h1v1h-1zM22 8h1v1h-1zM22 12h1v1h-1zM14 28h1v1h-1zM23 28h1v1h-1z"/>
<path class="k" fill="#ffff00" stroke="#ffff00" d="M2 3h2v1h-2zM6 3h2v1h-2zM13 3h1v1h-1zM26 3h1v1h-1zM22 24h1v1h-1zM6 28h1v1h-1zM8 28h1v1h-1z"/>
<path class="k" fill="#ffef00" stroke="#ffef00" d="M22 4h1v1h-1zM22 7h1v1h-1zM22 13h1v1h-1zM22 15h1v1h-1zM22 18h1v1h-1zM22 23h1v1h-1zM22 27h1v1h-1zM4 28h2v1h-2zM9 28h1v1h-1zM25 28h1v1h-1zM28 28h1v1h-1zM30 28h1v1h-1z"/>
<path class="k" fill="#ffdf00" stroke="#ffdf00" d="M15 6h1v1h-1zM22 9h1v1h-1zM22 10h1v1h-1zM22 11h1v1h-1zM22 14h1v1h-1zM22 16h1v1h-1zM22 17h1v1h-1zM22 20h1v1h-1zM22 21h1v1h-1zM22 22h1v1h-1zM22 26h1v1h-1zM0 28h1v1h-1zM12 28h2v1h-2zM29 28h1v1h-1z"/>
<path class="k" fill="#ffcf00" stroke="#ffcf00" d="M1 3h1v1h-1zM22 6h1v1h-1zM22 19h1v1h-1zM22 25h1v1h-1zM2 28h1v1h-1zM11 28h1v1h-1zM24 28h1v1h-1zM26 28h1v1h-1z"/>
<path class="k" fill="#ffbf00" stroke="#ffbf00" d="M15 4h1v1h-1zM22 5h1v1h-1zM15 7h1v1h-1zM15 9h1v1h-1zM15 11h1v1h-1zM15 12h1v1h-1zM15 15h1v1h-1zM15 23h1v1h-1zM15 25h1v1h-1zM3 28h1v1h-1z"/>
<path class="k" fill="#ffaf00" stroke="#ffaf00" d="M15 5h1v1h-1zM15 8h1v1h-1zM15 10h1v1h-1zM15 13h1v1h-1zM15 14h1v1h-1zM15 17h1v1h-1zM15 18h1v1h-1zM15 19h1v1h-1zM15 20h1v1h-1zM15 22h1v1h-1zM15 24h1v1h-1zM15 26h1v1h-1zM15 27h1v1h-1zM23 27h1v1h-1z"/>
<path class="k" fill="#ff9f00" stroke="#ff9f00" d="M23 12h1v1h-1zM15 16h1v1h-1zM15 21h1v1h-1zM23 21h1v1h-1zM23 26h1v1h-1zM11 27h1v1h-1zM26 27h1v1h-1zM7 28h1v1h-1zM27 28h1v1h-1z"/>
<path class="k" fill="#ff8f00" stroke="#ff8f00" d="M9 4h1v1h-1zM11 4h1v1h-1zM23 4h1v1h-1zM23 11h1v1h-1zM23 14h1v1h-1zM23 15h1v1h-1zM23 16h1v1h-1zM23 17h1v1h-1zM23 18h1v1h-1zM23 19h1v1h-1zM23 20h1v1h-1zM23 22h1v1h-1zM23 23h1v1h-1zM24 27h1v1h-1zM28 27h1v1h-1zM1 28h1v1h-1z"/>
<path class="k" fill="#ff8000" stroke="#ff8000" d="M10 4h1v1h-1zM23 5h1v1h-1zM23 6h1v1h-1zM23 7h1v1h-1zM23 8h1v1h-1zM23 9h1v1h-1zM23 10h1v1h-1zM24 11h1v1h-1zM23 13h1v1h-1zM14 20h1v1h-1zM23 24h1v1h-1zM23 25h1v1h-1zM0 27h1v1h-1zM3 27h1v1h-1zM5 27h2v1h-2zM9 27h2v1h-2zM13 27h1v1h-1zM27 27h1v1h-1zM29 27h2v1h-2zM10 28h1v1h-1z"/>
<path class="k" fill="#ff7000" stroke="#ff7000" d="M7 4h1v1h-1zM12 4h1v1h-1zM24 4h1v1h-1zM25 7h1v1h-1zM24 8h1v1h-1zM24 13h1v1h-1zM14 18h1v1h-1zM5 22h1v1h-1zM12 26h1v1h-1zM24 26h1v1h-1zM1 27h2v1h-2zM8 27h1v1h-1zM12 27h1v1h-1zM14 27h1v1h-1z"/>
<path class="k" fill="#ff6000" stroke="#ff6000" d="M0 4h6v1h-6zM8 4h1v1h-1zM26 4h1v1h-1zM29 4h2v1h-2zM11 6h1v1h-1zM24 6h1v1h-1zM24 9h1v1h-1zM24 12h1v1h-1zM25 14h1v1h-1zM5 15h1v1h-1zM30 15h1v1h-1zM24 16h1v1h-1zM24 17h1v1h-1zM24 19h1v1h-1zM8 21h1v1h-1zM24 23h1v1h-1zM24 24h1v1h-1zM6 25h1v1h-1zM1 26h1v1h-1zM11 26h1v1h-1zM25 26h1v1h-1zM29 26h1v1h-1zM7 27h1v1h-1zM25 27h1v1h-1z"/>
<path class="k" fill="#ff5000" stroke="#ff5000" d="M6 4h1v1h-1zM13 4h2v1h-2zM28 4h1v1h-1zM7 9h1v1h-1zM5 10h1v1h-1zM5 12h1v1h-1zM24 14h1v1h-1zM24 15h1v1h-1zM10 17h1v1h-1zM14 17h1v1h-1zM24 18h1v1h-1zM27 19h1v1h-1zM12 24h1v1h-1zM0 26h1v1h-1zM2 26h1v1h-1zM4 26h1v1h-1zM10 26h1v1h-1zM13 26h1v1h-1zM26 26h1v1h-1zM28 26h1v1h-1zM4 27h1v1h-1z"/>
<path class="k" fill="#ff4000" stroke="#ff4000" d="M25 4h1v1h-1zM27 4h1v1h-1zM29 6h1v1h-1zM24 7h1v1h-1zM6 8h1v1h-1zM24 10h1v1h-1zM30 11h1v1h-1zM6 18h1v1h-1zM9 19h1v1h-1zM25 19h1v1h-1zM12 20h1v1h-1zM24 21h1v1h-1zM25 22h1v1h-1zM3 26h1v1h-1zM9 26h1v1h-1zM27 26h1v1h-1zM30 26h1v1h-1z"/>
<path class="k" fill="#ff3000" stroke="#ff3000" d="M25 5h1v1h-1zM4 6h1v1h-1zM14 6h1v1h-1zM0 8h1v1h-1zM25 9h1v1h-1zM25 12h1v1h-1zM9 13h1v1h-1zM14 13h1v1h-1zM25 13h1v1h-1zM3 14h1v1h-1zM5 14h1v1h-1zM1 15h1v1h-1zM7 15h1v1h-1zM14 16h1v1h-1zM25 17h1v1h-1zM12 18h1v1h-1zM0 20h1v1h-1zM24 20h1v1h-1zM1 21h1v1h-1zM24 22h1v1h-1zM0 24h1v1h-1zM14 24h1v1h-1zM1 25h2v1h-2zM10 25h1v1h-1zM14 25h1v1h-1zM24 25h1v1h-1zM5 26h4v1h-4zM14 26h1v1h-1z"/>
<path class="k" fill="#ff2000" stroke="#ff2000" d="M0 5h1v1h-1zM10 5h1v1h-1zM14 5h1v1h-1zM29 5h1v1h-1zM2 6h1v1h-1zM5 6h2v1h-2zM25 6h1v1h-1zM2 7h1v1h-1zM11 7h1v1h-1zM29 7h1v1h-1zM9 8h1v1h-1zM12 8h1v1h-1zM14 8h1v1h-1zM25 8h1v1h-1zM14 9h1v1h-1zM0 10h2v1h-2zM4 10h1v1h-1zM9 10h1v1h-1zM11 10h1v1h-1zM13 10h1v1h-1zM25 10h1v1h-1zM29 10h1v1h-1zM0 11h1v1h-1zM14 11h1v1h-1zM10 12h1v1h-1zM14 12h1v1h-1zM8 14h1v1h-1zM11 14h1v1h-1zM14 14h1v1h-1zM4 15h1v1h-1zM10 15h1v1h-1zM25 15h1v1h-1zM28 15h1v1h-1zM7 16h3v1h-3zM25 16h1v1h-1zM29 17h1v1h-1zM8 18h2v1h-2zM1 19h1v1h-1zM4 19h1v1h-1zM7 19h1v1h-1zM0 21h1v1h-1zM10 21h1v1h-1zM25 21h1v1h-1zM4 22h1v1h-1zM1 23h1v1h-1zM5 23h1v1h-1zM25 24h1v1h-1zM29 24h1v1h-1zM3 25h3v1h-3zM8 25h2v1h-2zM12 25h1v1h-1zM25 25h1v1h-1z"/>
<path class="k" fill="#ff1000" stroke="#ff1000" d="M4 5h1v1h-1zM9 5h1v1h-1zM11 5h1v1h-1zM0 6h1v1h-1zM7 6h1v1h-1zM10 6h1v1h-1zM27 6h1v1h-1zM30 6h1v1h-1zM3 7h3v1h-3zM8 7h1v1h-1zM14 7h1v1h-1zM27 7h2v1h-2zM30 7h1v1h-1zM1 8h1v1h-1zM3 8h2v1h-2zM8 8h1v1h-1zM26 8h1v1h-1zM30 8h1v1h-1zM2 9h1v1h-1zM29 9h2v1h-2zM2 10h1v1h-1zM8 10h1v1h-1zM7 11h2v1h-2zM12 11h2v1h-2zM25 11h1v1h-1zM0 12h1v1h-1zM7 12h1v1h-1zM0 13h2v1h-2zM4 13h1v1h-1zM8 13h1v1h-1zM11 13h1v1h-1zM13 13h1v1h-1zM27 13h2v1h-2zM30 13h1v1h-1zM0 14h1v1h-1zM2 14h1v1h-1zM4 14h1v1h-1zM13 14h1v1h-1zM26 14h1v1h-1zM28 14h3v1h-3zM8 15h2v1h-2zM12 15h1v1h-1zM14 15h1v1h-1zM2 16h1v1h-1zM4 16h2v1h-2zM12 16h1v1h-1zM26 16h2v1h-2zM29 16h1v1h-1zM0 17h1v1h-1zM9 17h1v1h-1zM12 17h1v1h-1zM28 17h1v1h-1zM1 18h1v1h-1zM5 18h1v1h-1zM7 18h1v1h-1zM10 18h2v1h-2zM13 18h1v1h-1zM25 18h1v1h-1zM27 18h1v1h-1zM29 18h1v1h-1zM2 19h1v1h-1zM5 19h2v1h-2zM14 19h1v1h-1zM30 19h1v1h-1zM10 20h2v1h-2zM25 20h2v1h-2zM29 20h2v1h-2zM2 21h1v1h-1zM9 21h1v1h-1zM13 21h1v1h-1zM28 21h2v1h-2zM0 22h4v1h-4zM6 22h4v1h-4zM7 23h1v1h-1zM11 23h2v1h-2zM25 23h4v1h-4zM2 24h3v1h-3zM10 24h1v1h-1zM28 24h1v1h-1zM7 25h1v1h-1zM11 25h1v1h-1zM13 25h1v1h-1zM27 25h1v1h-1z"/>
<path class="k" fill="#ef0000" stroke="#ef0000" d="M2 5h2v1h-2zM26 5h2v1h-2zM1 6h1v1h-1zM1 7h1v1h-1zM7 7h1v1h-1zM10 7h1v1h-1zM12 7h1v1h-1zM9 9h1v1h-1zM12 9h1v1h-1zM26 9h1v1h-1zM28 9h1v1h-1zM6 10h1v1h-1zM10 10h1v1h-1zM2 11h3v1h-3zM9 11h2v1h-2zM27 11h2v1h-2zM3 12h1v1h-1zM6 12h1v1h-1zM11 12h1v1h-1zM30 12h1v1h-1zM7 13h1v1h-1zM10 13h1v1h-1zM26 13h1v1h-1zM6 14h1v1h-1zM26 15h1v1h-1zM0 16h1v1h-1zM30 16h1v1h-1zM1 17h1v1h-1zM7 17h1v1h-1zM26 17h1v1h-1zM8 19h1v1h-1zM11 19h1v1h-1zM29 19h1v1h-1zM5 20h1v1h-1zM3 21h2v1h-2zM6 21h1v1h-1zM26 21h1v1h-1zM10 22h1v1h-1zM13 22h1v1h-1zM27 22h1v1h-1zM0 23h1v1h-1zM3 23h1v1h-1zM8 23h1v1h-1zM5 24h1v1h-1zM8 24h1v1h-1zM26 25h1v1h-1zM28 25h3v1h-3z"/>
<path class="k" fill="#df0000" stroke="#df0000" d="M2 8h1v1h-1zM10 8h1v1h-1zM11 9h1v1h-1zM13 9h1v1h-1zM3 10h1v1h-1zM1 11h1v1h-1zM9 12h1v1h-1zM2 13h1v1h-1zM5 13h1v1h-1zM28 18h1v1h-1zM30 18h1v1h-1z"/>
<path class="k" fill="#cf0000" stroke="#cf0000" d="M3 6h1v1h-1zM0 9h2v1h-2zM7 10h1v1h-1zM6 11h1v1h-1zM11 15h1v1h-1zM6 16h1v1h-1zM10 16h1v1h-1zM4 20h1v1h-1zM12 22h1v1h-1z"/>
<path class="k" fill="#bf0000" stroke="#bf0000" d="M5 8h1v1h-1zM26 12h1v1h-1zM1 14h1v1h-1zM3 16h1v1h-1zM5 17h1v1h-1zM10 19h1v1h-1zM3 20h1v1h-1zM5 21h1v1h-1zM7 21h1v1h-1z"/>
<path class="k" fill="#af0000" stroke="#af0000" d="M29 12h1v1h-1zM27 21h1v1h-1z"/>
<path class="k" fill="#9f0000" stroke="#9f0000" d="M1 5h1v1h-1z"/>
<path class="gl" d="M1 0V31M0 1H31M2 0V31M0 2H31M3 0V31M0 3H31M4 0V31M0 4H31M5 0V31M0 5H31M6 0V31M0 6H31M7 0V31M0 7H31M8 0V31M0 8H31M9 0V31M0 9H31M10 0V31M0 10H31M11 0V31M0 11H31M12 0V31M0 12H31M13 0V31M0 13H31M14 0V31M0 14H31M15 0V31M0 15H31M16 0V31M0 16H31M17 0V31M0 17H31M18 0V31M0 18H31M19 0V31M0 19H31M20 0V31M0 20H31M21 0V31M0 21H31M22 0V31M0 22H31M23 0V31M0 23H31M24 0V31M0 24H31M25 0V31M0 25H31M26 0V31M0 26H31M27 0V31M0 27H31M28 0V31M0 28H31M29 0V31M0 29H31M30 0V31M0 30H31"/>
</g></g></svg>
<span class="tk" style="left:382.33px;top:409px">5</span>
<span class="tk" style="left:361.7px;top:392.25px">5</span>
<span class="tk" style="left:403.86px;top:409px">10</span>
<span class="tk" style="left:361.7px;top:374.05px">10</span>
<span class="tk" style="left:425.39px;top:409px">15</span>
<span class="tk" style="left:361.7px;top:355.86px">15</span>
<span class="tk" style="left:446.92px;top:409px">20</span>
<span class="tk" style="left:361.7px;top:337.66px">20</span>
<span class="tk" style="left:468.45px;top:409px">25</span>
<span class="tk" style="left:361.7px;top:319.47px">25</span>
<span class="tk" style="left:489.99px;top:409px">30</span>
<span class="tk" style="left:361.7px;top:301.28px">30</span>
<svg class="hm" style="left:86px;top:421.3px" width="137.7" height="116.7">
<g filter="url(#bl)"><rect width="100%" height="100%" fill="#fff"/>
<g transform="translate(2 2) scale(4.3129 3.6355)">
<rect width="31" height="31" fill="#ff0000"/>
<path class="k" fill="#00009f" stroke="#00009f" d="M0 30h31v1h-31z"/>
<path class="k" fill="#0040ff" stroke="#0040ff" d="M8 0h1v1h-1zM10 0h1v1h-1zM15 0h2v1h-2z"/>
<path class="k" fill="#008fff" stroke="#008fff" d="M0 0h8v1h-8zM9 0h1v1h-1zM11 0h4v1h-4zM17 0h14v1h-14z"/>
<path class="k" fill="#00ffff" stroke="#00ffff" d="M8 1h1v1h-1zM10 1h1v1h-1zM15 1h1v1h-1z"/>
<path class="k" fill="#70ff8f" stroke="#70ff8f" d="M10 24h1v1h-1z"/>
<path class="k" fill="#80ff80" stroke="#80ff80" d="M0 1h8v1h-8zM9 1h1v1h-1zM11 1h4v1h-4zM16 1h4v1h-4zM8 2h1v1h-1zM8 29h1v1h-1z"/>
<path class="k" fill="#afff50" stroke="#afff50" d="M20 1h11v1h-11z"/>
<path class="k" fill="#bfff40" stroke="#bfff40" d="M8 3h1v1h-1zM8 4h1v1h-1zM8 5h1v1h-1zM8 6h1v1h-1zM8 7h1v1h-1zM8 8h1v1h-1zM8 9h1v1h-1zM8 10h1v1h-1zM8 11h1v1h-1zM8 12h1v1h-1zM8 13h1v1h-1zM8 14h1v1h-1zM8 15h1v1h-1zM8 16h1v1h-1zM8 17h1v1h-1zM8 18h1v1h-1zM8 19h1v1h-1zM8 20h1v1h-1zM8 21h1v1h-1zM8 22h1v1h-1zM8 23h1v1h-1zM8 24h1v1h-1zM8 25h1v1h-1zM8 26h1v1h-1zM8 27h1v1h-1zM8 28h1v1h-1z"/>
<path class="k" fill="#dfff20" stroke="#dfff20" d="M10 2h1v1h-1z"/>
<path class="k" fill="#ffff00" stroke="#ffff00" d="M15 2h1v1h-1zM10 3h1v1h-1zM15 3h1v1h-1zM10 4h1v1h-1zM15 4h1v1h-1zM10 5h1v1h-1zM15 5h1v1h-1zM10 6h1v1h-1zM15 6h1v1h-1zM10 7h1v1h-1zM15 7h1v1h-1zM10 8h1v1h-1zM15 8h1v1h-1zM10 9h1v1h-1zM15 9h1v1h-1zM10 10h1v1h-1zM15 10h1v1h-1zM10 11h1v1h-1zM15 11h1v1h-1zM10 12h1v1h-1zM15 12h1v1h-1zM10 13h1v1h-1zM15 13h1v1h-1zM10 14h1v1h-1zM15 14h1v1h-1zM10 15h1v1h-1zM15 15h1v1h-1zM10 16h1v1h-1zM15 16h1v1h-1zM10 17h1v1h-1zM15 17h1v1h-1zM10 18h1v1h-1zM15 18h1v1h-1zM10 19h1v1h-1zM15 19h1v1h-1zM10 20h1v1h-1zM15 20h1v1h-1zM10 21h1v1h-1zM15 21h1v1h-1zM10 22h1v1h-1zM15 22h1v1h-1zM10 23h1v1h-1zM15 23h1v1h-1zM15 24h1v1h-1zM10 25h1v1h-1zM16 25h1v1h-1zM10 26h1v1h-1zM16 26h1v1h-1zM10 27h1v1h-1zM16 27h1v1h-1zM10 28h1v1h-1zM16 28h1v1h-1zM10 29h1v1h-1zM16 29h1v1h-1z"/>
<path class="k" fill="#ffdf00" stroke="#ffdf00" d="M16 24h1v1h-1z"/>
<path class="k" fill="#ffbf00" stroke="#ffbf00" d="M16 3h1v1h-1zM16 4h1v1h-1zM16 5h1v1h-1zM16 6h1v1h-1zM16 7h1v1h-1zM16 8h1v1h-1zM16 9h1v1h-1zM16 10h1v1h-1zM16 11h1v1h-1zM16 12h1v1h-1zM16 13h1v1h-1zM16 14h1v1h-1zM16 15h1v1h-1zM16 16h1v1h-1zM16 17h1v1h-1zM16 18h1v1h-1zM16 19h1v1h-1zM16 20h1v1h-1zM16 21h1v1h-1zM16 22h1v1h-1zM16 23h1v1h-1z"/>
<path class="k" fill="#ffaf00" stroke="#ffaf00" d="M21 24h1v1h-1z"/>
<path class="k" fill="#ff9f00" stroke="#ff9f00" d="M11 24h4v1h-4z"/>
<path class="k" fill="#ff8f00" stroke="#ff8f00" d="M0 2h8v1h-8zM9 2h1v1h-1zM11 2h4v1h-4zM16 2h15v1h-15zM11 3h1v1h-1zM11 4h1v1h-1zM11 5h1v1h-1zM11 6h1v1h-1zM11 7h1v1h-1zM11 8h1v1h-1zM11 9h1v1h-1zM11 10h1v1h-1zM11 11h1v1h-1zM11 12h1v1h-1zM11 13h1v1h-1zM11 14h1v1h-1zM11 15h1v1h-1zM11 16h1v1h-1zM11 17h1v1h-1zM11 18h1v1h-1zM11 19h1v1h-1zM11 20h1v1h-1zM11 21h1v1h-1zM11 22h1v1h-1zM11 23h1v1h-1zM15 25h1v1h-1zM15 26h1v1h-1zM15 27h1v1h-1zM15 28h1v1h-1z"/>
<path class="k" fill="#ff7000" stroke="#ff7000" d="M17 24h4v1h-4zM11 25h1v1h-1z"/>
<path class="k" fill="#ff4000" stroke="#ff4000" d="M9 3h1v1h-1zM9 4h1v1h-1zM9 5h1v1h-1zM9 6h1v1h-1zM9 7h1v1h-1zM9 8h1v1h-1zM9 9h1v1h-1zM9 10h1v1h-1zM9 11h1v1h-1zM9 12h1v1h-1zM9 13h1v1h-1zM9 14h1v1h-1zM9 15h1v1h-1zM9 16h1v1h-1zM9 17h1v1h-1zM9 18h1v1h-1zM9 19h1v1h-1zM9 20h1v1h-1zM9 21h1v1h-1zM9 22h1v1h-1zM9 23h1v1h-1zM9 24h1v1h-1zM9 25h1v1h-1zM9 26h1v1h-1zM9 27h1v1h-1zM9 28h1v1h-1zM9 29h1v1h-1z"/>
<path class="k" fill="#ff2000" stroke="#ff2000" d="M12 3h3v1h-3zM12 4h3v1h-3zM12 5h3v1h-3zM12 6h3v1h-3zM12 7h3v1h-3zM12 8h3v1h-3zM12 9h3v1h-3zM12 10h3v1h-3zM12 11h3v1h-3zM12 12h3v1h-3zM12 13h3v1h-3zM12 14h3v1h-3zM12 15h3v1h-3zM12 16h3v1h-3zM12 17h3v1h-3zM12 18h3v1h-3zM12 19h3v1h-3zM12 20h3v1h-3zM12 21h3v1h-3zM12 22h3v1h-3zM12 23h3v1h-3zM24 29h5v1h-5z"/>
<path class="k" fill="#ff1000" stroke="#ff1000" d="M0 3h8v1h-8zM17 3h1v1h-1zM11 29h1v1h-1zM15 29h1v1h-1z"/>
<path class="k" fill="#ef0000" stroke="#ef0000" d="M18 28h6v1h-6z"/>
<path class="k" fill="#df0000" stroke="#df0000" d="M26 3h2v1h-2zM26 4h2v1h-2zM26 5h2v1h-2zM26 6h2v1h-2zM26 7h2v1h-2zM26 8h2v1h-2zM26 9h2v1h-2zM26 10h2v1h-2zM26 11h2v1h-2zM26 12h2v1h-2zM26 13h2v1h-2zM26 14h2v1h-2zM26 15h2v1h-2zM26 16h2v1h-2zM26 17h2v1h-2zM26 18h2v1h-2zM26 19h2v1h-2zM26 20h2v1h-2zM26 21h2v1h-2zM26 22h2v1h-2zM26 23h2v1h-2zM26 24h2v1h-2zM26 25h2v1h-2zM11 26h1v1h-1zM26 26h2v1h-2zM18 27h6v1h-6zM26 27h2v1h-2zM11 28h1v1h-1zM26 28h2v1h-2z"/>
<path class="k" fill="#cf0000" stroke="#cf0000" d="M18 26h6v1h-6z"/>
<path class="k" fill="#bf0000" stroke="#bf0000" d="M18 25h6v1h-6z"/>
<path class="k" fill="#af0000" stroke="#af0000" d="M18 3h6v1h-6zM18 4h6v1h-6zM18 5h6v1h-6zM18 6h6v1h-6zM18 7h6v1h-6zM18 8h6v1h-6zM18 9h6v1h-6zM18 10h6v1h-6zM18 11h6v1h-6zM18 12h6v1h-6zM18 13h6v1h-6zM18 14h6v1h-6zM18 15h6v1h-6zM18 16h6v1h-6zM18 17h6v1h-6zM18 18h6v1h-6zM18 19h6v1h-6zM18 20h6v1h-6zM18 21h6v1h-6zM18 22h6v1h-6zM18 23h6v1h-6zM22 24h2v1h-2zM13 25h2v1h-2zM13 26h2v1h-2zM13 27h2v1h-2zM13 28h2v1h-2zM13 29h2v1h-2z"/>
<path class="k" fill="#9f0000" stroke="#9f0000" d="M11 27h1v1h-1z"/>
<path class="gl" d="M1 0V31M0 1H31M2 0V31M0 2H31M3 0V31M0 3H31M4 0V31M0 4H31M5 0V31M0 5H31M6 0V31M0 6H31M7 0V31M0 7H31M8 0V31M0 8H31M9 0V31M0 9H31M10 0V31M0 10H31M11 0V31M0 11H31M12 0V31M0 12H31M13 0V31M0 13H31M14 0V31M0 14H31M15 0V31M0 15H31M16 0V31M0 16H31M17 0V31M0 17H31M18 0V31M0 18H31M19 0V31M0 19H31M20 0V31M0 20H31M21 0V31M0 21H31M22 0V31M0 22H31M23 0V31M0 23H31M24 0V31M0 24H31M25 0V31M0 25H31M26 0V31M0 26H31M27 0V31M0 27H31M28 0V31M0 28H31M29 0V31M0 29H31M30 0V31M0 30H31"/>
</g></g></svg>
<span class="tk" style="left:103.25px;top:538.3px">5</span>
<span class="tk" style="left:82.6px;top:521.56px">5</span>
<span class="tk" style="left:124.82px;top:538.3px">10</span>
<span class="tk" style="left:82.6px;top:503.38px">10</span>
<span class="tk" style="left:146.38px;top:538.3px">15</span>
<span class="tk" style="left:82.6px;top:485.2px">15</span>
<span class="tk" style="left:167.95px;top:538.3px">20</span>
<span class="tk" style="left:82.6px;top:467.03px">20</span>
<span class="tk" style="left:189.51px;top:538.3px">25</span>
<span class="tk" style="left:82.6px;top:448.85px">25</span>
<span class="tk" style="left:211.07px;top:538.3px">30</span>
<span class="tk" style="left:82.6px;top:430.67px">30</span>
<svg class="hm" style="left:225.9px;top:421.3px" width="137.2" height="116.7">
<g filter="url(#bl)"><rect width="100%" height="100%" fill="#fff"/>
<g transform="translate(2 2) scale(4.2968 3.6355)">
<rect width="31" height="31" fill="#ff0000"/>
<path class="k" fill="#00009f" stroke="#00009f" d="M0 29h2v1h-2zM0 30h31v1h-31z"/>
<path class="k" fill="#0000af" stroke="#0000af" d="M30 0h1v1h-1z"/>
<path class="k" fill="#0000ff" stroke="#0000ff" d="M14 0h3v1h-3zM8 29h1v1h-1z"/>
<path class="k" fill="#0080ff" stroke="#0080ff" d="M0 0h14v1h-14zM17 0h13v1h-13zM7 29h1v1h-1zM17 29h2v1h-2z"/>
<path class="k" fill="#00ffff" stroke="#00ffff" d="M13 1h4v1h-4zM8 27h1v1h-1zM8 28h1v1h-1zM2 29h4v1h-4zM16 29h1v1h-1zM19 29h1v1h-1z"/>
<path class="k" fill="#30ffcf" stroke="#30ffcf" d="M16 28h2v1h-2zM6 29h1v1h-1z"/>
<path class="k" fill="#60ff9f" stroke="#60ff9f" d="M0 1h13v1h-13zM17 1h3v1h-3z"/>
<path class="k" fill="#70ff8f" stroke="#70ff8f" d="M8 2h1v1h-1zM8 3h1v1h-1zM8 22h1v1h-1zM17 27h1v1h-1zM18 28h1v1h-1zM9 29h1v1h-1zM23 29h1v1h-1z"/>
<path class="k" fill="#80ff80" stroke="#80ff80" d="M20 1h11v1h-11z"/>
<path class="k" fill="#afff50" stroke="#afff50" d="M8 4h1v1h-1zM8 8h1v1h-1zM8 12h1v1h-1zM8 17h1v1h-1zM8 21h1v1h-1zM8 23h1v1h-1zM7 27h1v1h-1zM16 27h1v1h-1zM18 27h1v1h-1zM7 28h1v1h-1zM10 29h1v1h-1zM22 29h1v1h-1zM24 29h1v1h-1zM28 29h2v1h-2z"/>
<path class="k" fill="#ffff00" stroke="#ffff00" d="M9 2h2v1h-2zM13 2h1v1h-1zM9 3h1v1h-1zM9 4h1v1h-1zM15 4h1v1h-1zM8 5h3v1h-3zM15 5h1v1h-1zM10 6h1v1h-1zM8 7h1v1h-1zM10 7h1v1h-1zM9 8h1v1h-1zM8 9h1v1h-1zM15 10h1v1h-1zM8 11h1v1h-1zM15 11h2v1h-2zM9 12h1v1h-1zM15 12h1v1h-1zM9 13h2v1h-2zM16 13h1v1h-1zM10 14h2v1h-2zM15 16h1v1h-1zM10 17h1v1h-1zM8 18h1v1h-1zM15 20h1v1h-1zM15 21h1v1h-1zM15 22h1v1h-1zM9 24h1v1h-1zM10 25h1v1h-1zM8 26h1v1h-1zM9 28h1v1h-1zM15 28h1v1h-1z"/>
<path class="k" fill="#ffbf00" stroke="#ffbf00" d="M11 2h2v1h-2zM14 2h2v1h-2zM10 3h1v1h-1zM15 3h1v1h-1zM10 4h1v1h-1zM16 4h1v1h-1zM7 5h1v1h-1zM8 6h1v1h-1zM11 6h1v1h-1zM9 7h1v1h-1zM10 8h1v1h-1zM7 9h1v1h-1zM15 9h1v1h-1zM16 10h1v1h-1zM7 12h1v1h-1zM16 12h1v1h-1zM8 13h1v1h-1zM11 13h1v1h-1zM15 13h1v1h-1zM9 14h1v1h-1zM10 15h1v1h-1zM15 15h2v1h-2zM9 16h2v1h-2zM16 16h1v1h-1zM15 17h1v1h-1zM10 18h1v1h-1zM10 20h1v1h-1zM7 21h1v1h-1zM7 22h1v1h-1zM11 22h1v1h-1zM7 23h1v1h-1zM11 23h1v1h-1zM15 23h1v1h-1zM8 24h1v1h-1zM9 25h1v1h-1zM7 26h1v1h-1zM17 26h1v1h-1zM6 27h1v1h-1zM19 27h1v1h-1zM19 28h1v1h-1zM28 28h2v1h-2zM25 29h1v1h-1z"/>
<path class="k" fill="#ff9f00" stroke="#ff9f00" d="M7 4h1v1h-1z"/>
<path class="k" fill="#ff8f00" stroke="#ff8f00" d="M0 2h5v1h-5z"/>
<path class="k" fill="#ff8000" stroke="#ff8000" d="M5 2h3v1h-3zM16 2h1v1h-1zM7 3h1v1h-1zM11 3h1v1h-1zM14 3h1v1h-1zM16 3h1v1h-1zM11 4h2v1h-2zM11 5h1v1h-1zM13 5h2v1h-2zM16 5h1v1h-1zM7 6h1v1h-1zM12 6h1v1h-1zM15 6h1v1h-1zM7 7h1v1h-1zM11 7h1v1h-1zM7 8h1v1h-1zM11 8h1v1h-1zM15 8h1v1h-1zM9 9h2v1h-2zM16 9h1v1h-1zM7 10h3v1h-3zM9 11h1v1h-1zM6 12h1v1h-1zM10 12h1v1h-1zM17 12h1v1h-1zM6 13h2v1h-2zM12 13h1v1h-1zM17 13h1v1h-1zM8 14h1v1h-1zM12 14h1v1h-1zM15 14h2v1h-2zM8 15h2v1h-2zM11 15h2v1h-2zM14 15h1v1h-1zM8 16h1v1h-1zM11 16h2v1h-2zM14 16h1v1h-1zM17 16h1v1h-1zM7 17h1v1h-1zM9 17h1v1h-1zM11 17h1v1h-1zM16 17h1v1h-1zM7 18h1v1h-1zM9 18h1v1h-1zM11 18h1v1h-1zM15 18h2v1h-2zM8 19h1v1h-1zM10 19h2v1h-2zM16 19h1v1h-1zM6 20h3v1h-3zM11 20h2v1h-2zM16 20h1v1h-1zM6 21h1v1h-1zM10 21h3v1h-3zM16 21h1v1h-1zM6 22h1v1h-1zM10 22h1v1h-1zM12 22h1v1h-1zM16 22h1v1h-1zM9 23h2v1h-2zM12 23h1v1h-1zM16 23h1v1h-1zM7 24h1v1h-1zM10 24h3v1h-3zM15 24h2v1h-2zM8 25h1v1h-1zM11 25h1v1h-1zM16 25h2v1h-2zM6 26h1v1h-1zM9 26h2v1h-2zM16 26h1v1h-1zM18 26h1v1h-1zM5 27h1v1h-1zM9 27h1v1h-1zM15 27h1v1h-1zM6 28h1v1h-1zM10 28h1v1h-1zM14 28h1v1h-1zM21 29h1v1h-1zM27 29h1v1h-1z"/>
<path class="k" fill="#ff6000" stroke="#ff6000" d="M18 2h13v1h-13zM12 3h1v1h-1zM12 17h1v1h-1zM15 19h1v1h-1z"/>
<path class="k" fill="#ff4000" stroke="#ff4000" d="M17 2h1v1h-1zM13 6h2v1h-2zM16 6h1v1h-1zM12 7h1v1h-1zM15 7h1v1h-1zM16 8h1v1h-1zM11 9h1v1h-1zM10 10h1v1h-1zM14 10h1v1h-1zM7 11h1v1h-1zM10 11h1v1h-1zM14 11h1v1h-1zM17 11h1v1h-1zM11 12h1v1h-1zM14 12h1v1h-1zM14 13h1v1h-1zM7 14h1v1h-1zM17 15h1v1h-1zM7 19h1v1h-1zM9 22h1v1h-1zM7 25h1v1h-1zM12 25h1v1h-1zM11 26h1v1h-1zM20 29h1v1h-1zM26 29h1v1h-1zM30 29h1v1h-1z"/>
<path class="k" fill="#ef0000" stroke="#ef0000" d="M18 24h6v1h-6zM18 25h6v1h-6zM19 26h5v1h-5zM20 27h4v1h-4zM20 28h4v1h-4z"/>
<path class="k" fill="#df0000" stroke="#df0000" d="M24 3h1v1h-1zM24 4h1v1h-1zM24 5h1v1h-1zM24 6h1v1h-1zM24 7h1v1h-1zM24 8h1v1h-1zM24 9h1v1h-1zM24 10h1v1h-1zM24 11h1v1h-1zM24 12h1v1h-1zM24 13h1v1h-1zM24 14h1v1h-1zM24 15h1v1h-1zM24 16h1v1h-1zM24 17h1v1h-1zM24 18h1v1h-1zM24 19h1v1h-1zM24 20h1v1h-1zM24 21h1v1h-1zM24 22h1v1h-1zM24 23h1v1h-1zM24 24h1v1h-1zM24 25h1v1h-1zM24 26h1v1h-1zM24 27h1v1h-1zM24 28h1v1h-1z"/>
<path class="k" fill="#cf0000" stroke="#cf0000" d="M18 20h6v1h-6zM18 21h6v1h-6zM18 22h6v1h-6zM18 23h6v1h-6z"/>
<path class="k" fill="#bf0000" stroke="#bf0000" d="M18 3h1v1h-1zM23 3h1v1h-1zM18 4h1v1h-1zM23 4h1v1h-1zM18 5h1v1h-1zM23 5h1v1h-1zM18 6h1v1h-1zM23 6h1v1h-1zM18 7h1v1h-1zM23 7h1v1h-1zM18 8h1v1h-1zM23 8h1v1h-1zM18 9h1v1h-1zM23 9h1v1h-1zM18 10h1v1h-1zM23 10h1v1h-1zM18 11h1v1h-1zM23 11h1v1h-1zM18 12h1v1h-1zM23 12h1v1h-1zM18 13h1v1h-1zM23 13h1v1h-1zM18 14h1v1h-1zM23 14h1v1h-1zM18 15h1v1h-1zM23 15h1v1h-1zM18 16h1v1h-1zM23 16h1v1h-1zM18 17h1v1h-1zM23 17h1v1h-1zM18 18h1v1h-1zM23 18h1v1h-1zM18 19h1v1h-1zM23 19h1v1h-1z"/>
<path class="k" fill="#af0000" stroke="#af0000" d="M19 3h4v1h-4zM19 4h4v1h-4zM19 5h4v1h-4zM19 6h4v1h-4zM19 7h4v1h-4zM19 8h4v1h-4zM19 9h4v1h-4zM19 10h4v1h-4zM19 11h4v1h-4zM19 12h4v1h-4zM19 13h4v1h-4zM19 14h4v1h-4zM19 15h4v1h-4zM19 16h4v1h-4zM19 17h4v1h-4zM19 18h4v1h-4zM19 19h4v1h-4z"/>
<path class="gl" d="M1 0V31M0 1H31M2 0V31M0 2H31M3 0V31M0 3H31M4 0V31M0 4H31M5 0V31M0 5H31M6 0V31M0 6H31M7 0V31M0 7H31M8 0V31M0 8H31M9 0V31M0 9H31M10 0V31M0 10H31M11 0V31M0 11H31M12 0V31M0 12H31M13 0V31M0 13H31M14 0V31M0 14H31M15 0V31M0 15H31M16 0V31M0 16H31M17 0V31M0 17H31M18 0V31M0 18H31M19 0V31M0 19H31M20 0V31M0 20H31M21 0V31M0 21H31M22 0V31M0 22H31M23 0V31M0 23H31M24 0V31M0 24H31M25 0V31M0 25H31M26 0V31M0 26H31M27 0V31M0 27H31M28 0V31M0 28H31M29 0V31M0 29H31M30 0V31M0 30H31"/>
</g></g></svg>
<span class="tk" style="left:243.09px;top:538.3px">5</span>
<span class="tk" style="left:222.5px;top:521.56px">5</span>
<span class="tk" style="left:264.57px;top:538.3px">10</span>
<span class="tk" style="left:222.5px;top:503.38px">10</span>
<span class="tk" style="left:286.05px;top:538.3px">15</span>
<span class="tk" style="left:222.5px;top:485.2px">15</span>
<span class="tk" style="left:307.54px;top:538.3px">20</span>
<span class="tk" style="left:222.5px;top:467.03px">20</span>
<span class="tk" style="left:329.02px;top:538.3px">25</span>
<span class="tk" style="left:222.5px;top:448.85px">25</span>
<span class="tk" style="left:350.51px;top:538.3px">30</span>
<span class="tk" style="left:222.5px;top:430.67px">30</span>
<svg class="hm" style="left:365.1px;top:421.3px" width="137.3" height="116.7">
<g filter="url(#bl)"><rect width="100%" height="100%" fill="#fff"/>
<g transform="translate(2 2) scale(4.3000 3.6355)">
<rect width="31" height="31" fill="#ff0000"/>
<path class="k" fill="#0000cf" stroke="#0000cf" d="M27 30h1v1h-1z"/>
<path class="k" fill="#0000df" stroke="#0000df" d="M1 30h1v1h-1zM7 30h1v1h-1zM16 30h1v1h-1zM25 30h1v1h-1z"/>
<path class="k" fill="#0000ef" stroke="#0000ef" d="M4 30h2v1h-2zM11 30h1v1h-1zM15 30h1v1h-1zM17 30h1v1h-1zM19 30h2v1h-2zM26 30h1v1h-1z"/>
<path class="k" fill="#0000ff" stroke="#0000ff" d="M0 0h1v1h-1zM6 0h1v1h-1zM8 0h1v1h-1zM10 0h1v1h-1zM15 0h2v1h-2zM2 30h1v1h-1zM6 30h1v1h-1zM9 30h2v1h-2zM21 30h4v1h-4zM29 30h1v1h-1z"/>
<path class="k" fill="#0010ff" stroke="#0010ff" d="M0 30h1v1h-1zM8 30h1v1h-1zM28 30h1v1h-1zM30 30h1v1h-1z"/>
<path class="k" fill="#0020ff" stroke="#0020ff" d="M3 30h1v1h-1z"/>
<path class="k" fill="#0030ff" stroke="#0030ff" d="M18 30h1v1h-1z"/>
<path class="k" fill="#0070ff" stroke="#0070ff" d="M7 0h1v1h-1zM17 0h1v1h-1zM25 0h1v1h-1z"/>
<path class="k" fill="#0080ff" stroke="#0080ff" d="M1 0h1v1h-1zM11 0h1v1h-1zM18 0h1v1h-1zM23 0h1v1h-1zM12 30h1v1h-1zM14 30h1v1h-1z"/>
<path class="k" fill="#008fff" stroke="#008fff" d="M3 0h1v1h-1zM9 0h1v1h-1zM20 0h2v1h-2zM24 0h1v1h-1zM27 0h1v1h-1zM30 0h1v1h-1z"/>
<path class="k" fill="#009fff" stroke="#009fff" d="M2 0h1v1h-1zM12 0h3v1h-3zM19 0h1v1h-1z"/>
<path class="k" fill="#00afff" stroke="#00afff" d="M5 0h1v1h-1zM26 0h1v1h-1zM28 0h2v1h-2zM13 30h1v1h-1z"/>
<path class="k" fill="#00efff" stroke="#00efff" d="M4 0h1v1h-1zM22 0h1v1h-1z"/>
<path class="k" fill="#00ffff" stroke="#00ffff" d="M8 1h1v1h-1zM10 1h1v1h-1zM15 1h1v1h-1z"/>
<path class="k" fill="#8fff70" stroke="#8fff70" d="M3 1h1v1h-1zM25 1h1v1h-1z"/>
<path class="k" fill="#9fff60" stroke="#9fff60" d="M1 1h1v1h-1zM18 1h1v1h-1zM28 1h2v1h-2zM15 17h1v1h-1z"/>
<path class="k" fill="#afff50" stroke="#afff50" d="M20 1h1v1h-1zM26 1h1v1h-1zM8 5h1v1h-1zM15 13h1v1h-1z"/>
<path class="k" fill="#bfff40" stroke="#bfff40" d="M2 1h1v1h-1zM9 1h1v1h-1zM11 1h1v1h-1zM17 1h1v1h-1zM8 2h1v1h-1zM10 6h1v1h-1zM8 13h1v1h-1z"/>
<path class="k" fill="#cfff30" stroke="#cfff30" d="M24 1h1v1h-1zM8 8h1v1h-1zM8 11h1v1h-1zM15 11h1v1h-1zM8 12h1v1h-1zM8 15h1v1h-1zM8 18h1v1h-1zM8 23h1v1h-1z"/>
<path class="k" fill="#dfff20" stroke="#dfff20" d="M0 1h1v1h-1zM4 1h2v1h-2zM13 1h1v1h-1zM16 1h1v1h-1zM19 1h1v1h-1zM22 1h2v1h-2zM27 1h1v1h-1zM9 5h2v1h-2zM8 6h1v1h-1zM10 9h1v1h-1zM8 14h1v1h-1zM15 14h1v1h-1zM8 16h1v1h-1zM8 20h1v1h-1zM15 21h1v1h-1zM8 28h1v1h-1z"/>
<path class="k" fill="#efff10" stroke="#efff10" d="M6 1h2v1h-2zM14 1h1v1h-1zM30 1h1v1h-1zM8 3h1v1h-1zM8 7h1v1h-1zM8 9h1v1h-1zM8 10h1v1h-1zM10 12h1v1h-1zM8 17h1v1h-1zM8 26h1v1h-1z"/>
<path class="k" fill="#ffff00" stroke="#ffff00" d="M12 1h1v1h-1zM21 1h1v1h-1zM10 2h1v1h-1zM8 4h1v1h-1zM15 5h1v1h-1zM15 6h1v1h-1zM15 8h1v1h-1zM15 9h1v1h-1zM15 10h1v1h-1zM10 11h1v1h-1zM15 12h1v1h-1zM16 15h1v1h-1zM8 21h1v1h-1zM15 22h1v1h-1zM8 24h1v1h-1zM15 24h1v1h-1zM10 26h1v1h-1zM8 27h1v1h-1z"/>
<path class="k" fill="#ffef00" stroke="#ffef00" d="M15 2h1v1h-1zM15 3h1v1h-1zM15 4h1v1h-1zM10 7h1v1h-1zM15 7h1v1h-1zM15 16h1v1h-1zM10 18h1v1h-1zM15 18h1v1h-1zM8 19h1v1h-1zM16 19h1v1h-1zM8 22h1v1h-1zM10 22h1v1h-1zM16 22h1v1h-1zM8 25h1v1h-1zM15 26h1v1h-1zM15 27h1v1h-1zM28 29h1v1h-1z"/>
<path class="k" fill="#ffdf00" stroke="#ffdf00" d="M10 8h1v1h-1zM10 14h1v1h-1zM15 15h1v1h-1zM15 19h1v1h-1zM15 20h1v1h-1zM10 21h1v1h-1zM10 23h1v1h-1zM15 23h1v1h-1zM10 24h1v1h-1zM15 25h1v1h-1zM10 28h1v1h-1zM15 28h1v1h-1z"/>
<path class="k" fill="#ffcf00" stroke="#ffcf00" d="M10 3h1v1h-1zM16 4h1v1h-1zM10 10h1v1h-1zM16 12h1v1h-1zM16 14h1v1h-1zM10 16h1v1h-1zM10 19h1v1h-1zM10 20h1v1h-1zM16 25h1v1h-1zM10 27h1v1h-1zM8 29h1v1h-1zM10 29h1v1h-1zM23 29h1v1h-1z"/>
<path class="k" fill="#ffbf00" stroke="#ffbf00" d="M11 4h1v1h-1zM16 5h1v1h-1zM10 15h1v1h-1zM16 17h1v1h-1zM16 20h1v1h-1zM10 25h1v1h-1zM16 26h1v1h-1zM0 29h1v1h-1zM2 29h2v1h-2zM6 29h1v1h-1zM24 29h1v1h-1zM29 29h1v1h-1z"/>
<path class="k" fill="#ffaf00" stroke="#ffaf00" d="M0 2h1v1h-1zM6 2h1v1h-1zM16 3h1v1h-1zM11 6h1v1h-1zM16 7h1v1h-1zM16 9h1v1h-1zM16 11h1v1h-1zM16 13h1v1h-1zM16 18h1v1h-1zM16 21h1v1h-1zM16 23h1v1h-1zM16 27h1v1h-1zM7 29h1v1h-1zM16 29h3v1h-3zM21 29h2v1h-2zM25 29h1v1h-1z"/>
<path class="k" fill="#ff9f00" stroke="#ff9f00" d="M16 2h1v1h-1zM10 4h1v1h-1zM16 10h1v1h-1zM16 16h1v1h-1zM9 18h1v1h-1zM16 28h1v1h-1zM4 29h1v1h-1zM20 29h1v1h-1zM27 29h1v1h-1z"/>
<path class="k" fill="#ff8f00" stroke="#ff8f00" d="M1 2h1v1h-1zM7 2h1v1h-1zM13 2h1v1h-1zM10 13h1v1h-1zM9 15h1v1h-1zM9 17h2v1h-2zM16 24h1v1h-1zM9 28h1v1h-1zM11 28h1v1h-1zM1 29h1v1h-1zM9 29h1v1h-1zM19 29h1v1h-1zM30 29h1v1h-1z"/>
<path class="k" fill="#ff8000" stroke="#ff8000" d="M2 2h1v1h-1zM5 2h1v1h-1zM9 2h1v1h-1zM12 2h1v1h-1zM14 2h1v1h-1zM25 2h1v1h-1zM0 3h1v1h-1zM16 6h1v1h-1zM1 7h1v1h-1zM16 8h1v1h-1zM9 20h1v1h-1zM5 29h1v1h-1zM15 29h1v1h-1zM26 29h1v1h-1z"/>
<path class="k" fill="#ff7000" stroke="#ff7000" d="M4 2h1v1h-1zM11 2h1v1h-1zM9 8h1v1h-1zM0 12h1v1h-1zM9 12h1v1h-1zM9 13h1v1h-1zM11 13h1v1h-1zM11 14h1v1h-1zM11 15h1v1h-1zM9 16h1v1h-1zM11 16h1v1h-1zM3 26h1v1h-1zM11 27h1v1h-1z"/>
<path class="k" fill="#ff6000" stroke="#ff6000" d="M3 2h1v1h-1zM20 2h1v1h-1zM22 2h1v1h-1zM26 2h2v1h-2zM1 3h1v1h-1zM3 3h1v1h-1zM9 3h1v1h-1zM2 6h1v1h-1zM17 6h1v1h-1zM26 9h1v1h-1zM9 10h1v1h-1zM9 11h1v1h-1zM11 11h1v1h-1zM3 12h1v1h-1zM14 13h1v1h-1zM17 13h1v1h-1zM12 15h1v1h-1zM4 16h1v1h-1zM11 17h1v1h-1zM14 19h1v1h-1zM9 21h1v1h-1zM12 22h1v1h-1zM7 24h1v1h-1zM9 25h1v1h-1zM1 27h1v1h-1zM9 27h1v1h-1z"/>
<path class="k" fill="#ff5000" stroke="#ff5000" d="M17 2h1v1h-1zM19 2h1v1h-1zM21 2h1v1h-1zM28 2h2v1h-2zM6 3h1v1h-1zM9 4h1v1h-1zM9 6h1v1h-1zM9 7h1v1h-1zM4 8h1v1h-1zM11 8h1v1h-1zM9 9h1v1h-1zM11 10h1v1h-1zM12 11h1v1h-1zM11 12h1v1h-1zM5 16h2v1h-2zM11 18h1v1h-1zM1 19h1v1h-1zM4 19h1v1h-1zM11 19h1v1h-1zM7 20h1v1h-1zM11 20h1v1h-1zM17 20h1v1h-1zM11 21h1v1h-1zM13 21h1v1h-1zM9 24h1v1h-1zM11 26h3v1h-3zM5 28h1v1h-1z"/>
<path class="k" fill="#ff4000" stroke="#ff4000" d="M18 2h1v1h-1zM23 2h2v1h-2zM30 2h1v1h-1zM7 3h1v1h-1zM11 3h1v1h-1zM7 4h1v1h-1zM11 5h1v1h-1zM4 7h1v1h-1zM12 8h2v1h-2zM29 8h1v1h-1zM5 9h1v1h-1zM11 9h1v1h-1zM14 10h1v1h-1zM0 11h1v1h-1zM3 13h1v1h-1zM13 13h1v1h-1zM30 13h1v1h-1zM9 14h1v1h-1zM6 15h1v1h-1zM9 19h1v1h-1zM0 21h1v1h-1zM9 22h1v1h-1zM11 22h1v1h-1zM6 23h1v1h-1zM9 23h1v1h-1zM11 23h1v1h-1zM17 23h1v1h-1zM0 24h1v1h-1zM11 24h1v1h-1zM27 24h1v1h-1zM11 25h1v1h-1zM9 26h1v1h-1z"/>
<path class="k" fill="#ff3000" stroke="#ff3000" d="M5 3h1v1h-1zM26 3h1v1h-1zM2 7h1v1h-1zM11 7h1v1h-1zM0 8h1v1h-1zM12 9h1v1h-1zM7 10h1v1h-1zM12 10h1v1h-1zM17 10h1v1h-1zM1 13h1v1h-1zM18 16h2v1h-2zM3 18h1v1h-1zM12 18h1v1h-1zM7 19h1v1h-1zM6 20h1v1h-1zM19 20h1v1h-1zM1 21h1v1h-1zM22 21h1v1h-1zM12 23h2v1h-2zM1 24h1v1h-1zM4 24h1v1h-1zM6 24h1v1h-1zM5 25h1v1h-1zM13 25h1v1h-1zM7 26h1v1h-1zM20 27h1v1h-1zM6 28h1v1h-1zM25 28h1v1h-1z"/>
<path class="k" fill="#ff2000" stroke="#ff2000" d="M2 3h1v1h-1zM4 3h1v1h-1zM12 3h1v1h-1zM0 4h2v1h-2zM3 4h1v1h-1zM17 4h1v1h-1zM2 5h2v1h-2zM6 5h2v1h-2zM12 5h1v1h-1zM30 5h1v1h-1zM0 6h1v1h-1zM12 7h2v1h-2zM7 8h1v1h-1zM4 9h1v1h-1zM7 9h1v1h-1zM3 10h1v1h-1zM13 10h1v1h-1zM30 10h1v1h-1zM5 11h1v1h-1zM13 11h2v1h-2zM21 11h1v1h-1zM6 12h1v1h-1zM12 12h1v1h-1zM17 12h1v1h-1zM12 13h1v1h-1zM22 13h1v1h-1zM29 13h1v1h-1zM1 14h1v1h-1zM5 14h1v1h-1zM22 14h1v1h-1zM28 14h2v1h-2zM1 15h1v1h-1zM29 15h1v1h-1zM1 16h1v1h-1zM7 16h1v1h-1zM13 16h1v1h-1zM17 16h1v1h-1zM25 16h1v1h-1zM14 17h1v1h-1zM27 17h1v1h-1zM13 18h1v1h-1zM2 19h1v1h-1zM12 19h1v1h-1zM1 20h1v1h-1zM5 20h1v1h-1zM12 20h2v1h-2zM24 20h1v1h-1zM12 21h1v1h-1zM17 21h1v1h-1zM3 22h1v1h-1zM13 22h1v1h-1zM25 23h1v1h-1zM3 24h1v1h-1zM12 24h1v1h-1zM17 24h1v1h-1zM30 24h1v1h-1zM12 25h1v1h-1zM4 26h1v1h-1zM7 27h1v1h-1zM12 27h2v1h-2zM17 27h1v1h-1zM4 28h1v1h-1zM29 28h1v1h-1z"/>
<path class="k" fill="#ff1000" stroke="#ff1000" d="M28 3h1v1h-1zM2 4h1v1h-1zM4 4h1v1h-1zM12 4h3v1h-3zM13 5h2v1h-2zM17 5h1v1h-1zM26 5h1v1h-1zM3 6h1v1h-1zM5 6h1v1h-1zM24 6h2v1h-2zM0 7h1v1h-1zM25 7h4v1h-4zM6 8h1v1h-1zM17 8h1v1h-1zM24 8h1v1h-1zM30 8h1v1h-1zM0 9h4v1h-4zM6 9h1v1h-1zM13 9h1v1h-1zM28 9h3v1h-3zM2 10h1v1h-1zM4 10h1v1h-1zM6 10h1v1h-1zM25 10h2v1h-2zM1 11h1v1h-1zM3 11h1v1h-1zM24 11h1v1h-1zM30 11h1v1h-1zM2 12h1v1h-1zM5 12h1v1h-1zM7 12h1v1h-1zM25 12h1v1h-1zM28 12h1v1h-1zM7 13h1v1h-1zM0 14h1v1h-1zM2 14h2v1h-2zM7 14h1v1h-1zM14 14h1v1h-1zM25 14h1v1h-1zM2 15h1v1h-1zM5 15h1v1h-1zM17 15h1v1h-1zM22 15h1v1h-1zM26 15h1v1h-1zM28 15h1v1h-1zM0 16h1v1h-1zM12 16h1v1h-1zM28 16h1v1h-1zM0 17h1v1h-1zM2 17h2v1h-2zM13 17h1v1h-1zM17 17h1v1h-1zM19 17h1v1h-1zM25 17h1v1h-1zM1 18h1v1h-1zM5 18h1v1h-1zM3 19h1v1h-1zM6 19h1v1h-1zM24 19h1v1h-1zM27 19h1v1h-1zM25 20h1v1h-1zM28 20h1v1h-1zM3 21h1v1h-1zM24 21h1v1h-1zM29 21h1v1h-1zM7 22h1v1h-1zM14 22h1v1h-1zM3 23h1v1h-1zM5 23h1v1h-1zM28 23h1v1h-1zM0 25h3v1h-3zM6 25h2v1h-2zM17 25h1v1h-1zM21 25h1v1h-1zM2 26h1v1h-1zM5 26h2v1h-2zM17 26h1v1h-1zM3 27h2v1h-2zM14 27h1v1h-1zM29 27h2v1h-2zM0 28h1v1h-1zM2 28h2v1h-2zM7 28h1v1h-1zM17 28h1v1h-1zM28 28h1v1h-1zM11 29h4v1h-4z"/>
<path class="k" fill="#ef0000" stroke="#ef0000" d="M19 3h2v1h-2zM23 3h1v1h-1zM25 3h1v1h-1zM5 4h1v1h-1zM21 4h1v1h-1zM23 4h3v1h-3zM27 4h2v1h-2zM22 5h4v1h-4zM28 5h1v1h-1zM4 6h1v1h-1zM23 6h1v1h-1zM28 6h3v1h-3zM5 7h1v1h-1zM14 7h1v1h-1zM30 7h1v1h-1zM2 8h1v1h-1zM25 8h2v1h-2zM20 9h2v1h-2zM23 9h1v1h-1zM27 9h1v1h-1zM5 10h1v1h-1zM19 10h2v1h-2zM23 10h1v1h-1zM27 10h1v1h-1zM6 11h1v1h-1zM18 11h2v1h-2zM29 11h1v1h-1zM19 12h1v1h-1zM23 12h1v1h-1zM26 12h2v1h-2zM23 13h1v1h-1zM26 13h3v1h-3zM4 14h1v1h-1zM18 14h2v1h-2zM27 14h1v1h-1zM13 15h2v1h-2zM23 15h1v1h-1zM27 15h1v1h-1zM20 16h1v1h-1zM24 16h1v1h-1zM27 16h1v1h-1zM1 17h1v1h-1zM4 17h1v1h-1zM18 17h1v1h-1zM21 17h1v1h-1zM23 17h1v1h-1zM4 18h1v1h-1zM7 18h1v1h-1zM14 18h1v1h-1zM23 18h1v1h-1zM25 18h2v1h-2zM5 19h1v1h-1zM13 19h1v1h-1zM17 19h1v1h-1zM21 19h1v1h-1zM28 19h1v1h-1zM27 20h1v1h-1zM2 21h1v1h-1zM14 21h1v1h-1zM25 21h1v1h-1zM27 21h2v1h-2zM4 22h3v1h-3zM17 22h1v1h-1zM26 22h1v1h-1zM0 23h1v1h-1zM4 23h1v1h-1zM14 23h1v1h-1zM22 23h1v1h-1zM24 23h1v1h-1zM29 23h1v1h-1zM23 24h3v1h-3zM28 24h1v1h-1zM4 25h1v1h-1zM24 25h3v1h-3zM28 25h2v1h-2zM22 26h1v1h-1zM26 26h1v1h-1zM0 27h1v1h-1zM2 27h1v1h-1zM24 27h1v1h-1zM27 27h2v1h-2zM14 28h1v1h-1zM19 28h1v1h-1zM21 28h1v1h-1z"/>
<path class="k" fill="#df0000" stroke="#df0000" d="M13 3h2v1h-2zM17 3h2v1h-2zM21 3h1v1h-1zM24 3h1v1h-1zM29 3h1v1h-1zM19 4h2v1h-2zM30 4h1v1h-1zM5 5h1v1h-1zM18 5h1v1h-1zM20 5h2v1h-2zM19 6h2v1h-2zM19 7h2v1h-2zM22 7h1v1h-1zM22 8h1v1h-1zM28 8h1v1h-1zM18 9h2v1h-2zM22 9h1v1h-1zM24 10h1v1h-1zM20 11h1v1h-1zM22 11h2v1h-2zM1 12h1v1h-1zM21 12h1v1h-1zM24 12h1v1h-1zM29 12h2v1h-2zM5 13h1v1h-1zM18 13h1v1h-1zM20 13h1v1h-1zM12 14h1v1h-1zM26 14h1v1h-1zM0 15h1v1h-1zM21 16h2v1h-2zM12 17h1v1h-1zM20 17h1v1h-1zM22 17h1v1h-1zM0 18h1v1h-1zM18 19h1v1h-1zM30 19h1v1h-1zM20 20h2v1h-2zM26 20h1v1h-1zM30 20h1v1h-1zM19 21h1v1h-1zM23 21h1v1h-1zM26 21h1v1h-1zM30 21h1v1h-1zM1 22h1v1h-1zM18 22h1v1h-1zM23 22h1v1h-1zM28 22h1v1h-1zM2 23h1v1h-1zM20 23h2v1h-2zM23 23h1v1h-1zM27 23h1v1h-1zM30 23h1v1h-1zM18 24h4v1h-4zM18 25h1v1h-1zM20 25h1v1h-1zM22 25h1v1h-1zM1 26h1v1h-1zM18 26h1v1h-1zM24 26h2v1h-2zM27 26h1v1h-1zM21 27h1v1h-1zM20 28h1v1h-1zM23 28h1v1h-1z"/>
<path class="k" fill="#cf0000" stroke="#cf0000" d="M22 3h1v1h-1zM0 5h1v1h-1zM26 6h1v1h-1zM19 8h1v1h-1zM23 8h1v1h-1zM27 8h1v1h-1zM17 9h1v1h-1zM18 10h1v1h-1zM21 10h1v1h-1zM28 10h1v1h-1zM18 12h1v1h-1zM21 13h1v1h-1zM20 14h1v1h-1zM30 14h1v1h-1zM3 15h1v1h-1zM26 16h1v1h-1zM18 18h1v1h-1zM20 18h1v1h-1zM20 19h1v1h-1zM23 19h1v1h-1zM26 19h1v1h-1zM29 19h1v1h-1zM4 20h1v1h-1zM23 20h1v1h-1zM4 21h2v1h-2zM20 21h2v1h-2zM20 22h1v1h-1zM27 22h1v1h-1zM18 23h1v1h-1zM22 24h1v1h-1zM19 25h1v1h-1zM23 25h1v1h-1zM19 26h1v1h-1zM21 26h1v1h-1zM23 26h1v1h-1zM28 26h1v1h-1zM18 27h2v1h-2zM23 27h1v1h-1zM22 28h1v1h-1zM24 28h1v1h-1z"/>
<path class="k" fill="#bf0000" stroke="#bf0000" d="M22 4h1v1h-1zM19 5h1v1h-1zM21 6h1v1h-1zM18 7h1v1h-1zM23 7h1v1h-1zM20 8h1v1h-1zM22 10h1v1h-1zM23 14h1v1h-1zM19 15h1v1h-1zM21 15h1v1h-1zM30 17h1v1h-1zM22 18h1v1h-1zM19 19h1v1h-1zM22 19h1v1h-1zM22 20h1v1h-1zM21 22h2v1h-2zM25 22h1v1h-1zM18 28h1v1h-1z"/>
<path class="k" fill="#af0000" stroke="#af0000" d="M20 12h1v1h-1zM25 13h1v1h-1zM30 16h1v1h-1zM2 20h1v1h-1zM18 20h1v1h-1zM19 23h1v1h-1zM20 26h1v1h-1z"/>
<path class="k" fill="#9f0000" stroke="#9f0000" d="M27 6h1v1h-1zM26 11h1v1h-1zM20 15h1v1h-1zM19 22h1v1h-1zM22 27h1v1h-1z"/>
<path class="k" fill="#8f0000" stroke="#8f0000" d="M21 18h1v1h-1z"/>
<path class="gl" d="M1 0V31M0 1H31M2 0V31M0 2H31M3 0V31M0 3H31M4 0V31M0 4H31M5 0V31M0 5H31M6 0V31M0 6H31M7 0V31M0 7H31M8 0V31M0 8H31M9 0V31M0 9H31M10 0V31M0 10H31M11 0V31M0 11H31M12 0V31M0 12H31M13 0V31M0 13H31M14 0V31M0 14H31M15 0V31M0 15H31M16 0V31M0 16H31M17 0V31M0 17H31M18 0V31M0 18H31M19 0V31M0 19H31M20 0V31M0 20H31M21 0V31M0 21H31M22 0V31M0 22H31M23 0V31M0 23H31M24 0V31M0 24H31M25 0V31M0 25H31M26 0V31M0 26H31M27 0V31M0 27H31M28 0V31M0 28H31M29 0V31M0 29H31M30 0V31M0 30H31"/>
</g></g></svg>
<span class="tk" style="left:382.3px;top:538.3px">5</span>
<span class="tk" style="left:361.7px;top:521.56px">5</span>
<span class="tk" style="left:403.8px;top:538.3px">10</span>
<span class="tk" style="left:361.7px;top:503.38px">10</span>
<span class="tk" style="left:425.3px;top:538.3px">15</span>
<span class="tk" style="left:361.7px;top:485.2px">15</span>
<span class="tk" style="left:446.8px;top:538.3px">20</span>
<span class="tk" style="left:361.7px;top:467.03px">20</span>
<span class="tk" style="left:468.3px;top:538.3px">25</span>
<span class="tk" style="left:361.7px;top:448.85px">25</span>
<span class="tk" style="left:489.8px;top:538.3px">30</span>
<span class="tk" style="left:361.7px;top:430.67px">30</span>
</body></html>
